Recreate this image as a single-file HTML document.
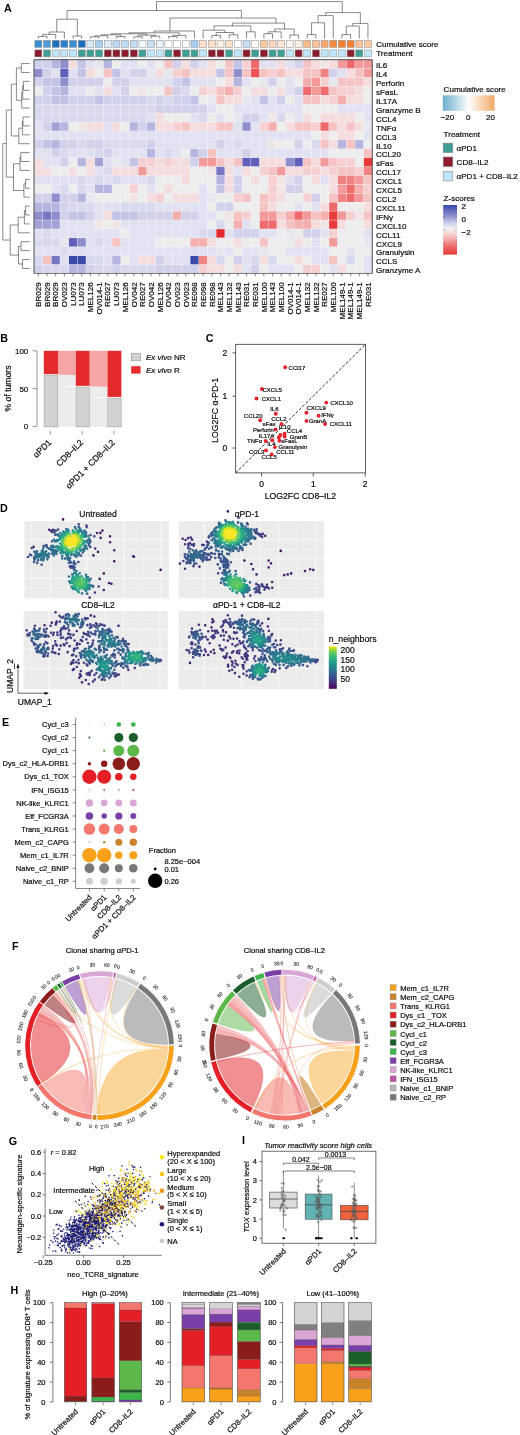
<!DOCTYPE html>
<html><head><meta charset="utf-8"><title>Figure</title>
<style>
html,body{margin:0;padding:0;background:#fff}
svg{display:block}
text{font-family:"Liberation Sans",sans-serif;fill:#0c0c0c;stroke:#0c0c0c;stroke-width:0.2px}
.pl{font-size:10.75px;font-weight:bold;fill:#000;stroke:none}
.t77{font-size:8.05px}
.t6{font-size:6px}
.t75{font-size:7.5px}
.t8{font-size:8px}
.t85{font-size:8.5px}
.t87{font-size:8.7px}
.t46{font-size:5px;fill:#222;stroke:#222;stroke-width:0.1px}
.t65{font-size:7px}
</style></head><body>
<svg width="520" height="1435" viewBox="0 0 520 1435">
<defs>
<linearGradient id="gcum" x1="0" x2="1" y1="0" y2="0"><stop offset="0" stop-color="#6db0cb"/><stop offset="0.25" stop-color="#b3d6e4"/><stop offset="0.5" stop-color="#ffffff"/><stop offset="0.75" stop-color="#f8d3b0"/><stop offset="1" stop-color="#f0a868"/></linearGradient>
<linearGradient id="gz" x1="0" x2="0" y1="0" y2="1"><stop offset="0" stop-color="#3848a8"/><stop offset="0.2" stop-color="#8888cc"/><stop offset="0.38" stop-color="#d4d4ec"/><stop offset="0.48" stop-color="#f2f0f2"/><stop offset="0.62" stop-color="#f6c8c8"/><stop offset="0.82" stop-color="#ef7070"/><stop offset="1" stop-color="#e83a3a"/></linearGradient>
<linearGradient id="gvir" x1="0" x2="0" y1="1" y2="0"><stop offset="0.0" stop-color="#440154"/><stop offset="0.125" stop-color="#482878"/><stop offset="0.25" stop-color="#3e4a89"/><stop offset="0.375" stop-color="#31688e"/><stop offset="0.5" stop-color="#26828e"/><stop offset="0.625" stop-color="#1f9e89"/><stop offset="0.75" stop-color="#35b779"/><stop offset="0.875" stop-color="#6ece58"/><stop offset="0.94" stop-color="#b5de2b"/><stop offset="1.0" stop-color="#fde725"/></linearGradient>
</defs>
<rect width="520" height="1435" fill="#fff"/>
<text x="3.9" y="12.3" class="pl">A</text>
<rect x="34" y="59.7" width="338.29" height="213.79" fill="#f4f4fb"/>
<rect x="34.23" y="59.93" width="8.22" height="8.46" fill="#d1d1eb"/>
<rect x="42.9" y="59.93" width="8.22" height="8.46" fill="#d1d1eb"/>
<rect x="51.57" y="59.93" width="8.22" height="8.46" fill="#b5b5df"/>
<rect x="60.25" y="59.93" width="8.22" height="8.46" fill="#8e8ecd"/>
<rect x="68.92" y="59.93" width="8.22" height="8.46" fill="#f5dddd"/>
<rect x="77.59" y="59.93" width="8.22" height="8.46" fill="#c3c3e5"/>
<rect x="86.27" y="59.93" width="8.22" height="8.46" fill="#e1e1f1"/>
<rect x="94.94" y="59.93" width="8.22" height="8.46" fill="#e7e7ef"/>
<rect x="103.62" y="59.93" width="8.22" height="8.46" fill="#b5b5df"/>
<rect x="112.29" y="59.93" width="8.22" height="8.46" fill="#ededed"/>
<rect x="120.96" y="59.93" width="8.22" height="8.46" fill="#e1e1f1"/>
<rect x="129.64" y="59.93" width="8.22" height="8.46" fill="#e1e1f1"/>
<rect x="138.31" y="59.93" width="8.22" height="8.46" fill="#ededed"/>
<rect x="146.99" y="59.93" width="8.22" height="8.46" fill="#e1e1f1"/>
<rect x="155.66" y="59.93" width="8.22" height="8.46" fill="#ededed"/>
<rect x="164.33" y="59.93" width="8.22" height="8.46" fill="#f6c3c3"/>
<rect x="173.01" y="59.93" width="8.22" height="8.46" fill="#d1d1eb"/>
<rect x="181.68" y="59.93" width="8.22" height="8.46" fill="#f5dddd"/>
<rect x="190.36" y="59.93" width="8.22" height="8.46" fill="#d1d1eb"/>
<rect x="199.03" y="59.93" width="8.22" height="8.46" fill="#e1e1f1"/>
<rect x="207.7" y="59.93" width="8.22" height="8.46" fill="#f5dddd"/>
<rect x="216.38" y="59.93" width="8.22" height="8.46" fill="#ededed"/>
<rect x="225.05" y="59.93" width="8.22" height="8.46" fill="#f6c3c3"/>
<rect x="233.73" y="59.93" width="8.22" height="8.46" fill="#c3c3e5"/>
<rect x="242.4" y="59.93" width="8.22" height="8.46" fill="#f6d0d0"/>
<rect x="251.07" y="59.93" width="8.22" height="8.46" fill="#ef6b6b"/>
<rect x="259.75" y="59.93" width="8.22" height="8.46" fill="#e1e1f1"/>
<rect x="268.42" y="59.93" width="8.22" height="8.46" fill="#e1e1f1"/>
<rect x="277.1" y="59.93" width="8.22" height="8.46" fill="#f5dddd"/>
<rect x="285.77" y="59.93" width="8.22" height="8.46" fill="#e1e1f1"/>
<rect x="294.44" y="59.93" width="8.22" height="8.46" fill="#d1d1eb"/>
<rect x="303.12" y="59.93" width="8.22" height="8.46" fill="#f6c3c3"/>
<rect x="311.79" y="59.93" width="8.22" height="8.46" fill="#f5dddd"/>
<rect x="320.47" y="59.93" width="8.22" height="8.46" fill="#f1e5e5"/>
<rect x="329.14" y="59.93" width="8.22" height="8.46" fill="#f5dddd"/>
<rect x="337.81" y="59.93" width="8.22" height="8.46" fill="#f39999"/>
<rect x="346.49" y="59.93" width="8.22" height="8.46" fill="#ef6b6b"/>
<rect x="355.16" y="59.93" width="8.22" height="8.46" fill="#f39999"/>
<rect x="363.84" y="59.93" width="8.22" height="8.46" fill="#f39999"/>
<rect x="34.23" y="68.83" width="8.22" height="8.46" fill="#8e8ecd"/>
<rect x="42.9" y="68.83" width="8.22" height="8.46" fill="#d1d1eb"/>
<rect x="51.57" y="68.83" width="8.22" height="8.46" fill="#e1e1f1"/>
<rect x="60.25" y="68.83" width="8.22" height="8.46" fill="#6060ba"/>
<rect x="68.92" y="68.83" width="8.22" height="8.46" fill="#e1e1f1"/>
<rect x="77.59" y="68.83" width="8.22" height="8.46" fill="#c3c3e5"/>
<rect x="86.27" y="68.83" width="8.22" height="8.46" fill="#f5dddd"/>
<rect x="94.94" y="68.83" width="8.22" height="8.46" fill="#ededed"/>
<rect x="103.62" y="68.83" width="8.22" height="8.46" fill="#f6c3c3"/>
<rect x="112.29" y="68.83" width="8.22" height="8.46" fill="#c3c3e5"/>
<rect x="120.96" y="68.83" width="8.22" height="8.46" fill="#e1e1f1"/>
<rect x="129.64" y="68.83" width="8.22" height="8.46" fill="#d1d1eb"/>
<rect x="138.31" y="68.83" width="8.22" height="8.46" fill="#d1d1eb"/>
<rect x="146.99" y="68.83" width="8.22" height="8.46" fill="#e7e7ef"/>
<rect x="155.66" y="68.83" width="8.22" height="8.46" fill="#f5dddd"/>
<rect x="164.33" y="68.83" width="8.22" height="8.46" fill="#e7e7ef"/>
<rect x="173.01" y="68.83" width="8.22" height="8.46" fill="#f6d0d0"/>
<rect x="181.68" y="68.83" width="8.22" height="8.46" fill="#f6c3c3"/>
<rect x="190.36" y="68.83" width="8.22" height="8.46" fill="#f5dddd"/>
<rect x="199.03" y="68.83" width="8.22" height="8.46" fill="#f5dddd"/>
<rect x="207.7" y="68.83" width="8.22" height="8.46" fill="#f5dddd"/>
<rect x="216.38" y="68.83" width="8.22" height="8.46" fill="#c3c3e5"/>
<rect x="225.05" y="68.83" width="8.22" height="8.46" fill="#f6c3c3"/>
<rect x="233.73" y="68.83" width="8.22" height="8.46" fill="#8e8ecd"/>
<rect x="242.4" y="68.83" width="8.22" height="8.46" fill="#f6c3c3"/>
<rect x="251.07" y="68.83" width="8.22" height="8.46" fill="#ec5252"/>
<rect x="259.75" y="68.83" width="8.22" height="8.46" fill="#f6c3c3"/>
<rect x="268.42" y="68.83" width="8.22" height="8.46" fill="#f6d0d0"/>
<rect x="277.1" y="68.83" width="8.22" height="8.46" fill="#f6c3c3"/>
<rect x="285.77" y="68.83" width="8.22" height="8.46" fill="#f5dddd"/>
<rect x="294.44" y="68.83" width="8.22" height="8.46" fill="#f5dddd"/>
<rect x="303.12" y="68.83" width="8.22" height="8.46" fill="#f6c3c3"/>
<rect x="311.79" y="68.83" width="8.22" height="8.46" fill="#f6c3c3"/>
<rect x="320.47" y="68.83" width="8.22" height="8.46" fill="#f18282"/>
<rect x="329.14" y="68.83" width="8.22" height="8.46" fill="#d1d1eb"/>
<rect x="337.81" y="68.83" width="8.22" height="8.46" fill="#e1e1f1"/>
<rect x="346.49" y="68.83" width="8.22" height="8.46" fill="#f5dddd"/>
<rect x="355.16" y="68.83" width="8.22" height="8.46" fill="#f6c3c3"/>
<rect x="363.84" y="68.83" width="8.22" height="8.46" fill="#f39999"/>
<rect x="34.23" y="77.74" width="8.22" height="8.46" fill="#d1d1eb"/>
<rect x="42.9" y="77.74" width="8.22" height="8.46" fill="#c3c3e5"/>
<rect x="51.57" y="77.74" width="8.22" height="8.46" fill="#c3c3e5"/>
<rect x="60.25" y="77.74" width="8.22" height="8.46" fill="#8e8ecd"/>
<rect x="68.92" y="77.74" width="8.22" height="8.46" fill="#d1d1eb"/>
<rect x="77.59" y="77.74" width="8.22" height="8.46" fill="#d1d1eb"/>
<rect x="86.27" y="77.74" width="8.22" height="8.46" fill="#d1d1eb"/>
<rect x="94.94" y="77.74" width="8.22" height="8.46" fill="#d1d1eb"/>
<rect x="103.62" y="77.74" width="8.22" height="8.46" fill="#ededed"/>
<rect x="112.29" y="77.74" width="8.22" height="8.46" fill="#d1d1eb"/>
<rect x="120.96" y="77.74" width="8.22" height="8.46" fill="#d1d1eb"/>
<rect x="129.64" y="77.74" width="8.22" height="8.46" fill="#e1e1f1"/>
<rect x="138.31" y="77.74" width="8.22" height="8.46" fill="#e1e1f1"/>
<rect x="146.99" y="77.74" width="8.22" height="8.46" fill="#e1e1f1"/>
<rect x="155.66" y="77.74" width="8.22" height="8.46" fill="#e1e1f1"/>
<rect x="164.33" y="77.74" width="8.22" height="8.46" fill="#e1e1f1"/>
<rect x="173.01" y="77.74" width="8.22" height="8.46" fill="#d1d1eb"/>
<rect x="181.68" y="77.74" width="8.22" height="8.46" fill="#c3c3e5"/>
<rect x="190.36" y="77.74" width="8.22" height="8.46" fill="#e1e1f1"/>
<rect x="199.03" y="77.74" width="8.22" height="8.46" fill="#e1e1f1"/>
<rect x="207.7" y="77.74" width="8.22" height="8.46" fill="#e1e1f1"/>
<rect x="216.38" y="77.74" width="8.22" height="8.46" fill="#ededed"/>
<rect x="225.05" y="77.74" width="8.22" height="8.46" fill="#f5dddd"/>
<rect x="233.73" y="77.74" width="8.22" height="8.46" fill="#b5b5df"/>
<rect x="242.4" y="77.74" width="8.22" height="8.46" fill="#e1e1f1"/>
<rect x="251.07" y="77.74" width="8.22" height="8.46" fill="#ededed"/>
<rect x="259.75" y="77.74" width="8.22" height="8.46" fill="#e7e7ef"/>
<rect x="268.42" y="77.74" width="8.22" height="8.46" fill="#d1d1eb"/>
<rect x="277.1" y="77.74" width="8.22" height="8.46" fill="#ededed"/>
<rect x="285.77" y="77.74" width="8.22" height="8.46" fill="#e1e1f1"/>
<rect x="294.44" y="77.74" width="8.22" height="8.46" fill="#ededed"/>
<rect x="303.12" y="77.74" width="8.22" height="8.46" fill="#f4aeae"/>
<rect x="311.79" y="77.74" width="8.22" height="8.46" fill="#f39999"/>
<rect x="320.47" y="77.74" width="8.22" height="8.46" fill="#f6d0d0"/>
<rect x="329.14" y="77.74" width="8.22" height="8.46" fill="#e7e7ef"/>
<rect x="337.81" y="77.74" width="8.22" height="8.46" fill="#f6c3c3"/>
<rect x="346.49" y="77.74" width="8.22" height="8.46" fill="#f6c3c3"/>
<rect x="355.16" y="77.74" width="8.22" height="8.46" fill="#f6c3c3"/>
<rect x="363.84" y="77.74" width="8.22" height="8.46" fill="#f5dddd"/>
<rect x="34.23" y="86.65" width="8.22" height="8.46" fill="#ededed"/>
<rect x="42.9" y="86.65" width="8.22" height="8.46" fill="#d1d1eb"/>
<rect x="51.57" y="86.65" width="8.22" height="8.46" fill="#c3c3e5"/>
<rect x="60.25" y="86.65" width="8.22" height="8.46" fill="#b5b5df"/>
<rect x="68.92" y="86.65" width="8.22" height="8.46" fill="#e1e1f1"/>
<rect x="77.59" y="86.65" width="8.22" height="8.46" fill="#e1e1f1"/>
<rect x="86.27" y="86.65" width="8.22" height="8.46" fill="#ededed"/>
<rect x="94.94" y="86.65" width="8.22" height="8.46" fill="#e1e1f1"/>
<rect x="103.62" y="86.65" width="8.22" height="8.46" fill="#f5dddd"/>
<rect x="112.29" y="86.65" width="8.22" height="8.46" fill="#e1e1f1"/>
<rect x="120.96" y="86.65" width="8.22" height="8.46" fill="#d1d1eb"/>
<rect x="129.64" y="86.65" width="8.22" height="8.46" fill="#ededed"/>
<rect x="138.31" y="86.65" width="8.22" height="8.46" fill="#f1e5e5"/>
<rect x="146.99" y="86.65" width="8.22" height="8.46" fill="#ededed"/>
<rect x="155.66" y="86.65" width="8.22" height="8.46" fill="#ededed"/>
<rect x="164.33" y="86.65" width="8.22" height="8.46" fill="#f6c3c3"/>
<rect x="173.01" y="86.65" width="8.22" height="8.46" fill="#d1d1eb"/>
<rect x="181.68" y="86.65" width="8.22" height="8.46" fill="#d9d9ee"/>
<rect x="190.36" y="86.65" width="8.22" height="8.46" fill="#ededed"/>
<rect x="199.03" y="86.65" width="8.22" height="8.46" fill="#f6d0d0"/>
<rect x="207.7" y="86.65" width="8.22" height="8.46" fill="#f5dddd"/>
<rect x="216.38" y="86.65" width="8.22" height="8.46" fill="#f6c3c3"/>
<rect x="225.05" y="86.65" width="8.22" height="8.46" fill="#f4aeae"/>
<rect x="233.73" y="86.65" width="8.22" height="8.46" fill="#f6d0d0"/>
<rect x="242.4" y="86.65" width="8.22" height="8.46" fill="#ededed"/>
<rect x="251.07" y="86.65" width="8.22" height="8.46" fill="#f5dddd"/>
<rect x="259.75" y="86.65" width="8.22" height="8.46" fill="#f5dddd"/>
<rect x="268.42" y="86.65" width="8.22" height="8.46" fill="#ededed"/>
<rect x="277.1" y="86.65" width="8.22" height="8.46" fill="#f5dddd"/>
<rect x="285.77" y="86.65" width="8.22" height="8.46" fill="#e1e1f1"/>
<rect x="294.44" y="86.65" width="8.22" height="8.46" fill="#d1d1eb"/>
<rect x="303.12" y="86.65" width="8.22" height="8.46" fill="#ef6b6b"/>
<rect x="311.79" y="86.65" width="8.22" height="8.46" fill="#f39999"/>
<rect x="320.47" y="86.65" width="8.22" height="8.46" fill="#ef6b6b"/>
<rect x="329.14" y="86.65" width="8.22" height="8.46" fill="#f6c3c3"/>
<rect x="337.81" y="86.65" width="8.22" height="8.46" fill="#f6d0d0"/>
<rect x="346.49" y="86.65" width="8.22" height="8.46" fill="#f6d0d0"/>
<rect x="355.16" y="86.65" width="8.22" height="8.46" fill="#f5dddd"/>
<rect x="363.84" y="86.65" width="8.22" height="8.46" fill="#ededed"/>
<rect x="34.23" y="95.56" width="8.22" height="8.46" fill="#d1d1eb"/>
<rect x="42.9" y="95.56" width="8.22" height="8.46" fill="#d1d1eb"/>
<rect x="51.57" y="95.56" width="8.22" height="8.46" fill="#c3c3e5"/>
<rect x="60.25" y="95.56" width="8.22" height="8.46" fill="#c3c3e5"/>
<rect x="68.92" y="95.56" width="8.22" height="8.46" fill="#d1d1eb"/>
<rect x="77.59" y="95.56" width="8.22" height="8.46" fill="#d1d1eb"/>
<rect x="86.27" y="95.56" width="8.22" height="8.46" fill="#d1d1eb"/>
<rect x="94.94" y="95.56" width="8.22" height="8.46" fill="#c3c3e5"/>
<rect x="103.62" y="95.56" width="8.22" height="8.46" fill="#d1d1eb"/>
<rect x="112.29" y="95.56" width="8.22" height="8.46" fill="#d1d1eb"/>
<rect x="120.96" y="95.56" width="8.22" height="8.46" fill="#d1d1eb"/>
<rect x="129.64" y="95.56" width="8.22" height="8.46" fill="#d1d1eb"/>
<rect x="138.31" y="95.56" width="8.22" height="8.46" fill="#d1d1eb"/>
<rect x="146.99" y="95.56" width="8.22" height="8.46" fill="#d9d9ee"/>
<rect x="155.66" y="95.56" width="8.22" height="8.46" fill="#d1d1eb"/>
<rect x="164.33" y="95.56" width="8.22" height="8.46" fill="#d9d9ee"/>
<rect x="173.01" y="95.56" width="8.22" height="8.46" fill="#d1d1eb"/>
<rect x="181.68" y="95.56" width="8.22" height="8.46" fill="#d1d1eb"/>
<rect x="190.36" y="95.56" width="8.22" height="8.46" fill="#c3c3e5"/>
<rect x="199.03" y="95.56" width="8.22" height="8.46" fill="#ededed"/>
<rect x="207.7" y="95.56" width="8.22" height="8.46" fill="#e7e7ef"/>
<rect x="216.38" y="95.56" width="8.22" height="8.46" fill="#f6c3c3"/>
<rect x="225.05" y="95.56" width="8.22" height="8.46" fill="#f5dddd"/>
<rect x="233.73" y="95.56" width="8.22" height="8.46" fill="#f5dddd"/>
<rect x="242.4" y="95.56" width="8.22" height="8.46" fill="#e7e7ef"/>
<rect x="251.07" y="95.56" width="8.22" height="8.46" fill="#e1e1f1"/>
<rect x="259.75" y="95.56" width="8.22" height="8.46" fill="#c3c3e5"/>
<rect x="268.42" y="95.56" width="8.22" height="8.46" fill="#e1e1f1"/>
<rect x="277.1" y="95.56" width="8.22" height="8.46" fill="#d1d1eb"/>
<rect x="285.77" y="95.56" width="8.22" height="8.46" fill="#ededed"/>
<rect x="294.44" y="95.56" width="8.22" height="8.46" fill="#e1e1f1"/>
<rect x="303.12" y="95.56" width="8.22" height="8.46" fill="#f6c3c3"/>
<rect x="311.79" y="95.56" width="8.22" height="8.46" fill="#f6c3c3"/>
<rect x="320.47" y="95.56" width="8.22" height="8.46" fill="#f5dddd"/>
<rect x="329.14" y="95.56" width="8.22" height="8.46" fill="#f6d0d0"/>
<rect x="337.81" y="95.56" width="8.22" height="8.46" fill="#f4aeae"/>
<rect x="346.49" y="95.56" width="8.22" height="8.46" fill="#f5dddd"/>
<rect x="355.16" y="95.56" width="8.22" height="8.46" fill="#f5dddd"/>
<rect x="363.84" y="95.56" width="8.22" height="8.46" fill="#ededed"/>
<rect x="34.23" y="104.47" width="8.22" height="8.46" fill="#d9d9ee"/>
<rect x="42.9" y="104.47" width="8.22" height="8.46" fill="#d9d9ee"/>
<rect x="51.57" y="104.47" width="8.22" height="8.46" fill="#d9d9ee"/>
<rect x="60.25" y="104.47" width="8.22" height="8.46" fill="#d9d9ee"/>
<rect x="68.92" y="104.47" width="8.22" height="8.46" fill="#d9d9ee"/>
<rect x="77.59" y="104.47" width="8.22" height="8.46" fill="#d9d9ee"/>
<rect x="86.27" y="104.47" width="8.22" height="8.46" fill="#d9d9ee"/>
<rect x="94.94" y="104.47" width="8.22" height="8.46" fill="#d9d9ee"/>
<rect x="103.62" y="104.47" width="8.22" height="8.46" fill="#d9d9ee"/>
<rect x="112.29" y="104.47" width="8.22" height="8.46" fill="#d9d9ee"/>
<rect x="120.96" y="104.47" width="8.22" height="8.46" fill="#d9d9ee"/>
<rect x="129.64" y="104.47" width="8.22" height="8.46" fill="#d9d9ee"/>
<rect x="138.31" y="104.47" width="8.22" height="8.46" fill="#d9d9ee"/>
<rect x="146.99" y="104.47" width="8.22" height="8.46" fill="#d9d9ee"/>
<rect x="155.66" y="104.47" width="8.22" height="8.46" fill="#d1d1eb"/>
<rect x="164.33" y="104.47" width="8.22" height="8.46" fill="#d1d1eb"/>
<rect x="173.01" y="104.47" width="8.22" height="8.46" fill="#d1d1eb"/>
<rect x="181.68" y="104.47" width="8.22" height="8.46" fill="#d1d1eb"/>
<rect x="190.36" y="104.47" width="8.22" height="8.46" fill="#d1d1eb"/>
<rect x="199.03" y="104.47" width="8.22" height="8.46" fill="#d1d1eb"/>
<rect x="207.7" y="104.47" width="8.22" height="8.46" fill="#e1e1f1"/>
<rect x="216.38" y="104.47" width="8.22" height="8.46" fill="#ededed"/>
<rect x="225.05" y="104.47" width="8.22" height="8.46" fill="#ededed"/>
<rect x="233.73" y="104.47" width="8.22" height="8.46" fill="#e1e1f1"/>
<rect x="242.4" y="104.47" width="8.22" height="8.46" fill="#e1e1f1"/>
<rect x="251.07" y="104.47" width="8.22" height="8.46" fill="#e1e1f1"/>
<rect x="259.75" y="104.47" width="8.22" height="8.46" fill="#e1e1f1"/>
<rect x="268.42" y="104.47" width="8.22" height="8.46" fill="#e1e1f1"/>
<rect x="277.1" y="104.47" width="8.22" height="8.46" fill="#e1e1f1"/>
<rect x="285.77" y="104.47" width="8.22" height="8.46" fill="#e1e1f1"/>
<rect x="294.44" y="104.47" width="8.22" height="8.46" fill="#e1e1f1"/>
<rect x="303.12" y="104.47" width="8.22" height="8.46" fill="#ededed"/>
<rect x="311.79" y="104.47" width="8.22" height="8.46" fill="#ededed"/>
<rect x="320.47" y="104.47" width="8.22" height="8.46" fill="#ededed"/>
<rect x="329.14" y="104.47" width="8.22" height="8.46" fill="#ededed"/>
<rect x="337.81" y="104.47" width="8.22" height="8.46" fill="#e1e1f1"/>
<rect x="346.49" y="104.47" width="8.22" height="8.46" fill="#e1e1f1"/>
<rect x="355.16" y="104.47" width="8.22" height="8.46" fill="#e1e1f1"/>
<rect x="363.84" y="104.47" width="8.22" height="8.46" fill="#e1e1f1"/>
<rect x="34.23" y="113.37" width="8.22" height="8.46" fill="#d9d9ee"/>
<rect x="42.9" y="113.37" width="8.22" height="8.46" fill="#d9d9ee"/>
<rect x="51.57" y="113.37" width="8.22" height="8.46" fill="#d9d9ee"/>
<rect x="60.25" y="113.37" width="8.22" height="8.46" fill="#d9d9ee"/>
<rect x="68.92" y="113.37" width="8.22" height="8.46" fill="#d9d9ee"/>
<rect x="77.59" y="113.37" width="8.22" height="8.46" fill="#d9d9ee"/>
<rect x="86.27" y="113.37" width="8.22" height="8.46" fill="#d9d9ee"/>
<rect x="94.94" y="113.37" width="8.22" height="8.46" fill="#d9d9ee"/>
<rect x="103.62" y="113.37" width="8.22" height="8.46" fill="#d9d9ee"/>
<rect x="112.29" y="113.37" width="8.22" height="8.46" fill="#d9d9ee"/>
<rect x="120.96" y="113.37" width="8.22" height="8.46" fill="#d9d9ee"/>
<rect x="129.64" y="113.37" width="8.22" height="8.46" fill="#d9d9ee"/>
<rect x="138.31" y="113.37" width="8.22" height="8.46" fill="#d9d9ee"/>
<rect x="146.99" y="113.37" width="8.22" height="8.46" fill="#e1e1f1"/>
<rect x="155.66" y="113.37" width="8.22" height="8.46" fill="#f5dddd"/>
<rect x="164.33" y="113.37" width="8.22" height="8.46" fill="#ededed"/>
<rect x="173.01" y="113.37" width="8.22" height="8.46" fill="#ededed"/>
<rect x="181.68" y="113.37" width="8.22" height="8.46" fill="#ededed"/>
<rect x="190.36" y="113.37" width="8.22" height="8.46" fill="#e1e1f1"/>
<rect x="199.03" y="113.37" width="8.22" height="8.46" fill="#d9d9ee"/>
<rect x="207.7" y="113.37" width="8.22" height="8.46" fill="#ededed"/>
<rect x="216.38" y="113.37" width="8.22" height="8.46" fill="#e1e1f1"/>
<rect x="225.05" y="113.37" width="8.22" height="8.46" fill="#ededed"/>
<rect x="233.73" y="113.37" width="8.22" height="8.46" fill="#e7e7ef"/>
<rect x="242.4" y="113.37" width="8.22" height="8.46" fill="#d1d1eb"/>
<rect x="251.07" y="113.37" width="8.22" height="8.46" fill="#d1d1eb"/>
<rect x="259.75" y="113.37" width="8.22" height="8.46" fill="#e1e1f1"/>
<rect x="268.42" y="113.37" width="8.22" height="8.46" fill="#f1e5e5"/>
<rect x="277.1" y="113.37" width="8.22" height="8.46" fill="#d9d9ee"/>
<rect x="285.77" y="113.37" width="8.22" height="8.46" fill="#ededed"/>
<rect x="294.44" y="113.37" width="8.22" height="8.46" fill="#e1e1f1"/>
<rect x="303.12" y="113.37" width="8.22" height="8.46" fill="#f5dddd"/>
<rect x="311.79" y="113.37" width="8.22" height="8.46" fill="#ededed"/>
<rect x="320.47" y="113.37" width="8.22" height="8.46" fill="#f5dddd"/>
<rect x="329.14" y="113.37" width="8.22" height="8.46" fill="#f5dddd"/>
<rect x="337.81" y="113.37" width="8.22" height="8.46" fill="#f5dddd"/>
<rect x="346.49" y="113.37" width="8.22" height="8.46" fill="#f5dddd"/>
<rect x="355.16" y="113.37" width="8.22" height="8.46" fill="#ededed"/>
<rect x="363.84" y="113.37" width="8.22" height="8.46" fill="#e1e1f1"/>
<rect x="34.23" y="122.28" width="8.22" height="8.46" fill="#e1e1f1"/>
<rect x="42.9" y="122.28" width="8.22" height="8.46" fill="#d1d1eb"/>
<rect x="51.57" y="122.28" width="8.22" height="8.46" fill="#a2a2d6"/>
<rect x="60.25" y="122.28" width="8.22" height="8.46" fill="#b5b5df"/>
<rect x="68.92" y="122.28" width="8.22" height="8.46" fill="#ededed"/>
<rect x="77.59" y="122.28" width="8.22" height="8.46" fill="#f1e5e5"/>
<rect x="86.27" y="122.28" width="8.22" height="8.46" fill="#f5dddd"/>
<rect x="94.94" y="122.28" width="8.22" height="8.46" fill="#f5dddd"/>
<rect x="103.62" y="122.28" width="8.22" height="8.46" fill="#e1e1f1"/>
<rect x="112.29" y="122.28" width="8.22" height="8.46" fill="#f5dddd"/>
<rect x="120.96" y="122.28" width="8.22" height="8.46" fill="#ededed"/>
<rect x="129.64" y="122.28" width="8.22" height="8.46" fill="#b5b5df"/>
<rect x="138.31" y="122.28" width="8.22" height="8.46" fill="#d1d1eb"/>
<rect x="146.99" y="122.28" width="8.22" height="8.46" fill="#b5b5df"/>
<rect x="155.66" y="122.28" width="8.22" height="8.46" fill="#f5dddd"/>
<rect x="164.33" y="122.28" width="8.22" height="8.46" fill="#f5dddd"/>
<rect x="173.01" y="122.28" width="8.22" height="8.46" fill="#f6d0d0"/>
<rect x="181.68" y="122.28" width="8.22" height="8.46" fill="#f6c3c3"/>
<rect x="190.36" y="122.28" width="8.22" height="8.46" fill="#f5dddd"/>
<rect x="199.03" y="122.28" width="8.22" height="8.46" fill="#f5dddd"/>
<rect x="207.7" y="122.28" width="8.22" height="8.46" fill="#f5dddd"/>
<rect x="216.38" y="122.28" width="8.22" height="8.46" fill="#f6c3c3"/>
<rect x="225.05" y="122.28" width="8.22" height="8.46" fill="#f6c3c3"/>
<rect x="233.73" y="122.28" width="8.22" height="8.46" fill="#e1e1f1"/>
<rect x="242.4" y="122.28" width="8.22" height="8.46" fill="#8e8ecd"/>
<rect x="251.07" y="122.28" width="8.22" height="8.46" fill="#e1e1f1"/>
<rect x="259.75" y="122.28" width="8.22" height="8.46" fill="#f6d0d0"/>
<rect x="268.42" y="122.28" width="8.22" height="8.46" fill="#f4aeae"/>
<rect x="277.1" y="122.28" width="8.22" height="8.46" fill="#ededed"/>
<rect x="285.77" y="122.28" width="8.22" height="8.46" fill="#f5dddd"/>
<rect x="294.44" y="122.28" width="8.22" height="8.46" fill="#f6c3c3"/>
<rect x="303.12" y="122.28" width="8.22" height="8.46" fill="#f6c3c3"/>
<rect x="311.79" y="122.28" width="8.22" height="8.46" fill="#f6d0d0"/>
<rect x="320.47" y="122.28" width="8.22" height="8.46" fill="#ef6b6b"/>
<rect x="329.14" y="122.28" width="8.22" height="8.46" fill="#f6c3c3"/>
<rect x="337.81" y="122.28" width="8.22" height="8.46" fill="#f5dddd"/>
<rect x="346.49" y="122.28" width="8.22" height="8.46" fill="#f6c3c3"/>
<rect x="355.16" y="122.28" width="8.22" height="8.46" fill="#f5dddd"/>
<rect x="363.84" y="122.28" width="8.22" height="8.46" fill="#e7e7ef"/>
<rect x="34.23" y="131.19" width="8.22" height="8.46" fill="#e1e1f1"/>
<rect x="42.9" y="131.19" width="8.22" height="8.46" fill="#e1e1f1"/>
<rect x="51.57" y="131.19" width="8.22" height="8.46" fill="#e1e1f1"/>
<rect x="60.25" y="131.19" width="8.22" height="8.46" fill="#e1e1f1"/>
<rect x="68.92" y="131.19" width="8.22" height="8.46" fill="#e1e1f1"/>
<rect x="77.59" y="131.19" width="8.22" height="8.46" fill="#e1e1f1"/>
<rect x="86.27" y="131.19" width="8.22" height="8.46" fill="#e1e1f1"/>
<rect x="94.94" y="131.19" width="8.22" height="8.46" fill="#e1e1f1"/>
<rect x="103.62" y="131.19" width="8.22" height="8.46" fill="#e1e1f1"/>
<rect x="112.29" y="131.19" width="8.22" height="8.46" fill="#e1e1f1"/>
<rect x="120.96" y="131.19" width="8.22" height="8.46" fill="#e1e1f1"/>
<rect x="129.64" y="131.19" width="8.22" height="8.46" fill="#e1e1f1"/>
<rect x="138.31" y="131.19" width="8.22" height="8.46" fill="#e1e1f1"/>
<rect x="146.99" y="131.19" width="8.22" height="8.46" fill="#e1e1f1"/>
<rect x="155.66" y="131.19" width="8.22" height="8.46" fill="#e1e1f1"/>
<rect x="164.33" y="131.19" width="8.22" height="8.46" fill="#e1e1f1"/>
<rect x="173.01" y="131.19" width="8.22" height="8.46" fill="#e1e1f1"/>
<rect x="181.68" y="131.19" width="8.22" height="8.46" fill="#e1e1f1"/>
<rect x="190.36" y="131.19" width="8.22" height="8.46" fill="#e1e1f1"/>
<rect x="199.03" y="131.19" width="8.22" height="8.46" fill="#e1e1f1"/>
<rect x="207.7" y="131.19" width="8.22" height="8.46" fill="#e1e1f1"/>
<rect x="216.38" y="131.19" width="8.22" height="8.46" fill="#e1e1f1"/>
<rect x="225.05" y="131.19" width="8.22" height="8.46" fill="#e1e1f1"/>
<rect x="233.73" y="131.19" width="8.22" height="8.46" fill="#e1e1f1"/>
<rect x="242.4" y="131.19" width="8.22" height="8.46" fill="#e1e1f1"/>
<rect x="251.07" y="131.19" width="8.22" height="8.46" fill="#e1e1f1"/>
<rect x="259.75" y="131.19" width="8.22" height="8.46" fill="#e1e1f1"/>
<rect x="268.42" y="131.19" width="8.22" height="8.46" fill="#e1e1f1"/>
<rect x="277.1" y="131.19" width="8.22" height="8.46" fill="#e1e1f1"/>
<rect x="285.77" y="131.19" width="8.22" height="8.46" fill="#e1e1f1"/>
<rect x="294.44" y="131.19" width="8.22" height="8.46" fill="#e1e1f1"/>
<rect x="303.12" y="131.19" width="8.22" height="8.46" fill="#e1e1f1"/>
<rect x="311.79" y="131.19" width="8.22" height="8.46" fill="#ededed"/>
<rect x="320.47" y="131.19" width="8.22" height="8.46" fill="#f5dddd"/>
<rect x="329.14" y="131.19" width="8.22" height="8.46" fill="#ededed"/>
<rect x="337.81" y="131.19" width="8.22" height="8.46" fill="#f5dddd"/>
<rect x="346.49" y="131.19" width="8.22" height="8.46" fill="#f5dddd"/>
<rect x="355.16" y="131.19" width="8.22" height="8.46" fill="#ededed"/>
<rect x="363.84" y="131.19" width="8.22" height="8.46" fill="#e1e1f1"/>
<rect x="34.23" y="140.1" width="8.22" height="8.46" fill="#d1d1eb"/>
<rect x="42.9" y="140.1" width="8.22" height="8.46" fill="#c3c3e5"/>
<rect x="51.57" y="140.1" width="8.22" height="8.46" fill="#b5b5df"/>
<rect x="60.25" y="140.1" width="8.22" height="8.46" fill="#d1d1eb"/>
<rect x="68.92" y="140.1" width="8.22" height="8.46" fill="#d1d1eb"/>
<rect x="77.59" y="140.1" width="8.22" height="8.46" fill="#d9d9ee"/>
<rect x="86.27" y="140.1" width="8.22" height="8.46" fill="#d1d1eb"/>
<rect x="94.94" y="140.1" width="8.22" height="8.46" fill="#d1d1eb"/>
<rect x="103.62" y="140.1" width="8.22" height="8.46" fill="#d9d9ee"/>
<rect x="112.29" y="140.1" width="8.22" height="8.46" fill="#d9d9ee"/>
<rect x="120.96" y="140.1" width="8.22" height="8.46" fill="#d9d9ee"/>
<rect x="129.64" y="140.1" width="8.22" height="8.46" fill="#d9d9ee"/>
<rect x="138.31" y="140.1" width="8.22" height="8.46" fill="#d9d9ee"/>
<rect x="146.99" y="140.1" width="8.22" height="8.46" fill="#d1d1eb"/>
<rect x="155.66" y="140.1" width="8.22" height="8.46" fill="#e1e1f1"/>
<rect x="164.33" y="140.1" width="8.22" height="8.46" fill="#e1e1f1"/>
<rect x="173.01" y="140.1" width="8.22" height="8.46" fill="#e1e1f1"/>
<rect x="181.68" y="140.1" width="8.22" height="8.46" fill="#e1e1f1"/>
<rect x="190.36" y="140.1" width="8.22" height="8.46" fill="#e1e1f1"/>
<rect x="199.03" y="140.1" width="8.22" height="8.46" fill="#e1e1f1"/>
<rect x="207.7" y="140.1" width="8.22" height="8.46" fill="#e1e1f1"/>
<rect x="216.38" y="140.1" width="8.22" height="8.46" fill="#d1d1eb"/>
<rect x="225.05" y="140.1" width="8.22" height="8.46" fill="#e1e1f1"/>
<rect x="233.73" y="140.1" width="8.22" height="8.46" fill="#d9d9ee"/>
<rect x="242.4" y="140.1" width="8.22" height="8.46" fill="#e1e1f1"/>
<rect x="251.07" y="140.1" width="8.22" height="8.46" fill="#e1e1f1"/>
<rect x="259.75" y="140.1" width="8.22" height="8.46" fill="#e1e1f1"/>
<rect x="268.42" y="140.1" width="8.22" height="8.46" fill="#f1e5e5"/>
<rect x="277.1" y="140.1" width="8.22" height="8.46" fill="#ededed"/>
<rect x="285.77" y="140.1" width="8.22" height="8.46" fill="#ededed"/>
<rect x="294.44" y="140.1" width="8.22" height="8.46" fill="#d1d1eb"/>
<rect x="303.12" y="140.1" width="8.22" height="8.46" fill="#ededed"/>
<rect x="311.79" y="140.1" width="8.22" height="8.46" fill="#d9d9ee"/>
<rect x="320.47" y="140.1" width="8.22" height="8.46" fill="#f6c3c3"/>
<rect x="329.14" y="140.1" width="8.22" height="8.46" fill="#f5dddd"/>
<rect x="337.81" y="140.1" width="8.22" height="8.46" fill="#b5b5df"/>
<rect x="346.49" y="140.1" width="8.22" height="8.46" fill="#f6c3c3"/>
<rect x="355.16" y="140.1" width="8.22" height="8.46" fill="#b5b5df"/>
<rect x="363.84" y="140.1" width="8.22" height="8.46" fill="#ededed"/>
<rect x="34.23" y="149" width="8.22" height="8.46" fill="#e1e1f1"/>
<rect x="42.9" y="149" width="8.22" height="8.46" fill="#e1e1f1"/>
<rect x="51.57" y="149" width="8.22" height="8.46" fill="#d1d1eb"/>
<rect x="60.25" y="149" width="8.22" height="8.46" fill="#d9d9ee"/>
<rect x="68.92" y="149" width="8.22" height="8.46" fill="#e1e1f1"/>
<rect x="77.59" y="149" width="8.22" height="8.46" fill="#e1e1f1"/>
<rect x="86.27" y="149" width="8.22" height="8.46" fill="#e1e1f1"/>
<rect x="94.94" y="149" width="8.22" height="8.46" fill="#d9d9ee"/>
<rect x="103.62" y="149" width="8.22" height="8.46" fill="#d1d1eb"/>
<rect x="112.29" y="149" width="8.22" height="8.46" fill="#e1e1f1"/>
<rect x="120.96" y="149" width="8.22" height="8.46" fill="#e1e1f1"/>
<rect x="129.64" y="149" width="8.22" height="8.46" fill="#e1e1f1"/>
<rect x="138.31" y="149" width="8.22" height="8.46" fill="#e1e1f1"/>
<rect x="146.99" y="149" width="8.22" height="8.46" fill="#b5b5df"/>
<rect x="155.66" y="149" width="8.22" height="8.46" fill="#e1e1f1"/>
<rect x="164.33" y="149" width="8.22" height="8.46" fill="#d9d9ee"/>
<rect x="173.01" y="149" width="8.22" height="8.46" fill="#e1e1f1"/>
<rect x="181.68" y="149" width="8.22" height="8.46" fill="#ededed"/>
<rect x="190.36" y="149" width="8.22" height="8.46" fill="#b5b5df"/>
<rect x="199.03" y="149" width="8.22" height="8.46" fill="#d1d1eb"/>
<rect x="207.7" y="149" width="8.22" height="8.46" fill="#f6c3c3"/>
<rect x="216.38" y="149" width="8.22" height="8.46" fill="#e1e1f1"/>
<rect x="225.05" y="149" width="8.22" height="8.46" fill="#e1e1f1"/>
<rect x="233.73" y="149" width="8.22" height="8.46" fill="#e1e1f1"/>
<rect x="242.4" y="149" width="8.22" height="8.46" fill="#d1d1eb"/>
<rect x="251.07" y="149" width="8.22" height="8.46" fill="#e1e1f1"/>
<rect x="259.75" y="149" width="8.22" height="8.46" fill="#e1e1f1"/>
<rect x="268.42" y="149" width="8.22" height="8.46" fill="#e1e1f1"/>
<rect x="277.1" y="149" width="8.22" height="8.46" fill="#e1e1f1"/>
<rect x="285.77" y="149" width="8.22" height="8.46" fill="#e1e1f1"/>
<rect x="294.44" y="149" width="8.22" height="8.46" fill="#e1e1f1"/>
<rect x="303.12" y="149" width="8.22" height="8.46" fill="#e1e1f1"/>
<rect x="311.79" y="149" width="8.22" height="8.46" fill="#e1e1f1"/>
<rect x="320.47" y="149" width="8.22" height="8.46" fill="#e1e1f1"/>
<rect x="329.14" y="149" width="8.22" height="8.46" fill="#ededed"/>
<rect x="337.81" y="149" width="8.22" height="8.46" fill="#ededed"/>
<rect x="346.49" y="149" width="8.22" height="8.46" fill="#ededed"/>
<rect x="355.16" y="149" width="8.22" height="8.46" fill="#ededed"/>
<rect x="363.84" y="149" width="8.22" height="8.46" fill="#f6c3c3"/>
<rect x="34.23" y="157.91" width="8.22" height="8.46" fill="#f5dddd"/>
<rect x="42.9" y="157.91" width="8.22" height="8.46" fill="#e1e1f1"/>
<rect x="51.57" y="157.91" width="8.22" height="8.46" fill="#e1e1f1"/>
<rect x="60.25" y="157.91" width="8.22" height="8.46" fill="#d1d1eb"/>
<rect x="68.92" y="157.91" width="8.22" height="8.46" fill="#ededed"/>
<rect x="77.59" y="157.91" width="8.22" height="8.46" fill="#b5b5df"/>
<rect x="86.27" y="157.91" width="8.22" height="8.46" fill="#f5dddd"/>
<rect x="94.94" y="157.91" width="8.22" height="8.46" fill="#a2a2d6"/>
<rect x="103.62" y="157.91" width="8.22" height="8.46" fill="#e1e1f1"/>
<rect x="112.29" y="157.91" width="8.22" height="8.46" fill="#e7e7ef"/>
<rect x="120.96" y="157.91" width="8.22" height="8.46" fill="#e1e1f1"/>
<rect x="129.64" y="157.91" width="8.22" height="8.46" fill="#c3c3e5"/>
<rect x="138.31" y="157.91" width="8.22" height="8.46" fill="#f6d0d0"/>
<rect x="146.99" y="157.91" width="8.22" height="8.46" fill="#f6d0d0"/>
<rect x="155.66" y="157.91" width="8.22" height="8.46" fill="#f5dddd"/>
<rect x="164.33" y="157.91" width="8.22" height="8.46" fill="#f6d0d0"/>
<rect x="173.01" y="157.91" width="8.22" height="8.46" fill="#f5dddd"/>
<rect x="181.68" y="157.91" width="8.22" height="8.46" fill="#f5dddd"/>
<rect x="190.36" y="157.91" width="8.22" height="8.46" fill="#d1d1eb"/>
<rect x="199.03" y="157.91" width="8.22" height="8.46" fill="#f39999"/>
<rect x="207.7" y="157.91" width="8.22" height="8.46" fill="#f39999"/>
<rect x="216.38" y="157.91" width="8.22" height="8.46" fill="#f6c3c3"/>
<rect x="225.05" y="157.91" width="8.22" height="8.46" fill="#f5dddd"/>
<rect x="233.73" y="157.91" width="8.22" height="8.46" fill="#f6c3c3"/>
<rect x="242.4" y="157.91" width="8.22" height="8.46" fill="#6060ba"/>
<rect x="251.07" y="157.91" width="8.22" height="8.46" fill="#6060ba"/>
<rect x="259.75" y="157.91" width="8.22" height="8.46" fill="#f5dddd"/>
<rect x="268.42" y="157.91" width="8.22" height="8.46" fill="#f5dddd"/>
<rect x="277.1" y="157.91" width="8.22" height="8.46" fill="#f5dddd"/>
<rect x="285.77" y="157.91" width="8.22" height="8.46" fill="#8e8ecd"/>
<rect x="294.44" y="157.91" width="8.22" height="8.46" fill="#6060ba"/>
<rect x="303.12" y="157.91" width="8.22" height="8.46" fill="#f6c3c3"/>
<rect x="311.79" y="157.91" width="8.22" height="8.46" fill="#f5dddd"/>
<rect x="320.47" y="157.91" width="8.22" height="8.46" fill="#f39999"/>
<rect x="329.14" y="157.91" width="8.22" height="8.46" fill="#f6c3c3"/>
<rect x="337.81" y="157.91" width="8.22" height="8.46" fill="#f6d0d0"/>
<rect x="346.49" y="157.91" width="8.22" height="8.46" fill="#f6d0d0"/>
<rect x="355.16" y="157.91" width="8.22" height="8.46" fill="#ededed"/>
<rect x="363.84" y="157.91" width="8.22" height="8.46" fill="#e93a3a"/>
<rect x="34.23" y="166.82" width="8.22" height="8.46" fill="#f5dddd"/>
<rect x="42.9" y="166.82" width="8.22" height="8.46" fill="#f5dddd"/>
<rect x="51.57" y="166.82" width="8.22" height="8.46" fill="#ededed"/>
<rect x="60.25" y="166.82" width="8.22" height="8.46" fill="#ededed"/>
<rect x="68.92" y="166.82" width="8.22" height="8.46" fill="#f5dddd"/>
<rect x="77.59" y="166.82" width="8.22" height="8.46" fill="#ededed"/>
<rect x="86.27" y="166.82" width="8.22" height="8.46" fill="#f5dddd"/>
<rect x="94.94" y="166.82" width="8.22" height="8.46" fill="#e1e1f1"/>
<rect x="103.62" y="166.82" width="8.22" height="8.46" fill="#d9d9ee"/>
<rect x="112.29" y="166.82" width="8.22" height="8.46" fill="#f5dddd"/>
<rect x="120.96" y="166.82" width="8.22" height="8.46" fill="#f5dddd"/>
<rect x="129.64" y="166.82" width="8.22" height="8.46" fill="#f5dddd"/>
<rect x="138.31" y="166.82" width="8.22" height="8.46" fill="#f39999"/>
<rect x="146.99" y="166.82" width="8.22" height="8.46" fill="#f5dddd"/>
<rect x="155.66" y="166.82" width="8.22" height="8.46" fill="#f5dddd"/>
<rect x="164.33" y="166.82" width="8.22" height="8.46" fill="#f5dddd"/>
<rect x="173.01" y="166.82" width="8.22" height="8.46" fill="#f5dddd"/>
<rect x="181.68" y="166.82" width="8.22" height="8.46" fill="#f5dddd"/>
<rect x="190.36" y="166.82" width="8.22" height="8.46" fill="#ededed"/>
<rect x="199.03" y="166.82" width="8.22" height="8.46" fill="#ededed"/>
<rect x="207.7" y="166.82" width="8.22" height="8.46" fill="#f1e5e5"/>
<rect x="216.38" y="166.82" width="8.22" height="8.46" fill="#7777c4"/>
<rect x="225.05" y="166.82" width="8.22" height="8.46" fill="#f5dddd"/>
<rect x="233.73" y="166.82" width="8.22" height="8.46" fill="#e1e1f1"/>
<rect x="242.4" y="166.82" width="8.22" height="8.46" fill="#f5dddd"/>
<rect x="251.07" y="166.82" width="8.22" height="8.46" fill="#ededed"/>
<rect x="259.75" y="166.82" width="8.22" height="8.46" fill="#f6d0d0"/>
<rect x="268.42" y="166.82" width="8.22" height="8.46" fill="#f6c3c3"/>
<rect x="277.1" y="166.82" width="8.22" height="8.46" fill="#f39999"/>
<rect x="285.77" y="166.82" width="8.22" height="8.46" fill="#f5dddd"/>
<rect x="294.44" y="166.82" width="8.22" height="8.46" fill="#f5dddd"/>
<rect x="303.12" y="166.82" width="8.22" height="8.46" fill="#f6d0d0"/>
<rect x="311.79" y="166.82" width="8.22" height="8.46" fill="#f6d0d0"/>
<rect x="320.47" y="166.82" width="8.22" height="8.46" fill="#f5dddd"/>
<rect x="329.14" y="166.82" width="8.22" height="8.46" fill="#f6d0d0"/>
<rect x="337.81" y="166.82" width="8.22" height="8.46" fill="#f6c3c3"/>
<rect x="346.49" y="166.82" width="8.22" height="8.46" fill="#f6c3c3"/>
<rect x="355.16" y="166.82" width="8.22" height="8.46" fill="#f6d0d0"/>
<rect x="363.84" y="166.82" width="8.22" height="8.46" fill="#f18282"/>
<rect x="34.23" y="175.73" width="8.22" height="8.46" fill="#e1e1f1"/>
<rect x="42.9" y="175.73" width="8.22" height="8.46" fill="#e1e1f1"/>
<rect x="51.57" y="175.73" width="8.22" height="8.46" fill="#e1e1f1"/>
<rect x="60.25" y="175.73" width="8.22" height="8.46" fill="#e1e1f1"/>
<rect x="68.92" y="175.73" width="8.22" height="8.46" fill="#e1e1f1"/>
<rect x="77.59" y="175.73" width="8.22" height="8.46" fill="#d9d9ee"/>
<rect x="86.27" y="175.73" width="8.22" height="8.46" fill="#e1e1f1"/>
<rect x="94.94" y="175.73" width="8.22" height="8.46" fill="#d9d9ee"/>
<rect x="103.62" y="175.73" width="8.22" height="8.46" fill="#e1e1f1"/>
<rect x="112.29" y="175.73" width="8.22" height="8.46" fill="#d9d9ee"/>
<rect x="120.96" y="175.73" width="8.22" height="8.46" fill="#e1e1f1"/>
<rect x="129.64" y="175.73" width="8.22" height="8.46" fill="#e1e1f1"/>
<rect x="138.31" y="175.73" width="8.22" height="8.46" fill="#e1e1f1"/>
<rect x="146.99" y="175.73" width="8.22" height="8.46" fill="#d9d9ee"/>
<rect x="155.66" y="175.73" width="8.22" height="8.46" fill="#ededed"/>
<rect x="164.33" y="175.73" width="8.22" height="8.46" fill="#ededed"/>
<rect x="173.01" y="175.73" width="8.22" height="8.46" fill="#ededed"/>
<rect x="181.68" y="175.73" width="8.22" height="8.46" fill="#f5dddd"/>
<rect x="190.36" y="175.73" width="8.22" height="8.46" fill="#ededed"/>
<rect x="199.03" y="175.73" width="8.22" height="8.46" fill="#ededed"/>
<rect x="207.7" y="175.73" width="8.22" height="8.46" fill="#ededed"/>
<rect x="216.38" y="175.73" width="8.22" height="8.46" fill="#b5b5df"/>
<rect x="225.05" y="175.73" width="8.22" height="8.46" fill="#f5dddd"/>
<rect x="233.73" y="175.73" width="8.22" height="8.46" fill="#d1d1eb"/>
<rect x="242.4" y="175.73" width="8.22" height="8.46" fill="#ededed"/>
<rect x="251.07" y="175.73" width="8.22" height="8.46" fill="#f5dddd"/>
<rect x="259.75" y="175.73" width="8.22" height="8.46" fill="#ededed"/>
<rect x="268.42" y="175.73" width="8.22" height="8.46" fill="#f6d0d0"/>
<rect x="277.1" y="175.73" width="8.22" height="8.46" fill="#f1e5e5"/>
<rect x="285.77" y="175.73" width="8.22" height="8.46" fill="#e1e1f1"/>
<rect x="294.44" y="175.73" width="8.22" height="8.46" fill="#d1d1eb"/>
<rect x="303.12" y="175.73" width="8.22" height="8.46" fill="#ededed"/>
<rect x="311.79" y="175.73" width="8.22" height="8.46" fill="#f5dddd"/>
<rect x="320.47" y="175.73" width="8.22" height="8.46" fill="#e1e1f1"/>
<rect x="329.14" y="175.73" width="8.22" height="8.46" fill="#f5dddd"/>
<rect x="337.81" y="175.73" width="8.22" height="8.46" fill="#f18282"/>
<rect x="346.49" y="175.73" width="8.22" height="8.46" fill="#f18282"/>
<rect x="355.16" y="175.73" width="8.22" height="8.46" fill="#f39999"/>
<rect x="363.84" y="175.73" width="8.22" height="8.46" fill="#f6c3c3"/>
<rect x="34.23" y="184.64" width="8.22" height="8.46" fill="#ededed"/>
<rect x="42.9" y="184.64" width="8.22" height="8.46" fill="#ededed"/>
<rect x="51.57" y="184.64" width="8.22" height="8.46" fill="#e1e1f1"/>
<rect x="60.25" y="184.64" width="8.22" height="8.46" fill="#d9d9ee"/>
<rect x="68.92" y="184.64" width="8.22" height="8.46" fill="#ededed"/>
<rect x="77.59" y="184.64" width="8.22" height="8.46" fill="#d9d9ee"/>
<rect x="86.27" y="184.64" width="8.22" height="8.46" fill="#e1e1f1"/>
<rect x="94.94" y="184.64" width="8.22" height="8.46" fill="#b5b5df"/>
<rect x="103.62" y="184.64" width="8.22" height="8.46" fill="#b5b5df"/>
<rect x="112.29" y="184.64" width="8.22" height="8.46" fill="#ededed"/>
<rect x="120.96" y="184.64" width="8.22" height="8.46" fill="#ededed"/>
<rect x="129.64" y="184.64" width="8.22" height="8.46" fill="#f6d0d0"/>
<rect x="138.31" y="184.64" width="8.22" height="8.46" fill="#ededed"/>
<rect x="146.99" y="184.64" width="8.22" height="8.46" fill="#e1e1f1"/>
<rect x="155.66" y="184.64" width="8.22" height="8.46" fill="#ededed"/>
<rect x="164.33" y="184.64" width="8.22" height="8.46" fill="#f5dddd"/>
<rect x="173.01" y="184.64" width="8.22" height="8.46" fill="#ededed"/>
<rect x="181.68" y="184.64" width="8.22" height="8.46" fill="#ededed"/>
<rect x="190.36" y="184.64" width="8.22" height="8.46" fill="#ededed"/>
<rect x="199.03" y="184.64" width="8.22" height="8.46" fill="#e1e1f1"/>
<rect x="207.7" y="184.64" width="8.22" height="8.46" fill="#ededed"/>
<rect x="216.38" y="184.64" width="8.22" height="8.46" fill="#c3c3e5"/>
<rect x="225.05" y="184.64" width="8.22" height="8.46" fill="#f5dddd"/>
<rect x="233.73" y="184.64" width="8.22" height="8.46" fill="#d1d1eb"/>
<rect x="242.4" y="184.64" width="8.22" height="8.46" fill="#ededed"/>
<rect x="251.07" y="184.64" width="8.22" height="8.46" fill="#ededed"/>
<rect x="259.75" y="184.64" width="8.22" height="8.46" fill="#ededed"/>
<rect x="268.42" y="184.64" width="8.22" height="8.46" fill="#f6d0d0"/>
<rect x="277.1" y="184.64" width="8.22" height="8.46" fill="#f1e5e5"/>
<rect x="285.77" y="184.64" width="8.22" height="8.46" fill="#d1d1eb"/>
<rect x="294.44" y="184.64" width="8.22" height="8.46" fill="#d1d1eb"/>
<rect x="303.12" y="184.64" width="8.22" height="8.46" fill="#ededed"/>
<rect x="311.79" y="184.64" width="8.22" height="8.46" fill="#ededed"/>
<rect x="320.47" y="184.64" width="8.22" height="8.46" fill="#ededed"/>
<rect x="329.14" y="184.64" width="8.22" height="8.46" fill="#f5dddd"/>
<rect x="337.81" y="184.64" width="8.22" height="8.46" fill="#f39999"/>
<rect x="346.49" y="184.64" width="8.22" height="8.46" fill="#ef6b6b"/>
<rect x="355.16" y="184.64" width="8.22" height="8.46" fill="#f4aeae"/>
<rect x="363.84" y="184.64" width="8.22" height="8.46" fill="#f6d0d0"/>
<rect x="34.23" y="193.54" width="8.22" height="8.46" fill="#d1d1eb"/>
<rect x="42.9" y="193.54" width="8.22" height="8.46" fill="#d1d1eb"/>
<rect x="51.57" y="193.54" width="8.22" height="8.46" fill="#8e8ecd"/>
<rect x="60.25" y="193.54" width="8.22" height="8.46" fill="#d1d1eb"/>
<rect x="68.92" y="193.54" width="8.22" height="8.46" fill="#d1d1eb"/>
<rect x="77.59" y="193.54" width="8.22" height="8.46" fill="#b5b5df"/>
<rect x="86.27" y="193.54" width="8.22" height="8.46" fill="#e7e7ef"/>
<rect x="94.94" y="193.54" width="8.22" height="8.46" fill="#ededed"/>
<rect x="103.62" y="193.54" width="8.22" height="8.46" fill="#ededed"/>
<rect x="112.29" y="193.54" width="8.22" height="8.46" fill="#ededed"/>
<rect x="120.96" y="193.54" width="8.22" height="8.46" fill="#ededed"/>
<rect x="129.64" y="193.54" width="8.22" height="8.46" fill="#f1e5e5"/>
<rect x="138.31" y="193.54" width="8.22" height="8.46" fill="#ededed"/>
<rect x="146.99" y="193.54" width="8.22" height="8.46" fill="#f5dddd"/>
<rect x="155.66" y="193.54" width="8.22" height="8.46" fill="#f6d0d0"/>
<rect x="164.33" y="193.54" width="8.22" height="8.46" fill="#ededed"/>
<rect x="173.01" y="193.54" width="8.22" height="8.46" fill="#f5dddd"/>
<rect x="181.68" y="193.54" width="8.22" height="8.46" fill="#f5dddd"/>
<rect x="190.36" y="193.54" width="8.22" height="8.46" fill="#f5dddd"/>
<rect x="199.03" y="193.54" width="8.22" height="8.46" fill="#e1e1f1"/>
<rect x="207.7" y="193.54" width="8.22" height="8.46" fill="#e7e7ef"/>
<rect x="216.38" y="193.54" width="8.22" height="8.46" fill="#ededed"/>
<rect x="225.05" y="193.54" width="8.22" height="8.46" fill="#ededed"/>
<rect x="233.73" y="193.54" width="8.22" height="8.46" fill="#f6d0d0"/>
<rect x="242.4" y="193.54" width="8.22" height="8.46" fill="#f6c3c3"/>
<rect x="251.07" y="193.54" width="8.22" height="8.46" fill="#ededed"/>
<rect x="259.75" y="193.54" width="8.22" height="8.46" fill="#f6c3c3"/>
<rect x="268.42" y="193.54" width="8.22" height="8.46" fill="#f6d0d0"/>
<rect x="277.1" y="193.54" width="8.22" height="8.46" fill="#f5dddd"/>
<rect x="285.77" y="193.54" width="8.22" height="8.46" fill="#ededed"/>
<rect x="294.44" y="193.54" width="8.22" height="8.46" fill="#ededed"/>
<rect x="303.12" y="193.54" width="8.22" height="8.46" fill="#f6d0d0"/>
<rect x="311.79" y="193.54" width="8.22" height="8.46" fill="#d1d1eb"/>
<rect x="320.47" y="193.54" width="8.22" height="8.46" fill="#ededed"/>
<rect x="329.14" y="193.54" width="8.22" height="8.46" fill="#f6c3c3"/>
<rect x="337.81" y="193.54" width="8.22" height="8.46" fill="#f18282"/>
<rect x="346.49" y="193.54" width="8.22" height="8.46" fill="#ef6b6b"/>
<rect x="355.16" y="193.54" width="8.22" height="8.46" fill="#f39999"/>
<rect x="363.84" y="193.54" width="8.22" height="8.46" fill="#f6c3c3"/>
<rect x="34.23" y="202.45" width="8.22" height="8.46" fill="#b5b5df"/>
<rect x="42.9" y="202.45" width="8.22" height="8.46" fill="#b5b5df"/>
<rect x="51.57" y="202.45" width="8.22" height="8.46" fill="#b5b5df"/>
<rect x="60.25" y="202.45" width="8.22" height="8.46" fill="#d1d1eb"/>
<rect x="68.92" y="202.45" width="8.22" height="8.46" fill="#d9d9ee"/>
<rect x="77.59" y="202.45" width="8.22" height="8.46" fill="#d9d9ee"/>
<rect x="86.27" y="202.45" width="8.22" height="8.46" fill="#d9d9ee"/>
<rect x="94.94" y="202.45" width="8.22" height="8.46" fill="#e1e1f1"/>
<rect x="103.62" y="202.45" width="8.22" height="8.46" fill="#e1e1f1"/>
<rect x="112.29" y="202.45" width="8.22" height="8.46" fill="#e1e1f1"/>
<rect x="120.96" y="202.45" width="8.22" height="8.46" fill="#d9d9ee"/>
<rect x="129.64" y="202.45" width="8.22" height="8.46" fill="#d9d9ee"/>
<rect x="138.31" y="202.45" width="8.22" height="8.46" fill="#d9d9ee"/>
<rect x="146.99" y="202.45" width="8.22" height="8.46" fill="#d9d9ee"/>
<rect x="155.66" y="202.45" width="8.22" height="8.46" fill="#e1e1f1"/>
<rect x="164.33" y="202.45" width="8.22" height="8.46" fill="#e1e1f1"/>
<rect x="173.01" y="202.45" width="8.22" height="8.46" fill="#e1e1f1"/>
<rect x="181.68" y="202.45" width="8.22" height="8.46" fill="#e1e1f1"/>
<rect x="190.36" y="202.45" width="8.22" height="8.46" fill="#e1e1f1"/>
<rect x="199.03" y="202.45" width="8.22" height="8.46" fill="#e1e1f1"/>
<rect x="207.7" y="202.45" width="8.22" height="8.46" fill="#ededed"/>
<rect x="216.38" y="202.45" width="8.22" height="8.46" fill="#d1d1eb"/>
<rect x="225.05" y="202.45" width="8.22" height="8.46" fill="#d1d1eb"/>
<rect x="233.73" y="202.45" width="8.22" height="8.46" fill="#ededed"/>
<rect x="242.4" y="202.45" width="8.22" height="8.46" fill="#ededed"/>
<rect x="251.07" y="202.45" width="8.22" height="8.46" fill="#ededed"/>
<rect x="259.75" y="202.45" width="8.22" height="8.46" fill="#f6c3c3"/>
<rect x="268.42" y="202.45" width="8.22" height="8.46" fill="#f5dddd"/>
<rect x="277.1" y="202.45" width="8.22" height="8.46" fill="#ededed"/>
<rect x="285.77" y="202.45" width="8.22" height="8.46" fill="#ededed"/>
<rect x="294.44" y="202.45" width="8.22" height="8.46" fill="#e1e1f1"/>
<rect x="303.12" y="202.45" width="8.22" height="8.46" fill="#ededed"/>
<rect x="311.79" y="202.45" width="8.22" height="8.46" fill="#e1e1f1"/>
<rect x="320.47" y="202.45" width="8.22" height="8.46" fill="#f5dddd"/>
<rect x="329.14" y="202.45" width="8.22" height="8.46" fill="#ef6b6b"/>
<rect x="337.81" y="202.45" width="8.22" height="8.46" fill="#ededed"/>
<rect x="346.49" y="202.45" width="8.22" height="8.46" fill="#ededed"/>
<rect x="355.16" y="202.45" width="8.22" height="8.46" fill="#ededed"/>
<rect x="363.84" y="202.45" width="8.22" height="8.46" fill="#f5dddd"/>
<rect x="34.23" y="211.36" width="8.22" height="8.46" fill="#8e8ecd"/>
<rect x="42.9" y="211.36" width="8.22" height="8.46" fill="#7777c4"/>
<rect x="51.57" y="211.36" width="8.22" height="8.46" fill="#8e8ecd"/>
<rect x="60.25" y="211.36" width="8.22" height="8.46" fill="#d1d1eb"/>
<rect x="68.92" y="211.36" width="8.22" height="8.46" fill="#c3c3e5"/>
<rect x="77.59" y="211.36" width="8.22" height="8.46" fill="#c3c3e5"/>
<rect x="86.27" y="211.36" width="8.22" height="8.46" fill="#d1d1eb"/>
<rect x="94.94" y="211.36" width="8.22" height="8.46" fill="#e1e1f1"/>
<rect x="103.62" y="211.36" width="8.22" height="8.46" fill="#f5dddd"/>
<rect x="112.29" y="211.36" width="8.22" height="8.46" fill="#c3c3e5"/>
<rect x="120.96" y="211.36" width="8.22" height="8.46" fill="#c3c3e5"/>
<rect x="129.64" y="211.36" width="8.22" height="8.46" fill="#c3c3e5"/>
<rect x="138.31" y="211.36" width="8.22" height="8.46" fill="#d1d1eb"/>
<rect x="146.99" y="211.36" width="8.22" height="8.46" fill="#d1d1eb"/>
<rect x="155.66" y="211.36" width="8.22" height="8.46" fill="#d1d1eb"/>
<rect x="164.33" y="211.36" width="8.22" height="8.46" fill="#d1d1eb"/>
<rect x="173.01" y="211.36" width="8.22" height="8.46" fill="#f4aeae"/>
<rect x="181.68" y="211.36" width="8.22" height="8.46" fill="#d1d1eb"/>
<rect x="190.36" y="211.36" width="8.22" height="8.46" fill="#d1d1eb"/>
<rect x="199.03" y="211.36" width="8.22" height="8.46" fill="#e1e1f1"/>
<rect x="207.7" y="211.36" width="8.22" height="8.46" fill="#e1e1f1"/>
<rect x="216.38" y="211.36" width="8.22" height="8.46" fill="#ededed"/>
<rect x="225.05" y="211.36" width="8.22" height="8.46" fill="#f1e5e5"/>
<rect x="233.73" y="211.36" width="8.22" height="8.46" fill="#f6c3c3"/>
<rect x="242.4" y="211.36" width="8.22" height="8.46" fill="#f6d0d0"/>
<rect x="251.07" y="211.36" width="8.22" height="8.46" fill="#ededed"/>
<rect x="259.75" y="211.36" width="8.22" height="8.46" fill="#f39999"/>
<rect x="268.42" y="211.36" width="8.22" height="8.46" fill="#f39999"/>
<rect x="277.1" y="211.36" width="8.22" height="8.46" fill="#f6d0d0"/>
<rect x="285.77" y="211.36" width="8.22" height="8.46" fill="#f4aeae"/>
<rect x="294.44" y="211.36" width="8.22" height="8.46" fill="#ef6b6b"/>
<rect x="303.12" y="211.36" width="8.22" height="8.46" fill="#f39999"/>
<rect x="311.79" y="211.36" width="8.22" height="8.46" fill="#f6c3c3"/>
<rect x="320.47" y="211.36" width="8.22" height="8.46" fill="#f4aeae"/>
<rect x="329.14" y="211.36" width="8.22" height="8.46" fill="#e93a3a"/>
<rect x="337.81" y="211.36" width="8.22" height="8.46" fill="#f39999"/>
<rect x="346.49" y="211.36" width="8.22" height="8.46" fill="#f6d0d0"/>
<rect x="355.16" y="211.36" width="8.22" height="8.46" fill="#f1e5e5"/>
<rect x="363.84" y="211.36" width="8.22" height="8.46" fill="#f6c3c3"/>
<rect x="34.23" y="220.27" width="8.22" height="8.46" fill="#a2a2d6"/>
<rect x="42.9" y="220.27" width="8.22" height="8.46" fill="#a2a2d6"/>
<rect x="51.57" y="220.27" width="8.22" height="8.46" fill="#a2a2d6"/>
<rect x="60.25" y="220.27" width="8.22" height="8.46" fill="#e1e1f1"/>
<rect x="68.92" y="220.27" width="8.22" height="8.46" fill="#e1e1f1"/>
<rect x="77.59" y="220.27" width="8.22" height="8.46" fill="#e1e1f1"/>
<rect x="86.27" y="220.27" width="8.22" height="8.46" fill="#e1e1f1"/>
<rect x="94.94" y="220.27" width="8.22" height="8.46" fill="#f1e5e5"/>
<rect x="103.62" y="220.27" width="8.22" height="8.46" fill="#ededed"/>
<rect x="112.29" y="220.27" width="8.22" height="8.46" fill="#f1e5e5"/>
<rect x="120.96" y="220.27" width="8.22" height="8.46" fill="#e1e1f1"/>
<rect x="129.64" y="220.27" width="8.22" height="8.46" fill="#e1e1f1"/>
<rect x="138.31" y="220.27" width="8.22" height="8.46" fill="#e1e1f1"/>
<rect x="146.99" y="220.27" width="8.22" height="8.46" fill="#e1e1f1"/>
<rect x="155.66" y="220.27" width="8.22" height="8.46" fill="#e1e1f1"/>
<rect x="164.33" y="220.27" width="8.22" height="8.46" fill="#e1e1f1"/>
<rect x="173.01" y="220.27" width="8.22" height="8.46" fill="#e1e1f1"/>
<rect x="181.68" y="220.27" width="8.22" height="8.46" fill="#e1e1f1"/>
<rect x="190.36" y="220.27" width="8.22" height="8.46" fill="#e1e1f1"/>
<rect x="199.03" y="220.27" width="8.22" height="8.46" fill="#e1e1f1"/>
<rect x="207.7" y="220.27" width="8.22" height="8.46" fill="#ededed"/>
<rect x="216.38" y="220.27" width="8.22" height="8.46" fill="#d9d9ee"/>
<rect x="225.05" y="220.27" width="8.22" height="8.46" fill="#ededed"/>
<rect x="233.73" y="220.27" width="8.22" height="8.46" fill="#f4aeae"/>
<rect x="242.4" y="220.27" width="8.22" height="8.46" fill="#e1e1f1"/>
<rect x="251.07" y="220.27" width="8.22" height="8.46" fill="#ededed"/>
<rect x="259.75" y="220.27" width="8.22" height="8.46" fill="#ef6b6b"/>
<rect x="268.42" y="220.27" width="8.22" height="8.46" fill="#ef6b6b"/>
<rect x="277.1" y="220.27" width="8.22" height="8.46" fill="#f5dddd"/>
<rect x="285.77" y="220.27" width="8.22" height="8.46" fill="#f6c3c3"/>
<rect x="294.44" y="220.27" width="8.22" height="8.46" fill="#f4aeae"/>
<rect x="303.12" y="220.27" width="8.22" height="8.46" fill="#f4aeae"/>
<rect x="311.79" y="220.27" width="8.22" height="8.46" fill="#f5dddd"/>
<rect x="320.47" y="220.27" width="8.22" height="8.46" fill="#f1e5e5"/>
<rect x="329.14" y="220.27" width="8.22" height="8.46" fill="#e93a3a"/>
<rect x="337.81" y="220.27" width="8.22" height="8.46" fill="#f5dddd"/>
<rect x="346.49" y="220.27" width="8.22" height="8.46" fill="#ededed"/>
<rect x="355.16" y="220.27" width="8.22" height="8.46" fill="#ededed"/>
<rect x="363.84" y="220.27" width="8.22" height="8.46" fill="#f5dddd"/>
<rect x="34.23" y="229.18" width="8.22" height="8.46" fill="#e1e1f1"/>
<rect x="42.9" y="229.18" width="8.22" height="8.46" fill="#d9d9ee"/>
<rect x="51.57" y="229.18" width="8.22" height="8.46" fill="#e1e1f1"/>
<rect x="60.25" y="229.18" width="8.22" height="8.46" fill="#e1e1f1"/>
<rect x="68.92" y="229.18" width="8.22" height="8.46" fill="#e1e1f1"/>
<rect x="77.59" y="229.18" width="8.22" height="8.46" fill="#e1e1f1"/>
<rect x="86.27" y="229.18" width="8.22" height="8.46" fill="#e1e1f1"/>
<rect x="94.94" y="229.18" width="8.22" height="8.46" fill="#e1e1f1"/>
<rect x="103.62" y="229.18" width="8.22" height="8.46" fill="#e1e1f1"/>
<rect x="112.29" y="229.18" width="8.22" height="8.46" fill="#e1e1f1"/>
<rect x="120.96" y="229.18" width="8.22" height="8.46" fill="#ededed"/>
<rect x="129.64" y="229.18" width="8.22" height="8.46" fill="#e1e1f1"/>
<rect x="138.31" y="229.18" width="8.22" height="8.46" fill="#e1e1f1"/>
<rect x="146.99" y="229.18" width="8.22" height="8.46" fill="#e1e1f1"/>
<rect x="155.66" y="229.18" width="8.22" height="8.46" fill="#e1e1f1"/>
<rect x="164.33" y="229.18" width="8.22" height="8.46" fill="#e1e1f1"/>
<rect x="173.01" y="229.18" width="8.22" height="8.46" fill="#e1e1f1"/>
<rect x="181.68" y="229.18" width="8.22" height="8.46" fill="#e1e1f1"/>
<rect x="190.36" y="229.18" width="8.22" height="8.46" fill="#e1e1f1"/>
<rect x="199.03" y="229.18" width="8.22" height="8.46" fill="#d9d9ee"/>
<rect x="207.7" y="229.18" width="8.22" height="8.46" fill="#d9d9ee"/>
<rect x="216.38" y="229.18" width="8.22" height="8.46" fill="#e52c2c"/>
<rect x="225.05" y="229.18" width="8.22" height="8.46" fill="#e1e1f1"/>
<rect x="233.73" y="229.18" width="8.22" height="8.46" fill="#d1d1eb"/>
<rect x="242.4" y="229.18" width="8.22" height="8.46" fill="#d1d1eb"/>
<rect x="251.07" y="229.18" width="8.22" height="8.46" fill="#d1d1eb"/>
<rect x="259.75" y="229.18" width="8.22" height="8.46" fill="#e1e1f1"/>
<rect x="268.42" y="229.18" width="8.22" height="8.46" fill="#e1e1f1"/>
<rect x="277.1" y="229.18" width="8.22" height="8.46" fill="#ededed"/>
<rect x="285.77" y="229.18" width="8.22" height="8.46" fill="#e7e7ef"/>
<rect x="294.44" y="229.18" width="8.22" height="8.46" fill="#ededed"/>
<rect x="303.12" y="229.18" width="8.22" height="8.46" fill="#d1d1eb"/>
<rect x="311.79" y="229.18" width="8.22" height="8.46" fill="#d1d1eb"/>
<rect x="320.47" y="229.18" width="8.22" height="8.46" fill="#e1e1f1"/>
<rect x="329.14" y="229.18" width="8.22" height="8.46" fill="#f6d0d0"/>
<rect x="337.81" y="229.18" width="8.22" height="8.46" fill="#ededed"/>
<rect x="346.49" y="229.18" width="8.22" height="8.46" fill="#ededed"/>
<rect x="355.16" y="229.18" width="8.22" height="8.46" fill="#ededed"/>
<rect x="363.84" y="229.18" width="8.22" height="8.46" fill="#e1e1f1"/>
<rect x="34.23" y="238.09" width="8.22" height="8.46" fill="#d9d9ee"/>
<rect x="42.9" y="238.09" width="8.22" height="8.46" fill="#d9d9ee"/>
<rect x="51.57" y="238.09" width="8.22" height="8.46" fill="#d9d9ee"/>
<rect x="60.25" y="238.09" width="8.22" height="8.46" fill="#e7e7ef"/>
<rect x="68.92" y="238.09" width="8.22" height="8.46" fill="#6060ba"/>
<rect x="77.59" y="238.09" width="8.22" height="8.46" fill="#8e8ecd"/>
<rect x="86.27" y="238.09" width="8.22" height="8.46" fill="#e1e1f1"/>
<rect x="94.94" y="238.09" width="8.22" height="8.46" fill="#d9d9ee"/>
<rect x="103.62" y="238.09" width="8.22" height="8.46" fill="#e1e1f1"/>
<rect x="112.29" y="238.09" width="8.22" height="8.46" fill="#f6c3c3"/>
<rect x="120.96" y="238.09" width="8.22" height="8.46" fill="#e1e1f1"/>
<rect x="129.64" y="238.09" width="8.22" height="8.46" fill="#e1e1f1"/>
<rect x="138.31" y="238.09" width="8.22" height="8.46" fill="#e1e1f1"/>
<rect x="146.99" y="238.09" width="8.22" height="8.46" fill="#e1e1f1"/>
<rect x="155.66" y="238.09" width="8.22" height="8.46" fill="#ededed"/>
<rect x="164.33" y="238.09" width="8.22" height="8.46" fill="#ededed"/>
<rect x="173.01" y="238.09" width="8.22" height="8.46" fill="#ededed"/>
<rect x="181.68" y="238.09" width="8.22" height="8.46" fill="#ededed"/>
<rect x="190.36" y="238.09" width="8.22" height="8.46" fill="#f4aeae"/>
<rect x="199.03" y="238.09" width="8.22" height="8.46" fill="#f4aeae"/>
<rect x="207.7" y="238.09" width="8.22" height="8.46" fill="#f5dddd"/>
<rect x="216.38" y="238.09" width="8.22" height="8.46" fill="#ededed"/>
<rect x="225.05" y="238.09" width="8.22" height="8.46" fill="#ededed"/>
<rect x="233.73" y="238.09" width="8.22" height="8.46" fill="#f5dddd"/>
<rect x="242.4" y="238.09" width="8.22" height="8.46" fill="#ededed"/>
<rect x="251.07" y="238.09" width="8.22" height="8.46" fill="#ededed"/>
<rect x="259.75" y="238.09" width="8.22" height="8.46" fill="#f6c3c3"/>
<rect x="268.42" y="238.09" width="8.22" height="8.46" fill="#ededed"/>
<rect x="277.1" y="238.09" width="8.22" height="8.46" fill="#ededed"/>
<rect x="285.77" y="238.09" width="8.22" height="8.46" fill="#ededed"/>
<rect x="294.44" y="238.09" width="8.22" height="8.46" fill="#f5dddd"/>
<rect x="303.12" y="238.09" width="8.22" height="8.46" fill="#ededed"/>
<rect x="311.79" y="238.09" width="8.22" height="8.46" fill="#e1e1f1"/>
<rect x="320.47" y="238.09" width="8.22" height="8.46" fill="#ededed"/>
<rect x="329.14" y="238.09" width="8.22" height="8.46" fill="#f39999"/>
<rect x="337.81" y="238.09" width="8.22" height="8.46" fill="#ededed"/>
<rect x="346.49" y="238.09" width="8.22" height="8.46" fill="#ededed"/>
<rect x="355.16" y="238.09" width="8.22" height="8.46" fill="#ededed"/>
<rect x="363.84" y="238.09" width="8.22" height="8.46" fill="#e7e7ef"/>
<rect x="34.23" y="246.99" width="8.22" height="8.46" fill="#e1e1f1"/>
<rect x="42.9" y="246.99" width="8.22" height="8.46" fill="#e1e1f1"/>
<rect x="51.57" y="246.99" width="8.22" height="8.46" fill="#e1e1f1"/>
<rect x="60.25" y="246.99" width="8.22" height="8.46" fill="#d9d9ee"/>
<rect x="68.92" y="246.99" width="8.22" height="8.46" fill="#e1e1f1"/>
<rect x="77.59" y="246.99" width="8.22" height="8.46" fill="#e1e1f1"/>
<rect x="86.27" y="246.99" width="8.22" height="8.46" fill="#e1e1f1"/>
<rect x="94.94" y="246.99" width="8.22" height="8.46" fill="#e1e1f1"/>
<rect x="103.62" y="246.99" width="8.22" height="8.46" fill="#e1e1f1"/>
<rect x="112.29" y="246.99" width="8.22" height="8.46" fill="#e1e1f1"/>
<rect x="120.96" y="246.99" width="8.22" height="8.46" fill="#e1e1f1"/>
<rect x="129.64" y="246.99" width="8.22" height="8.46" fill="#e1e1f1"/>
<rect x="138.31" y="246.99" width="8.22" height="8.46" fill="#e1e1f1"/>
<rect x="146.99" y="246.99" width="8.22" height="8.46" fill="#e1e1f1"/>
<rect x="155.66" y="246.99" width="8.22" height="8.46" fill="#e1e1f1"/>
<rect x="164.33" y="246.99" width="8.22" height="8.46" fill="#e1e1f1"/>
<rect x="173.01" y="246.99" width="8.22" height="8.46" fill="#e1e1f1"/>
<rect x="181.68" y="246.99" width="8.22" height="8.46" fill="#e1e1f1"/>
<rect x="190.36" y="246.99" width="8.22" height="8.46" fill="#e1e1f1"/>
<rect x="199.03" y="246.99" width="8.22" height="8.46" fill="#e1e1f1"/>
<rect x="207.7" y="246.99" width="8.22" height="8.46" fill="#e1e1f1"/>
<rect x="216.38" y="246.99" width="8.22" height="8.46" fill="#e7e7ef"/>
<rect x="225.05" y="246.99" width="8.22" height="8.46" fill="#e1e1f1"/>
<rect x="233.73" y="246.99" width="8.22" height="8.46" fill="#ededed"/>
<rect x="242.4" y="246.99" width="8.22" height="8.46" fill="#e1e1f1"/>
<rect x="251.07" y="246.99" width="8.22" height="8.46" fill="#e1e1f1"/>
<rect x="259.75" y="246.99" width="8.22" height="8.46" fill="#e7e7ef"/>
<rect x="268.42" y="246.99" width="8.22" height="8.46" fill="#ededed"/>
<rect x="277.1" y="246.99" width="8.22" height="8.46" fill="#ededed"/>
<rect x="285.77" y="246.99" width="8.22" height="8.46" fill="#e1e1f1"/>
<rect x="294.44" y="246.99" width="8.22" height="8.46" fill="#e1e1f1"/>
<rect x="303.12" y="246.99" width="8.22" height="8.46" fill="#e1e1f1"/>
<rect x="311.79" y="246.99" width="8.22" height="8.46" fill="#e1e1f1"/>
<rect x="320.47" y="246.99" width="8.22" height="8.46" fill="#e1e1f1"/>
<rect x="329.14" y="246.99" width="8.22" height="8.46" fill="#ededed"/>
<rect x="337.81" y="246.99" width="8.22" height="8.46" fill="#ededed"/>
<rect x="346.49" y="246.99" width="8.22" height="8.46" fill="#e1e1f1"/>
<rect x="355.16" y="246.99" width="8.22" height="8.46" fill="#ededed"/>
<rect x="363.84" y="246.99" width="8.22" height="8.46" fill="#ededed"/>
<rect x="34.23" y="255.9" width="8.22" height="8.46" fill="#d9d9ee"/>
<rect x="42.9" y="255.9" width="8.22" height="8.46" fill="#f6c3c3"/>
<rect x="51.57" y="255.9" width="8.22" height="8.46" fill="#7777c4"/>
<rect x="60.25" y="255.9" width="8.22" height="8.46" fill="#e1e1f1"/>
<rect x="68.92" y="255.9" width="8.22" height="8.46" fill="#3c4aa8"/>
<rect x="77.59" y="255.9" width="8.22" height="8.46" fill="#3c4aa8"/>
<rect x="86.27" y="255.9" width="8.22" height="8.46" fill="#d9d9ee"/>
<rect x="94.94" y="255.9" width="8.22" height="8.46" fill="#d9d9ee"/>
<rect x="103.62" y="255.9" width="8.22" height="8.46" fill="#e1e1f1"/>
<rect x="112.29" y="255.9" width="8.22" height="8.46" fill="#b5b5df"/>
<rect x="120.96" y="255.9" width="8.22" height="8.46" fill="#ededed"/>
<rect x="129.64" y="255.9" width="8.22" height="8.46" fill="#e1e1f1"/>
<rect x="138.31" y="255.9" width="8.22" height="8.46" fill="#f5dddd"/>
<rect x="146.99" y="255.9" width="8.22" height="8.46" fill="#f5dddd"/>
<rect x="155.66" y="255.9" width="8.22" height="8.46" fill="#d1d1eb"/>
<rect x="164.33" y="255.9" width="8.22" height="8.46" fill="#e1e1f1"/>
<rect x="173.01" y="255.9" width="8.22" height="8.46" fill="#e1e1f1"/>
<rect x="181.68" y="255.9" width="8.22" height="8.46" fill="#e1e1f1"/>
<rect x="190.36" y="255.9" width="8.22" height="8.46" fill="#3c4aa8"/>
<rect x="199.03" y="255.9" width="8.22" height="8.46" fill="#f18282"/>
<rect x="207.7" y="255.9" width="8.22" height="8.46" fill="#f5dddd"/>
<rect x="216.38" y="255.9" width="8.22" height="8.46" fill="#d9d9ee"/>
<rect x="225.05" y="255.9" width="8.22" height="8.46" fill="#ededed"/>
<rect x="233.73" y="255.9" width="8.22" height="8.46" fill="#d1d1eb"/>
<rect x="242.4" y="255.9" width="8.22" height="8.46" fill="#e1e1f1"/>
<rect x="251.07" y="255.9" width="8.22" height="8.46" fill="#d9d9ee"/>
<rect x="259.75" y="255.9" width="8.22" height="8.46" fill="#f5dddd"/>
<rect x="268.42" y="255.9" width="8.22" height="8.46" fill="#d9d9ee"/>
<rect x="277.1" y="255.9" width="8.22" height="8.46" fill="#ededed"/>
<rect x="285.77" y="255.9" width="8.22" height="8.46" fill="#ededed"/>
<rect x="294.44" y="255.9" width="8.22" height="8.46" fill="#f5dddd"/>
<rect x="303.12" y="255.9" width="8.22" height="8.46" fill="#ededed"/>
<rect x="311.79" y="255.9" width="8.22" height="8.46" fill="#e1e1f1"/>
<rect x="320.47" y="255.9" width="8.22" height="8.46" fill="#e1e1f1"/>
<rect x="329.14" y="255.9" width="8.22" height="8.46" fill="#f6c3c3"/>
<rect x="337.81" y="255.9" width="8.22" height="8.46" fill="#ededed"/>
<rect x="346.49" y="255.9" width="8.22" height="8.46" fill="#d9d9ee"/>
<rect x="355.16" y="255.9" width="8.22" height="8.46" fill="#ededed"/>
<rect x="363.84" y="255.9" width="8.22" height="8.46" fill="#e1e1f1"/>
<rect x="34.23" y="264.81" width="8.22" height="8.46" fill="#d1d1eb"/>
<rect x="42.9" y="264.81" width="8.22" height="8.46" fill="#d9d9ee"/>
<rect x="51.57" y="264.81" width="8.22" height="8.46" fill="#d9d9ee"/>
<rect x="60.25" y="264.81" width="8.22" height="8.46" fill="#d9d9ee"/>
<rect x="68.92" y="264.81" width="8.22" height="8.46" fill="#b5b5df"/>
<rect x="77.59" y="264.81" width="8.22" height="8.46" fill="#b5b5df"/>
<rect x="86.27" y="264.81" width="8.22" height="8.46" fill="#d1d1eb"/>
<rect x="94.94" y="264.81" width="8.22" height="8.46" fill="#d9d9ee"/>
<rect x="103.62" y="264.81" width="8.22" height="8.46" fill="#d9d9ee"/>
<rect x="112.29" y="264.81" width="8.22" height="8.46" fill="#d1d1eb"/>
<rect x="120.96" y="264.81" width="8.22" height="8.46" fill="#d9d9ee"/>
<rect x="129.64" y="264.81" width="8.22" height="8.46" fill="#d9d9ee"/>
<rect x="138.31" y="264.81" width="8.22" height="8.46" fill="#d9d9ee"/>
<rect x="146.99" y="264.81" width="8.22" height="8.46" fill="#d9d9ee"/>
<rect x="155.66" y="264.81" width="8.22" height="8.46" fill="#d1d1eb"/>
<rect x="164.33" y="264.81" width="8.22" height="8.46" fill="#d1d1eb"/>
<rect x="173.01" y="264.81" width="8.22" height="8.46" fill="#d1d1eb"/>
<rect x="181.68" y="264.81" width="8.22" height="8.46" fill="#d1d1eb"/>
<rect x="190.36" y="264.81" width="8.22" height="8.46" fill="#d1d1eb"/>
<rect x="199.03" y="264.81" width="8.22" height="8.46" fill="#f6d0d0"/>
<rect x="207.7" y="264.81" width="8.22" height="8.46" fill="#f5dddd"/>
<rect x="216.38" y="264.81" width="8.22" height="8.46" fill="#f5dddd"/>
<rect x="225.05" y="264.81" width="8.22" height="8.46" fill="#ededed"/>
<rect x="233.73" y="264.81" width="8.22" height="8.46" fill="#f5dddd"/>
<rect x="242.4" y="264.81" width="8.22" height="8.46" fill="#e1e1f1"/>
<rect x="251.07" y="264.81" width="8.22" height="8.46" fill="#d1d1eb"/>
<rect x="259.75" y="264.81" width="8.22" height="8.46" fill="#ededed"/>
<rect x="268.42" y="264.81" width="8.22" height="8.46" fill="#e1e1f1"/>
<rect x="277.1" y="264.81" width="8.22" height="8.46" fill="#e1e1f1"/>
<rect x="285.77" y="264.81" width="8.22" height="8.46" fill="#e1e1f1"/>
<rect x="294.44" y="264.81" width="8.22" height="8.46" fill="#ededed"/>
<rect x="303.12" y="264.81" width="8.22" height="8.46" fill="#f6d0d0"/>
<rect x="311.79" y="264.81" width="8.22" height="8.46" fill="#f6d0d0"/>
<rect x="320.47" y="264.81" width="8.22" height="8.46" fill="#ededed"/>
<rect x="329.14" y="264.81" width="8.22" height="8.46" fill="#e1e1f1"/>
<rect x="337.81" y="264.81" width="8.22" height="8.46" fill="#f5dddd"/>
<rect x="346.49" y="264.81" width="8.22" height="8.46" fill="#ededed"/>
<rect x="355.16" y="264.81" width="8.22" height="8.46" fill="#ededed"/>
<rect x="363.84" y="264.81" width="8.22" height="8.46" fill="#e1e1f1"/>
<path d="M34 273.49V59.7H372.29V273.49" fill="none" stroke="#222" stroke-width="0.8"/>
<path d="M34 273.49H372.29" fill="none" stroke="#444" stroke-width="0.7"/>
<rect x="34.85" y="40.4" width="7" height="7" fill="#3b8ed0" stroke="#8a8a8a" stroke-width="0.5"/>
<rect x="34.85" y="49.9" width="7" height="7" fill="#8c1d2f" stroke="#8a8a8a" stroke-width="0.5"/>
<rect x="43.52" y="40.4" width="7" height="7" fill="#4f9ad6" stroke="#8a8a8a" stroke-width="0.5"/>
<rect x="43.52" y="49.9" width="7" height="7" fill="#3f9e96" stroke="#8a8a8a" stroke-width="0.5"/>
<rect x="52.2" y="40.4" width="7" height="7" fill="#1a6fc0" stroke="#8a8a8a" stroke-width="0.5"/>
<rect x="52.2" y="49.9" width="7" height="7" fill="#bfe6fa" stroke="#8a8a8a" stroke-width="0.5"/>
<rect x="60.87" y="40.4" width="7" height="7" fill="#2a80cc" stroke="#8a8a8a" stroke-width="0.5"/>
<rect x="60.87" y="49.9" width="7" height="7" fill="#bfe6fa" stroke="#8a8a8a" stroke-width="0.5"/>
<rect x="69.55" y="40.4" width="7" height="7" fill="#3b8ed0" stroke="#8a8a8a" stroke-width="0.5"/>
<rect x="69.55" y="49.9" width="7" height="7" fill="#bfe6fa" stroke="#8a8a8a" stroke-width="0.5"/>
<rect x="78.22" y="40.4" width="7" height="7" fill="#1a6fc0" stroke="#8a8a8a" stroke-width="0.5"/>
<rect x="78.22" y="49.9" width="7" height="7" fill="#3f9e96" stroke="#8a8a8a" stroke-width="0.5"/>
<rect x="86.89" y="40.4" width="7" height="7" fill="#d5eaf8" stroke="#8a8a8a" stroke-width="0.5"/>
<rect x="86.89" y="49.9" width="7" height="7" fill="#3f9e96" stroke="#8a8a8a" stroke-width="0.5"/>
<rect x="95.57" y="40.4" width="7" height="7" fill="#a8cef0" stroke="#8a8a8a" stroke-width="0.5"/>
<rect x="95.57" y="49.9" width="7" height="7" fill="#3f9e96" stroke="#8a8a8a" stroke-width="0.5"/>
<rect x="104.24" y="40.4" width="7" height="7" fill="#dcedf9" stroke="#8a8a8a" stroke-width="0.5"/>
<rect x="104.24" y="49.9" width="7" height="7" fill="#8c1d2f" stroke="#8a8a8a" stroke-width="0.5"/>
<rect x="112.92" y="40.4" width="7" height="7" fill="#b8d8f2" stroke="#8a8a8a" stroke-width="0.5"/>
<rect x="112.92" y="49.9" width="7" height="7" fill="#8c1d2f" stroke="#8a8a8a" stroke-width="0.5"/>
<rect x="121.59" y="40.4" width="7" height="7" fill="#c0dcf4" stroke="#8a8a8a" stroke-width="0.5"/>
<rect x="121.59" y="49.9" width="7" height="7" fill="#8c1d2f" stroke="#8a8a8a" stroke-width="0.5"/>
<rect x="130.26" y="40.4" width="7" height="7" fill="#c0dcf4" stroke="#8a8a8a" stroke-width="0.5"/>
<rect x="130.26" y="49.9" width="7" height="7" fill="#8c1d2f" stroke="#8a8a8a" stroke-width="0.5"/>
<rect x="138.94" y="40.4" width="7" height="7" fill="#f4f9fd" stroke="#8a8a8a" stroke-width="0.5"/>
<rect x="138.94" y="49.9" width="7" height="7" fill="#3f9e96" stroke="#8a8a8a" stroke-width="0.5"/>
<rect x="147.61" y="40.4" width="7" height="7" fill="#c8e0f5" stroke="#8a8a8a" stroke-width="0.5"/>
<rect x="147.61" y="49.9" width="7" height="7" fill="#bfe6fa" stroke="#8a8a8a" stroke-width="0.5"/>
<rect x="156.29" y="40.4" width="7" height="7" fill="#e8f3fb" stroke="#8a8a8a" stroke-width="0.5"/>
<rect x="156.29" y="49.9" width="7" height="7" fill="#bfe6fa" stroke="#8a8a8a" stroke-width="0.5"/>
<rect x="164.96" y="40.4" width="7" height="7" fill="#ffffff" stroke="#8a8a8a" stroke-width="0.5"/>
<rect x="164.96" y="49.9" width="7" height="7" fill="#3f9e96" stroke="#8a8a8a" stroke-width="0.5"/>
<rect x="173.63" y="40.4" width="7" height="7" fill="#ffffff" stroke="#8a8a8a" stroke-width="0.5"/>
<rect x="173.63" y="49.9" width="7" height="7" fill="#8c1d2f" stroke="#8a8a8a" stroke-width="0.5"/>
<rect x="182.31" y="40.4" width="7" height="7" fill="#ffffff" stroke="#8a8a8a" stroke-width="0.5"/>
<rect x="182.31" y="49.9" width="7" height="7" fill="#3f9e96" stroke="#8a8a8a" stroke-width="0.5"/>
<rect x="190.98" y="40.4" width="7" height="7" fill="#a8cef0" stroke="#8a8a8a" stroke-width="0.5"/>
<rect x="190.98" y="49.9" width="7" height="7" fill="#3f9e96" stroke="#8a8a8a" stroke-width="0.5"/>
<rect x="199.66" y="40.4" width="7" height="7" fill="#fde0cc" stroke="#8a8a8a" stroke-width="0.5"/>
<rect x="199.66" y="49.9" width="7" height="7" fill="#bfe6fa" stroke="#8a8a8a" stroke-width="0.5"/>
<rect x="208.33" y="40.4" width="7" height="7" fill="#fde0cc" stroke="#8a8a8a" stroke-width="0.5"/>
<rect x="208.33" y="49.9" width="7" height="7" fill="#8c1d2f" stroke="#8a8a8a" stroke-width="0.5"/>
<rect x="217" y="40.4" width="7" height="7" fill="#fdeee2" stroke="#8a8a8a" stroke-width="0.5"/>
<rect x="217" y="49.9" width="7" height="7" fill="#8c1d2f" stroke="#8a8a8a" stroke-width="0.5"/>
<rect x="225.68" y="40.4" width="7" height="7" fill="#fde0cc" stroke="#8a8a8a" stroke-width="0.5"/>
<rect x="225.68" y="49.9" width="7" height="7" fill="#3f9e96" stroke="#8a8a8a" stroke-width="0.5"/>
<rect x="234.35" y="40.4" width="7" height="7" fill="#ffffff" stroke="#8a8a8a" stroke-width="0.5"/>
<rect x="234.35" y="49.9" width="7" height="7" fill="#bfe6fa" stroke="#8a8a8a" stroke-width="0.5"/>
<rect x="243.03" y="40.4" width="7" height="7" fill="#c8e0f5" stroke="#8a8a8a" stroke-width="0.5"/>
<rect x="243.03" y="49.9" width="7" height="7" fill="#8c1d2f" stroke="#8a8a8a" stroke-width="0.5"/>
<rect x="251.7" y="40.4" width="7" height="7" fill="#ffffff" stroke="#8a8a8a" stroke-width="0.5"/>
<rect x="251.7" y="49.9" width="7" height="7" fill="#3f9e96" stroke="#8a8a8a" stroke-width="0.5"/>
<rect x="260.37" y="40.4" width="7" height="7" fill="#fbc89e" stroke="#8a8a8a" stroke-width="0.5"/>
<rect x="260.37" y="49.9" width="7" height="7" fill="#8c1d2f" stroke="#8a8a8a" stroke-width="0.5"/>
<rect x="269.05" y="40.4" width="7" height="7" fill="#fdd8bc" stroke="#8a8a8a" stroke-width="0.5"/>
<rect x="269.05" y="49.9" width="7" height="7" fill="#3f9e96" stroke="#8a8a8a" stroke-width="0.5"/>
<rect x="277.72" y="40.4" width="7" height="7" fill="#fde8d8" stroke="#8a8a8a" stroke-width="0.5"/>
<rect x="277.72" y="49.9" width="7" height="7" fill="#3f9e96" stroke="#8a8a8a" stroke-width="0.5"/>
<rect x="286.4" y="40.4" width="7" height="7" fill="#fdf6f0" stroke="#8a8a8a" stroke-width="0.5"/>
<rect x="286.4" y="49.9" width="7" height="7" fill="#bfe6fa" stroke="#8a8a8a" stroke-width="0.5"/>
<rect x="295.07" y="40.4" width="7" height="7" fill="#fdeee2" stroke="#8a8a8a" stroke-width="0.5"/>
<rect x="295.07" y="49.9" width="7" height="7" fill="#8c1d2f" stroke="#8a8a8a" stroke-width="0.5"/>
<rect x="303.74" y="40.4" width="7" height="7" fill="#fbb88a" stroke="#8a8a8a" stroke-width="0.5"/>
<rect x="303.74" y="49.9" width="7" height="7" fill="#bfe6fa" stroke="#8a8a8a" stroke-width="0.5"/>
<rect x="312.42" y="40.4" width="7" height="7" fill="#fbc09a" stroke="#8a8a8a" stroke-width="0.5"/>
<rect x="312.42" y="49.9" width="7" height="7" fill="#8c1d2f" stroke="#8a8a8a" stroke-width="0.5"/>
<rect x="321.09" y="40.4" width="7" height="7" fill="#f9a870" stroke="#8a8a8a" stroke-width="0.5"/>
<rect x="321.09" y="49.9" width="7" height="7" fill="#bfe6fa" stroke="#8a8a8a" stroke-width="0.5"/>
<rect x="329.77" y="40.4" width="7" height="7" fill="#f58a3c" stroke="#8a8a8a" stroke-width="0.5"/>
<rect x="329.77" y="49.9" width="7" height="7" fill="#bfe6fa" stroke="#8a8a8a" stroke-width="0.5"/>
<rect x="338.44" y="40.4" width="7" height="7" fill="#f58030" stroke="#8a8a8a" stroke-width="0.5"/>
<rect x="338.44" y="49.9" width="7" height="7" fill="#bfe6fa" stroke="#8a8a8a" stroke-width="0.5"/>
<rect x="347.11" y="40.4" width="7" height="7" fill="#f58030" stroke="#8a8a8a" stroke-width="0.5"/>
<rect x="347.11" y="49.9" width="7" height="7" fill="#8c1d2f" stroke="#8a8a8a" stroke-width="0.5"/>
<rect x="355.79" y="40.4" width="7" height="7" fill="#fbc09a" stroke="#8a8a8a" stroke-width="0.5"/>
<rect x="355.79" y="49.9" width="7" height="7" fill="#3f9e96" stroke="#8a8a8a" stroke-width="0.5"/>
<rect x="364.46" y="40.4" width="7" height="7" fill="#fbc8a0" stroke="#8a8a8a" stroke-width="0.5"/>
<rect x="364.46" y="49.9" width="7" height="7" fill="#bfe6fa" stroke="#8a8a8a" stroke-width="0.5"/>
<text x="376.2" y="46.6" class="t77">Cumulative score</text>
<text x="376.2" y="56.1" class="t77">Treatment</text>
<text x="376" y="68.4" class="t77">IL6</text>
<text x="376" y="77.31" class="t77">IL4</text>
<text x="376" y="86.22" class="t77">Perforin</text>
<text x="376" y="95.13" class="t77">sFasL</text>
<text x="376" y="104.04" class="t77">IL17A</text>
<text x="376" y="112.94" class="t77">Granzyme B</text>
<text x="376" y="121.85" class="t77">CCL4</text>
<text x="376" y="130.76" class="t77">TNFα</text>
<text x="376" y="139.67" class="t77">CCL3</text>
<text x="376" y="148.58" class="t77">IL10</text>
<text x="376" y="157.48" class="t77">CCL20</text>
<text x="376" y="166.39" class="t77">sFas</text>
<text x="376" y="175.3" class="t77">CCL17</text>
<text x="376" y="184.21" class="t77">CXCL1</text>
<text x="376" y="193.12" class="t77">CXCL5</text>
<text x="376" y="202.02" class="t77">CCL2</text>
<text x="376" y="210.93" class="t77">CXCL11</text>
<text x="376" y="219.84" class="t77">IFNγ</text>
<text x="376" y="228.75" class="t77">CXCL10</text>
<text x="376" y="237.66" class="t77">CCL11</text>
<text x="376" y="246.56" class="t77">CXCL9</text>
<text x="376" y="255.47" class="t77">Granulysin</text>
<text x="376" y="264.38" class="t77">CCLS</text>
<text x="376" y="273.29" class="t77">Granzyme A</text>
<path d="M38.34 273.6v2.6" stroke="#333" stroke-width="0.6"/>
<text transform="translate(41.09 282.3) rotate(-90)" text-anchor="end" class="t77">BR029</text>
<path d="M47.01 273.6v2.6" stroke="#333" stroke-width="0.6"/>
<text transform="translate(49.76 282.3) rotate(-90)" text-anchor="end" class="t77">BR029</text>
<path d="M55.69 273.6v2.6" stroke="#333" stroke-width="0.6"/>
<text transform="translate(58.44 282.3) rotate(-90)" text-anchor="end" class="t77">BR029</text>
<path d="M64.36 273.6v2.6" stroke="#333" stroke-width="0.6"/>
<text transform="translate(67.11 282.3) rotate(-90)" text-anchor="end" class="t77">OV023</text>
<path d="M73.03 273.6v2.6" stroke="#333" stroke-width="0.6"/>
<text transform="translate(75.78 282.3) rotate(-90)" text-anchor="end" class="t77">LU073</text>
<path d="M81.71 273.6v2.6" stroke="#333" stroke-width="0.6"/>
<text transform="translate(84.46 282.3) rotate(-90)" text-anchor="end" class="t77">LU073</text>
<path d="M90.38 273.6v2.6" stroke="#333" stroke-width="0.6"/>
<text transform="translate(93.13 282.3) rotate(-90)" text-anchor="end" class="t77">MEL126</text>
<path d="M99.05 273.6v2.6" stroke="#333" stroke-width="0.6"/>
<text transform="translate(101.8 282.3) rotate(-90)" text-anchor="end" class="t77">OV014-1</text>
<path d="M107.73 273.6v2.6" stroke="#333" stroke-width="0.6"/>
<text transform="translate(110.48 282.3) rotate(-90)" text-anchor="end" class="t77">RE027</text>
<path d="M116.4 273.6v2.6" stroke="#333" stroke-width="0.6"/>
<text transform="translate(119.15 282.3) rotate(-90)" text-anchor="end" class="t77">LU073</text>
<path d="M125.08 273.6v2.6" stroke="#333" stroke-width="0.6"/>
<text transform="translate(127.83 282.3) rotate(-90)" text-anchor="end" class="t77">MEL126</text>
<path d="M133.75 273.6v2.6" stroke="#333" stroke-width="0.6"/>
<text transform="translate(136.5 282.3) rotate(-90)" text-anchor="end" class="t77">OV042</text>
<path d="M142.43 273.6v2.6" stroke="#333" stroke-width="0.6"/>
<text transform="translate(145.18 282.3) rotate(-90)" text-anchor="end" class="t77">RE027</text>
<path d="M151.1 273.6v2.6" stroke="#333" stroke-width="0.6"/>
<text transform="translate(153.85 282.3) rotate(-90)" text-anchor="end" class="t77">OV042</text>
<path d="M159.77 273.6v2.6" stroke="#333" stroke-width="0.6"/>
<text transform="translate(162.52 282.3) rotate(-90)" text-anchor="end" class="t77">MEL126</text>
<path d="M168.45 273.6v2.6" stroke="#333" stroke-width="0.6"/>
<text transform="translate(171.2 282.3) rotate(-90)" text-anchor="end" class="t77">OV042</text>
<path d="M177.12 273.6v2.6" stroke="#333" stroke-width="0.6"/>
<text transform="translate(179.87 282.3) rotate(-90)" text-anchor="end" class="t77">OV023</text>
<path d="M185.79 273.6v2.6" stroke="#333" stroke-width="0.6"/>
<text transform="translate(188.54 282.3) rotate(-90)" text-anchor="end" class="t77">OV023</text>
<path d="M194.47 273.6v2.6" stroke="#333" stroke-width="0.6"/>
<text transform="translate(197.22 282.3) rotate(-90)" text-anchor="end" class="t77">RE098</text>
<path d="M203.14 273.6v2.6" stroke="#333" stroke-width="0.6"/>
<text transform="translate(205.89 282.3) rotate(-90)" text-anchor="end" class="t77">RE098</text>
<path d="M211.82 273.6v2.6" stroke="#333" stroke-width="0.6"/>
<text transform="translate(214.57 282.3) rotate(-90)" text-anchor="end" class="t77">RE098</text>
<path d="M220.49 273.6v2.6" stroke="#333" stroke-width="0.6"/>
<text transform="translate(223.24 282.3) rotate(-90)" text-anchor="end" class="t77">MEL143</text>
<path d="M229.16 273.6v2.6" stroke="#333" stroke-width="0.6"/>
<text transform="translate(231.91 282.3) rotate(-90)" text-anchor="end" class="t77">MEL132</text>
<path d="M237.84 273.6v2.6" stroke="#333" stroke-width="0.6"/>
<text transform="translate(240.59 282.3) rotate(-90)" text-anchor="end" class="t77">MEL143</text>
<path d="M246.51 273.6v2.6" stroke="#333" stroke-width="0.6"/>
<text transform="translate(249.26 282.3) rotate(-90)" text-anchor="end" class="t77">RE031</text>
<path d="M255.19 273.6v2.6" stroke="#333" stroke-width="0.6"/>
<text transform="translate(257.94 282.3) rotate(-90)" text-anchor="end" class="t77">RE031</text>
<path d="M263.86 273.6v2.6" stroke="#333" stroke-width="0.6"/>
<text transform="translate(266.61 282.3) rotate(-90)" text-anchor="end" class="t77">MEL100</text>
<path d="M272.53 273.6v2.6" stroke="#333" stroke-width="0.6"/>
<text transform="translate(275.28 282.3) rotate(-90)" text-anchor="end" class="t77">MEL143</text>
<path d="M281.21 273.6v2.6" stroke="#333" stroke-width="0.6"/>
<text transform="translate(283.96 282.3) rotate(-90)" text-anchor="end" class="t77">MEL100</text>
<path d="M289.88 273.6v2.6" stroke="#333" stroke-width="0.6"/>
<text transform="translate(292.63 282.3) rotate(-90)" text-anchor="end" class="t77">OV014-1</text>
<path d="M298.56 273.6v2.6" stroke="#333" stroke-width="0.6"/>
<text transform="translate(301.31 282.3) rotate(-90)" text-anchor="end" class="t77">OV014-1</text>
<path d="M307.23 273.6v2.6" stroke="#333" stroke-width="0.6"/>
<text transform="translate(309.98 282.3) rotate(-90)" text-anchor="end" class="t77">MEL132</text>
<path d="M315.9 273.6v2.6" stroke="#333" stroke-width="0.6"/>
<text transform="translate(318.65 282.3) rotate(-90)" text-anchor="end" class="t77">MEL132</text>
<path d="M324.58 273.6v2.6" stroke="#333" stroke-width="0.6"/>
<text transform="translate(327.33 282.3) rotate(-90)" text-anchor="end" class="t77">RE027</text>
<path d="M333.25 273.6v2.6" stroke="#333" stroke-width="0.6"/>
<text transform="translate(336 282.3) rotate(-90)" text-anchor="end" class="t77">MEL100</text>
<path d="M341.93 273.6v2.6" stroke="#333" stroke-width="0.6"/>
<text transform="translate(344.68 282.3) rotate(-90)" text-anchor="end" class="t77">MEL149-1</text>
<path d="M350.6 273.6v2.6" stroke="#333" stroke-width="0.6"/>
<text transform="translate(353.35 282.3) rotate(-90)" text-anchor="end" class="t77">MEL149-1</text>
<path d="M359.27 273.6v2.6" stroke="#333" stroke-width="0.6"/>
<text transform="translate(362.02 282.3) rotate(-90)" text-anchor="end" class="t77">MEL149-1</text>
<path d="M367.95 273.6v2.6" stroke="#333" stroke-width="0.6"/>
<text transform="translate(370.7 282.3) rotate(-90)" text-anchor="end" class="t77">RE031</text>
<path d="M38.34 38.6V36.4H47.01V38.6M42.67 36.4V34.4H55.69V38.6M49.18 34.4V32H64.36V38.6M73.03 38.6V36H81.71V38.6M56.77 32V19.2H77.37V36M90.38 38.6V36.8H99.05V38.6M94.72 36.8V35.8H107.73V38.6M116.4 38.6V36.5H125.08V38.6M101.22 35.8V34.8H120.74V36.5M133.75 38.6V36.9H142.43V38.6M151.1 38.6V36.2H159.77V38.6M138.09 36.9V35.2H155.44V36.2M110.98 34.8V33.8H146.76V35.2M168.45 38.6V36.6H177.12V38.6M172.78 36.6V35.4H185.79V38.6M128.87 33.8V32.8H179.29V35.4M154.08 32.8V31H194.47V38.6M211.82 38.6V35.5H220.49V38.6M229.16 38.6V34.8H237.84V38.6M216.15 35.5V32.5H233.5V34.8M203.14 38.6V30.2H224.83V32.5M246.51 38.6V31.8H255.19V38.6M213.99 30.2V25.9H250.85V31.8M263.86 38.6V33.7H272.53V38.6M268.2 33.7V31.8H281.21V38.6M289.88 38.6V35H298.56V38.6M274.7 31.8V29H294.22V35M232.42 25.9V23.1H284.46V29M170 31V18H276V23.1M67.07 19.2V10.5H241.4V18M307.23 38.6V34.6H315.9V38.6M311.57 34.6V22.8H324.58V38.6M318.07 22.8V15.6H333.25V38.6M341.93 38.6V34.6H350.6V38.6M346.26 34.6V26H359.27V38.6M352.77 26V23.4H367.95V38.6M325.66 15.6V12.6H360.36V23.4M156.5 10.5V1.6H342.3V12.6M29.8 63.55H21.3V72.46H29.8M29.8 81.37H23.4V90.28H29.8M23.4 85.82H22.7V99.19H29.8M22.7 92.51H21.7V108.09H29.8M21.3 68.01H16.4V100.3H21.7M29.8 117H23V125.91H29.8M23 121.46H22.4V134.82H29.8M22.4 128.14H18.8V143.73H29.8M16.4 84.15H11.3V135.93H18.8M29.8 152.63H20.8V161.54H29.8M20.8 157.09H20V170.45H29.8M29.8 179.36H25.6V188.27H29.8M25.6 183.81H23.9V197.17H29.8M20 163.77H13.5V190.49H23.9M11.3 110.04H6.3V177.13H13.5M29.8 206.08H25.6V214.99H29.8M25.6 210.54H24.4V223.9H29.8M24.4 217.22H18.2V232.81H29.8M29.8 241.71H21V250.62H29.8M29.8 259.53H22.6V268.44H29.8M21 246.17H18.5V263.98H22.6M18.2 225.01H10.2V255.08H18.5M6.3 143.59H2.8V240.04H10.2" fill="none" stroke="#3a3a3a" stroke-width="0.6"/>
<text x="443.6" y="92.4" class="t77">Cumulative score</text>
<rect x="442.8" y="95.3" width="51.8" height="15.5" fill="url(#gcum)"/>
<text x="447.5" y="120.2" class="t77" text-anchor="middle">−20</text><text x="468.2" y="120.2" class="t77" text-anchor="middle">0</text><text x="490.5" y="120.2" class="t77" text-anchor="middle">20</text>
<text x="443.6" y="137.3" class="t77">Treatment</text>
<rect x="443.2" y="143.1" width="9.6" height="9.6" fill="#3f9e96" stroke="#8a8a8a" stroke-width="0.6"/>
<text x="456.6" y="150.7" class="t77">αPD1</text>
<rect x="443.2" y="157" width="9.6" height="9.6" fill="#8c1d2f" stroke="#8a8a8a" stroke-width="0.6"/>
<text x="456.6" y="164.6" class="t77">CD8–IL2</text>
<rect x="443.2" y="171.3" width="9.6" height="9.6" fill="#bfe6fa" stroke="#8a8a8a" stroke-width="0.6"/>
<text x="456.6" y="178.9" class="t77">αPD1 + CD8–IL2</text>
<text x="443.6" y="200.6" class="t77">Z-scores</text>
<rect x="443.2" y="205" width="13.8" height="49.6" fill="url(#gz)"/>
<text x="461.6" y="209.4" class="t77">2</text>
<text x="461.6" y="222.3" class="t77">0</text>
<text x="461.6" y="235.2" class="t77">−2</text>
<path d="M443.2 216.9h2.2M454.8 216.9h2.2M443.2 230h2.2M454.8 230h2.2M443.2 243.2h2.2M454.8 243.2h2.2" stroke="#555" stroke-width="0.5"/>
<text x="0.2" y="341.5" class="pl">B</text>
<path d="M58 350.8H75.8V375.27C66.9 375.27 66.9 374.77 58 374.77Z" fill="#f5a5a5"/>
<path d="M58 375.07H75.8V426.8H58Z" fill="#ececec"/>
<path d="M62 386.68L75.8 385.58V387.58Z" fill="#fff"/>
<path d="M89.6 350.8H107.5V386.98C98.55 386.98 98.55 386.48 89.6 386.48Z" fill="#f5a5a5"/>
<path d="M89.6 386.78H107.5V426.8H89.6Z" fill="#ececec"/>
<path d="M93.6 397.72L107.5 396.62V398.62Z" fill="#fff"/>
<rect x="43.8" y="350.8" width="14.2" height="23.37" fill="#e32b2e"/>
<rect x="44.05" y="375.37" width="13.7" height="51.53" fill="#d2d2d2" stroke="#999" stroke-width="0.5"/>
<rect x="75.8" y="350.8" width="13.8" height="35.08" fill="#e32b2e"/>
<rect x="76.05" y="387.08" width="13.3" height="39.82" fill="#d2d2d2" stroke="#999" stroke-width="0.5"/>
<rect x="107.5" y="350.8" width="13.9" height="46.12" fill="#e32b2e"/>
<rect x="107.75" y="398.12" width="13.4" height="28.78" fill="#d2d2d2" stroke="#999" stroke-width="0.5"/>
<path d="M37 350.8V426.4M32.6 350.8H37M32.6 388.6H37M32.6 426.4H37" fill="none" stroke="#7a7a7a" stroke-width="0.8"/>
<text x="28.3" y="353.7" class="t8" text-anchor="end">100</text>
<text x="28.3" y="391.5" class="t8" text-anchor="end">50</text>
<text x="28.3" y="429.3" class="t8" text-anchor="end">0</text>
<text transform="translate(11.2 388.5) rotate(-90)" text-anchor="middle" style="font-size:8.6px">% of tumors</text>
<path d="M50.3 430.8v3.8" stroke="#7a7a7a" stroke-width="0.8"/>
<text transform="translate(51.9 443) rotate(-45)" text-anchor="end" style="font-size:8.6px">αPD1</text>
<path d="M82.1 430.8v3.8" stroke="#7a7a7a" stroke-width="0.8"/>
<text transform="translate(83.7 443) rotate(-45)" text-anchor="end" style="font-size:8.6px">CD8–IL2</text>
<path d="M113.85 430.8v3.8" stroke="#7a7a7a" stroke-width="0.8"/>
<text transform="translate(115.45 443) rotate(-45)" text-anchor="end" style="font-size:8.6px">αPD1 + CD8–IL2</text>
<rect x="131.2" y="353.4" width="9.4" height="7.4" fill="#d2d2d2" stroke="#888" stroke-width="0.5"/>
<text x="146" y="360" class="t8"><tspan font-style="italic">Ex vivo</tspan> NR</text>
<rect x="131.2" y="366.2" width="9.4" height="7.4" fill="#e32b2e"/>
<text x="146" y="372.8" class="t8"><tspan font-style="italic">Ex vivo</tspan> R</text>
<text x="205.8" y="341.8" class="pl">C</text>
<rect x="235.7" y="344.3" width="129.8" height="128.6" fill="none" stroke="#333" stroke-width="0.8"/>
<path d="M235.7 472.9L365.5 344.3" stroke="#2a2020" stroke-width="0.95" stroke-dasharray="3 1.7"/>
<text x="227.2" y="355.9" class="t85" text-anchor="end">2</text>
<text x="227.2" y="399.3" class="t85" text-anchor="end">1</text>
<text x="227.2" y="451.1" class="t85" text-anchor="end">0</text>
<text x="261.6" y="487" class="t85" text-anchor="middle">0</text>
<text x="313.3" y="487" class="t85" text-anchor="middle">1</text>
<text x="365.2" y="487" class="t85" text-anchor="middle">2</text>
<path d="M235.7 352.8h-3.2M235.7 396.2h-3.2M235.7 448h-3.2M261.6 472.9v3.8M313.3 472.9v3.8M365.2 472.9v3.8" stroke="#333" stroke-width="0.8"/>
<text transform="translate(217.6 410.3) rotate(-90)" text-anchor="middle" class="t87">LOG2FC α-PD-1</text>
<text x="300.4" y="498.7" text-anchor="middle" class="t87">LOG2FC CD8–IL2</text>
<g fill="#e8212b"><circle cx="285.2" cy="367.3" r="1.95"/><circle cx="261.9" cy="389" r="1.95"/><circle cx="256.5" cy="398.5" r="1.95"/><circle cx="275.8" cy="413.7" r="1.95"/><circle cx="260.2" cy="420.2" r="1.95"/><circle cx="281.5" cy="424" r="1.95"/><circle cx="275.6" cy="429.4" r="1.95"/><circle cx="280.4" cy="435" r="1.95"/><circle cx="278.8" cy="437.5" r="1.95"/><circle cx="284.6" cy="433.7" r="1.95"/><circle cx="284.6" cy="436.5" r="1.95"/><circle cx="279.4" cy="440.8" r="1.95"/><circle cx="265.6" cy="441" r="1.95"/><circle cx="272.3" cy="440.2" r="1.95"/><circle cx="274.8" cy="447.1" r="1.95"/><circle cx="266" cy="450.4" r="1.95"/><circle cx="271.7" cy="454.4" r="1.95"/><circle cx="326.3" cy="402.6" r="1.95"/><circle cx="306.4" cy="412.7" r="1.95"/><circle cx="318.6" cy="415.7" r="1.95"/><circle cx="306.5" cy="420.9" r="1.95"/><circle cx="325.1" cy="424" r="1.95"/></g>
<text x="288.6" y="369.65" class="t6">CCl17</text>
<text x="262.5" y="391.55" class="t6">CXCL5</text>
<text x="261.7" y="400.75" class="t6">CXCL1</text>
<text x="270.2" y="411.15" class="t6">IL6</text>
<text x="243.8" y="417.55" class="t6">CCL20</text>
<text x="271.2" y="421.15" class="t6">CCL2</text>
<text x="262.5" y="425.95" class="t6">sFas</text>
<text x="278.8" y="429.15" class="t6">IL10</text>
<text x="252.9" y="431.75" class="t6">Perforin</text>
<text x="286.8" y="433.35" class="t6">CCL4</text>
<text x="258.7" y="437.55" class="t6">IL17A</text>
<text x="289.8" y="438.55" class="t6">GranB</text>
<text x="247" y="442.95" class="t6">TNFα</text>
<text x="267.2" y="445.55" class="t6">IL4</text>
<text x="281.3" y="443.25" class="t6">sFasL</text>
<text x="278.6" y="448.65" class="t6">Granulysin</text>
<text x="249" y="453.85" class="t6">CCL3</text>
<text x="276.2" y="454.45" class="t6">CCL11</text>
<text x="261.4" y="459.45" class="t6">CCL5</text>
<text x="330.2" y="404.85" class="t6">CXCL10</text>
<text x="306.5" y="410.35" class="t6">CXCL9</text>
<text x="321.2" y="416.75" class="t6">IFNγ</text>
<text x="308.9" y="422.55" class="t6">GranA</text>
<text x="329.7" y="426.45" class="t6">CXCL11</text>
<text x="0.1" y="511.7" class="pl">D</text>
<rect x="24.5" y="521.2" width="144.5" height="77.3" fill="#ebebeb"/>
<path d="M31.7 521.2v77.3M68.6 521.2v77.3M105.5 521.2v77.3M142.4 521.2v77.3M24.5 530.1h144.5M24.5 549.3h144.5M24.5 568.5h144.5M24.5 587.8h144.5M24.5 597.4h144.5" stroke="#fff" stroke-width="0.35" fill="none"/>
<path d="M50.2 521.2v77.3M87.1 521.2v77.3M124 521.2v77.3M160.9 521.2v77.3M24.5 539.7h144.5M24.5 558.9h144.5M24.5 578.2h144.5" stroke="#fff" stroke-width="0.7" fill="none"/>
<rect x="178.8" y="521.2" width="145.2" height="77.3" fill="#ebebeb"/>
<path d="M186 521.2v77.3M222.9 521.2v77.3M259.8 521.2v77.3M296.7 521.2v77.3M178.8 530.1h145.2M178.8 549.3h145.2M178.8 568.5h145.2M178.8 587.8h145.2M178.8 597.4h145.2" stroke="#fff" stroke-width="0.35" fill="none"/>
<path d="M204.5 521.2v77.3M241.4 521.2v77.3M278.3 521.2v77.3M315.2 521.2v77.3M178.8 539.7h145.2M178.8 558.9h145.2M178.8 578.2h145.2" stroke="#fff" stroke-width="0.7" fill="none"/>
<rect x="23.5" y="611.2" width="144.4" height="77.8" fill="#ebebeb"/>
<path d="M30.7 611.2v77.8M67.6 611.2v77.8M104.5 611.2v77.8M141.4 611.2v77.8M23.5 620.1h144.4M23.5 639.3h144.4M23.5 658.5h144.4M23.5 677.8h144.4M23.5 687.4h144.4" stroke="#fff" stroke-width="0.35" fill="none"/>
<path d="M49.2 611.2v77.8M86.1 611.2v77.8M123 611.2v77.8M159.9 611.2v77.8M23.5 629.7h144.4M23.5 648.9h144.4M23.5 668.2h144.4" stroke="#fff" stroke-width="0.7" fill="none"/>
<rect x="178.8" y="611.2" width="145.2" height="77.8" fill="#ebebeb"/>
<path d="M186 611.2v77.8M222.9 611.2v77.8M259.8 611.2v77.8M296.7 611.2v77.8M178.8 620.1h145.2M178.8 639.3h145.2M178.8 658.5h145.2M178.8 677.8h145.2M178.8 687.4h145.2" stroke="#fff" stroke-width="0.35" fill="none"/>
<path d="M204.5 611.2v77.8M241.4 611.2v77.8M278.3 611.2v77.8M315.2 611.2v77.8M178.8 629.7h145.2M178.8 648.9h145.2M178.8 668.2h145.2" stroke="#fff" stroke-width="0.7" fill="none"/>
<text x="98" y="516.9" text-anchor="middle" class="t85">Untreated</text>
<text x="246.8" y="516.9" text-anchor="middle" class="t85">αPD-1</text>
<text x="98" y="608.1" text-anchor="middle" class="t85">CD8–IL2</text>
<text x="246.8" y="608.1" text-anchor="middle" class="t85">αPD-1 + CD8–IL2</text>
<g fill="none" stroke-linecap="round" stroke-width="2.6"><path d="M63.06 519.4h0M160.61 569.92h0M114.23 561.27h0" stroke="#450e60"/><path d="M114.23 550.19h0M133.26 556.42h0M133.96 556.77h0M103.84 573.38h0M109.03 583.07h0M111.46 583.77h0M110.07 542.23h0M110.07 536.34h0M97.96 551.92h0M93.46 555.38h0M103.84 590h0M99.69 578.92h0M100.38 532.88h0M100.63 537.89h0M102.46 530.46h0" stroke="#471b6c"/><path d="M97.01 532.95h0M49.21 529.74h0" stroke="#482878"/><path d="M95.19 548.46h0M89.69 597.58h0M52.91 529.82h0M98.65 586.54h0M51.08 530.75h0M51.11 531.19h0M33.6 546.9h0" stroke="#45337e"/><path d="M31.83 548.12h0M86.55 525.5h0M94.36 536.27h0M28.02 556.93h0M52.35 531.87h0M52.09 532.04h0M94.95 592.58h0M54.39 530.32h0" stroke="#413f83"/><path d="M78.74 524.33h0M72.63 566.07h0M69.82 566.39h0M71.22 566.32h0M86.68 527.29h0M30 554.45h0M70.74 567.72h0M78.33 561.99h0M90.31 546.97h0M75.41 563.87h0M41.62 564.82h0M46.24 544.97h0M74.05 567.93h0M43.75 546h0M72.95 567.59h0M74.65 567.25h0M74.36 564.05h0" stroke="#3e4a89"/><path d="M73.35 567.28h0M55.99 530.76h0M73.74 563.03h0M54.62 532.48h0M90.61 534.97h0M31.17 555.27h0M58.13 529.61h0M46.53 545.73h0M71 562.59h0M81.05 555.58h0M68.9 562.81h0M90.51 541.13h0M34.08 561.99h0M55.25 534.68h0M37.23 563.09h0" stroke="#3a548b"/><path d="M73.94 568.75h0M34.35 551.59h0M62.14 558.54h0M52.03 541.18h0M73.95 561.48h0M34.4 559.65h0M73.91 569.56h0M82.77 552.54h0M34.07 558.14h0M87.23 593.46h0M89.26 543.67h0M43.72 547.03h0M87.03 593.69h0M89.81 542.15h0M47.38 559.37h0M89.09 543.7h0M78.74 526.9h0M74.37 569.63h0M88.99 545.25h0M47.01 547.27h0" stroke="#355e8c"/><path d="M65.01 558.61h0M34.77 558.74h0M89.3 538.74h0M75.03 527.08h0M89.73 540.58h0M57.15 534.72h0M68.1 559.78h0M88.33 535.96h0M90.68 578.78h0M69.92 560.71h0M37.95 560.53h0M51.27 546.08h0M69.74 560.14h0M53.91 539.8h0M86.03 574.73h0M85.1 531.23h0M53.91 555.43h0M93.14 586.72h0M86.96 548.67h0M35.25 552.41h0M69.01 576.59h0M78.59 555.18h0M76.39 571.02h0M78.9 553.79h0M34.77 556.87h0M34.46 556.94h0M93.1 586.12h0M35.59 557.1h0M54.15 553.2h0M84.24 550.49h0M53.08 553.31h0M52.99 545.82h0M37.13 551.35h0M48.69 548.49h0M35.56 553.8h0M66.15 529.35h0M92.38 585.94h0M48.56 556.92h0M67.22 558.18h0M51.78 553.78h0M76.34 556.79h0M85.48 532.04h0M84.24 550.42h0M51.08 549.75h0M36.13 556.01h0M52.59 551.41h0M49.41 548.85h0M56.41 553.74h0M36.03 553.61h0M36.7 557.07h0M50.41 548.22h0M36.83 557.3h0" stroke="#31688e"/><path d="M38.08 559.73h0M86.2 533.12h0M43.28 560.33h0M36.17 553.34h0M58.2 535.56h0M53.49 550.47h0M43.06 560.37h0M84.14 530.84h0M42.98 549.33h0M83.58 550.33h0M88.04 539.88h0M87.95 577.37h0M91.65 585.77h0M48.44 554.86h0M43.9 558.74h0M36.54 553.31h0M54.21 551.49h0M41.04 559.72h0M37.71 556.52h0M69.37 558.19h0M48.92 553.43h0M41.55 559.78h0M70.2 557.95h0M58.16 534.67h0M80.09 528.58h0M38.42 557.27h0M41.18 559.63h0M55.63 552.16h0M42.6 558.44h0M56.37 552.04h0M37.99 555.73h0M37.11 554.37h0M41.15 559.01h0M52.78 549.7h0M46.75 556.48h0M47 555.5h0M53.87 550.39h0M89.39 589.01h0M82.01 593.41h0M53.1 547.54h0M91.08 585.8h0M48.77 554.06h0M38.68 555.53h0M47.5 554.48h0M67.79 557.06h0M78.57 553.05h0M67.77 556.42h0M39.09 555.51h0M39.75 556.41h0M41.06 556.19h0M55.65 550.21h0M40.88 555.64h0M86.23 545.75h0M68.1 556.39h0M40.49 555.25h0M38.85 554.99h0M85.06 547.75h0M74.89 555.64h0M41.84 551.09h0M80.4 529.87h0" stroke="#2d718e"/><path d="M74.42 572.85h0M67.89 529.56h0M55.29 546.98h0M46.2 551.29h0M44.12 556.77h0M63.35 531.61h0M89.62 588.29h0M55.16 541.54h0M56.57 540.28h0M44.16 556.27h0M39.01 554.19h0M41.93 555.06h0M43.03 551.81h0M42.63 555.64h0M56.83 540.23h0M40.67 553.64h0M46.36 554.61h0M42.23 552.7h0M83.06 549.34h0M44.28 555.2h0M87.58 542.42h0M56.5 541.13h0M72.26 574.19h0M42.64 553.01h0M43.35 553.53h0M84.58 547.63h0M79.51 529.92h0M43.41 554.43h0M90.26 585.74h0M60.32 533.02h0M85.76 534.86h0M45.24 554h0M86.16 590.86h0M87.62 577.76h0M89.35 580.19h0M81.14 530.85h0M62.18 556.02h0M44.79 552.34h0M89.42 581.32h0M57.73 550.82h0M75.44 554.99h0M71.1 555.06h0M66.72 555.15h0M86.01 536.38h0M59.35 536.02h0M76.61 553.77h0M75.86 528.76h0M83.35 533.16h0" stroke="#2a798e"/><path d="M67.87 554.91h0M81.4 531.64h0M88.11 588.99h0M57.55 540.72h0M86.16 576.59h0M60.67 553.11h0M84.34 534.6h0M84.78 546.12h0M89.31 585.61h0M89.55 584.91h0M72.69 574.68h0M79.74 573.23h0M80.43 550.9h0M73.62 554.59h0M57.69 548.38h0M75.7 573.47h0M69.25 581.41h0M87.8 588.25h0M88.92 585.73h0M57.98 539.98h0M88.51 579.94h0M81.14 549.98h0M56.82 546.18h0M73.06 588.96h0M57.89 547.59h0M85.83 541.15h0M82.8 533.4h0M66.4 553.89h0M80.69 550.08h0M79.03 530.93h0M80.32 550.46h0" stroke="#26828e"/><path d="M87.61 588.01h0M71.74 553.96h0M63.5 553.15h0M88.76 585.27h0M85.11 536.71h0M61.51 535.18h0M68.49 530.76h0M63.7 533.28h0M78.67 592.13h0M88.46 585.29h0M73.36 588.61h0M61.29 551.53h0M61.57 551.54h0M78.56 530.65h0M85.36 589.95h0M60.08 536.96h0M67.81 530.97h0M71.77 587.29h0M62.19 534.87h0M67.9 531.15h0M67.42 553.62h0M84.65 536.76h0M88.29 584.54h0M57.97 546.63h0M64.79 532.85h0M83.17 534.2h0M87.03 588.04h0M71.63 586.44h0M70.2 583.08h0M70.32 582.11h0M61.71 550.74h0M85.2 541.61h0M66.61 553.21h0" stroke="#248b8c"/><path d="M58.51 547.71h0M58.67 547.93h0M59.83 548.67h0M59.8 538.52h0M60.27 549.69h0M63.72 551.94h0M78.83 531.41h0M75.51 589.29h0M66.41 532.02h0M68.81 553.31h0M74.49 588.16h0M62.03 550.56h0M60.29 538.14h0M63.7 533.98h0M76.34 574.93h0M86.89 579.08h0M76.97 590.37h0M59.7 539.81h0M87.06 579.28h0M73.07 530.55h0M76.15 552.41h0M77.85 574.89h0M63.51 551.51h0M72.86 576.85h0M62.65 550.88h0M66.73 552.63h0M72.28 578.22h0M83.46 536.12h0M59.2 547.26h0M85.52 589.13h0M60.58 537.87h0M84.21 543.61h0M73.95 587.71h0M87.1 579.6h0" stroke="#21958b"/><path d="M76.67 531.47h0M61.43 537.37h0M71.47 580.69h0M85.7 588.12h0M85.28 589.08h0M59.92 547.07h0M82.21 534.23h0M84.3 541.75h0M86.64 586.89h0M66.21 552.16h0M73.04 578.25h0M87.31 585.29h0M76.9 575.53h0M62.26 549.57h0M68.73 552.42h0M73.61 577.6h0M61.73 537.36h0M73.72 578.06h0M60.07 543.6h0M85.38 588.21h0M64.8 533.93h0M64.39 534.25h0M83.23 536.8h0M75.6 588.19h0M68.27 532.28h0M73.69 585.46h0M79.9 549.09h0M76.71 576.02h0M72.75 579.32h0M72.28 582.93h0M72.76 531.49h0M76.53 551.34h0M75.73 588.34h0" stroke="#1f9e89"/><path d="M67.83 532.55h0M75.31 551.82h0M66.93 552.02h0M82.96 536.49h0M72.92 579.62h0M82.62 536.07h0M66.45 551.56h0M81.49 576.28h0M82.23 535.8h0M83.17 543.54h0M86.61 581.79h0M74.87 578.07h0M86.43 582.91h0M75.49 578.16h0M76.52 576.71h0M86.08 579.85h0M73.36 582.27h0M76.23 532.02h0M78.66 533h0M73.51 582.4h0M62.77 548.33h0M71.05 552.37h0M76.93 577.66h0M77.1 576.52h0M76.86 577.57h0M74.88 578.7h0M79.45 589.29h0M69.32 551.94h0M78.21 576.4h0M83.69 588.85h0M61.58 546.34h0" stroke="#26a684"/><path d="M85.92 582.99h0M85.91 584.17h0M75.45 585.59h0M62.49 538.34h0M75.08 584.98h0M85.86 583.05h0M76.09 578.78h0M78.72 587.68h0M64.79 535.37h0M75.86 586.55h0M85.63 579.88h0M63.48 537.23h0M74.57 532.42h0M75.7 585.76h0M62.04 546.86h0M75.7 585.23h0M62.09 547.09h0M79.74 547.7h0M75.15 581.2h0M75.28 580.97h0M65.82 534.71h0M61.97 544.9h0M67.98 533.36h0M83.02 578.35h0M63.88 548.37h0M85.52 585.18h0M76.52 532.67h0M75.63 584.68h0M83.01 540.29h0M77.66 578.04h0M81.31 545.91h0M73.44 532.35h0M77.3 549.29h0M75.52 583.91h0M75.54 583.93h0M62.15 545.32h0M72.26 551.54h0M76.03 585.44h0M79.66 577.42h0M81.98 588.04h0M82.37 543.84h0" stroke="#2eaf7e"/><path d="M62.18 541.11h0M75.41 581.79h0M76.21 585.44h0M68.6 550.9h0M80.08 577.69h0M70.45 551.66h0M83.18 579.05h0M85.21 584.67h0M76.27 583.67h0M83.23 587.77h0M81.23 587.46h0M78.29 548.37h0M65.78 549.13h0M83.61 586.96h0M62.53 546.63h0M63.76 547.28h0M76.14 581.7h0M76.22 581.03h0M65.32 548.34h0M84.36 585.95h0M68.01 550.59h0M77.42 586.13h0M79.34 547.05h0M76.27 583.3h0M76.45 580.81h0M76.34 582.87h0M76.53 582.95h0M84.61 585.14h0M76.08 582.67h0M77.9 533.64h0M77.65 585.94h0M67.94 550.32h0M79.27 586.41h0M84.46 585.3h0M84.36 583.32h0M76.79 581.29h0M78.77 579.06h0M84.62 584.33h0M77.4 582.04h0M82.17 586.48h0M79.76 586.27h0M79.32 579.36h0M77.22 583.69h0M83.85 580.26h0M77.34 583.67h0M79.33 579.3h0" stroke="#35b779"/><path d="M81.32 536.94h0M77.5 584.92h0M80.34 535.78h0M79.05 546.82h0M77.71 583.62h0M78.27 579.43h0M80.08 579.62h0M78.66 586.02h0M83.73 585.11h0M81.15 545.07h0M80.17 586.44h0M79.17 546.28h0M78.02 584.16h0M77.52 584.65h0M77.5 581.49h0M83.74 583.84h0M83.11 581.14h0M63.05 542.84h0M77.94 581.83h0M77.78 582.56h0M78.62 546.64h0M64.41 546.95h0M77.92 582.64h0M78.18 582.66h0M69.4 533.73h0M78.1 580.57h0M78.44 583.17h0M74.33 533.26h0M78.16 582.08h0M78.46 582.31h0M83.34 583.64h0M79.2 580.37h0M69.36 533.9h0M79.28 585.48h0M80.67 585.32h0M82.21 580.86h0M65.31 547.71h0M80.49 536.88h0M78.72 581.91h0M75.57 533.33h0M79.1 583.71h0M73.46 533.39h0M81.21 585.29h0M79.02 545.71h0M78.68 582.59h0M81.33 585.27h0M79.09 580.84h0" stroke="#48bf6e"/><path d="M81.91 540.07h0M81.65 580.87h0M80.58 581h0M68.12 549.57h0M79.88 584.96h0M63.58 540.44h0M81.77 583.86h0M79.05 582.24h0M69.36 550.19h0M63.41 543.25h0M79.2 582.77h0M79.17 545.47h0M79.3 583.74h0M79.74 584.63h0M80.89 581.22h0M65.63 547.46h0M81.28 538.86h0M79.58 581.38h0M80.79 584.55h0M80.43 584.24h0M69.58 534.21h0M81.09 541.75h0M77.65 535.1h0M80.23 584.14h0M73.07 550.01h0M75.38 533.9h0M80.72 582.52h0M72.81 533.78h0M78.16 545.9h0M66.57 547.67h0M75.89 534.13h0M78.79 535.99h0" stroke="#5bc663"/><path d="M79.15 536.6h0M67.76 535.58h0M65.38 545.96h0M63.81 541.14h0M64.16 539.98h0M75.26 548.61h0M76.58 547.3h0M80.33 541.73h0M80.73 541.15h0" stroke="#6ece58"/><path d="M80.3 541.76h0M77.14 535.8h0M67.01 537.05h0M75.53 535.14h0M72.5 548.2h0M77.14 545.03h0M72.93 548.16h0M64.9 544.1h0M79.38 542.85h0M70.93 549.21h0M80.14 540.99h0M79.18 542.38h0M79.49 542.53h0M71.92 548.89h0M66.56 537.59h0M65.19 544.35h0M64.71 541.68h0M78.29 542.85h0M65.75 539.96h0M65.53 540.14h0M68.87 535.86h0M78.55 538.96h0M64.79 541.85h0M77.95 542.71h0M66.02 538.96h0M66.04 538.86h0M78.31 542.17h0" stroke="#9cd83b"/><path d="M75.52 535.65h0M64.99 541.2h0M76.63 536.19h0M78.28 538.19h0M78.39 538.82h0M67.73 545.58h0M66.89 545.13h0M74.42 535.24h0M75.68 545.15h0M77.56 537.87h0M77.47 541.91h0M77.8 541.43h0M75.58 544.24h0M75.47 543.56h0M76.77 542.91h0M69.17 536.13h0M69.84 535.99h0M77.12 540.52h0M72.73 535.5h0M67.87 545.09h0M66.95 539.35h0M67.01 540.62h0M66.94 538.37h0M65.74 543.54h0M71.81 536.31h0M73.86 535.66h0M73.51 535.54h0M75.4 542.72h0M76.71 537.54h0M76.23 542.7h0M70.75 536.37h0M70.4 536.69h0M70.19 537.48h0M67.62 544.7h0M67.66 542.11h0" stroke="#cbe129"/><path d="M76.28 541.03h0M73.58 536.15h0M68.47 538.92h0M74.76 543.9h0M67.69 542.52h0M67.55 543.73h0M67.89 539.13h0M68.1 542.35h0M75.26 542.44h0M74.9 541.35h0M76.31 540.85h0M66.35 543.13h0M74.84 542.76h0M68.95 542.34h0M69.34 542.83h0M75.16 542.51h0M69.22 538.58h0M73.03 536.66h0M72.13 538.08h0M68.69 542.25h0M68.26 540.75h0M72.96 537.28h0M67.43 543.41h0M74.56 538.27h0M73.22 539.66h0M69.6 543.25h0M73.26 537.51h0M70.27 545.94h0M70.39 545.28h0M71.35 544.71h0M71.78 545.33h0M69.18 541.79h0M74.57 543.24h0M70.88 545.1h0M73.17 542.64h0M73.28 542.38h0M73.64 544.8h0M75.78 539.5h0M74.69 540.58h0M71.21 539.29h0M73.43 539.16h0M73.08 542.01h0M70.28 540.02h0M71.98 540.85h0M73.47 539.11h0M74.66 540.22h0M72.31 540.54h0M72.99 538.31h0M72.71 541.98h0M74.28 543.71h0M73.53 541.06h0M72.48 545.18h0M73.17 543.43h0M71.93 543.23h0M72.1 540.6h0M72.03 543.26h0M69.55 544.65h0M71.23 539.84h0M72.51 542.22h0M72.54 544.67h0M75.69 539.67h0M73.97 539.26h0M73.88 542.58h0M73.63 544.67h0M70.92 542.99h0M71.47 544.78h0M73.65 537.34h0M73.28 541.89h0M73.6 541.67h0M74 538.42h0M73.3 543.16h0M75.75 540.82h0M71.04 543.23h0M70.36 541.23h0M70.34 540.52h0M73.26 540.99h0M68.97 540.6h0M71.07 540.24h0M70.59 541.85h0M72.3 540.7h0M66.92 543.4h0M72.64 543.6h0M73.61 542.52h0M71.02 543.45h0M71.7 543.74h0M74.15 539.27h0M71.28 542.47h0M73.11 544.98h0M69.75 541.34h0M74.33 542.25h0M71.51 542.79h0M71.3 539.46h0M74.14 539.46h0M71.41 544.64h0M72.63 544.16h0M74.31 542.91h0M73.54 538.62h0M73.23 541.05h0M71.92 540.31h0" stroke="#fde725"/></g>
<g fill="none" stroke-linecap="round" stroke-width="2.6"><path d="M280.76 550.88h0M244.42 560.57h0M227.87 511.42h0" stroke="#450e60"/><path d="M251.34 564.04h0M256.54 574.42h0M310.19 569.23h0M284.23 575.11h0M287.69 574.42h0M271.07 563.34h0M304.99 570.96h0M253.07 569.23h0M291.15 573.38h0M268.65 560.57h0M268.65 567.5h0M313.3 569.92h0" stroke="#471b6c"/><path d="M272.11 582.04h0M182.7 538.83h0M265.18 535.85h0M272.25 587.75h0M179.89 563.58h0M185.59 540.02h0M188.03 538.16h0M190.7 537.45h0M185.09 568.8h0M192.09 539.66h0" stroke="#482878"/><path d="M185.11 544.23h0M268.95 588.46h0M199.42 566.65h0M262.13 536.96h0M262.77 533.92h0M238.52 517.78h0M266.92 584.8h0M188.35 544.06h0M189.79 543.13h0M268.12 587.78h0M266.65 587.12h0M260.69 534.61h0M266.23 587.2h0M191.7 544.56h0M191.96 544.69h0" stroke="#45337e"/><path d="M260.04 592.72h0M260.21 535.7h0M261.96 584.27h0M264.45 589.79h0M261.54 585.49h0M262.32 585.79h0M202.17 544.96h0M259.33 587.04h0M265.11 587.63h0M259.31 589.04h0M258.53 585.14h0M262.52 585.5h0M263.22 586.61h0M203.81 544.97h0M257.62 591.88h0M258.43 591.39h0M194.09 543.97h0M259.46 534.44h0M258.71 590.47h0M258.48 586.59h0M188.5 545.94h0M202.83 544.93h0M193.58 565.99h0M193.47 566.24h0M257.01 590.39h0M183.37 561h0M207.5 559.93h0M209.8 559.54h0M256.32 583.9h0M206.79 541.57h0M258.95 534.45h0M218.17 573.31h0M188.12 548.17h0M258.26 533.63h0" stroke="#413f83"/><path d="M193.74 545.86h0M247.02 523.22h0M242.4 550.07h0M256.34 589.45h0M255.49 592.23h0M214.72 553.91h0M256.54 529.42h0M186.65 563.27h0M250.74 543.81h0M207.94 542.48h0M215.32 558.05h0M230.87 562.18h0M184.83 554.33h0M211.26 557.09h0M256.15 587.7h0M250.27 595.58h0M206.9 557.66h0M217.79 564.41h0M205.53 548.21h0M184.93 556.72h0M208.85 536.29h0M211.19 553.13h0M218.89 557.62h0M186.05 558.5h0M186.8 562.35h0M205.55 559.49h0M206.94 547.03h0M211.99 553.44h0M257.05 533.05h0M247.81 524.45h0M219.89 568.33h0M208.89 555.08h0M256.51 530.7h0M227.61 560.85h0M207.48 544.78h0M208.84 537.5h0" stroke="#3e4a89"/><path d="M227.19 562.06h0M208.68 542.88h0M235.57 571.08h0M219.08 555.52h0M202.85 561.24h0M188.53 562.78h0M254.34 589h0M207.99 544.97h0M238.58 551h0M226.62 559.9h0M220.96 582.77h0M208.13 554.16h0M226.51 561.17h0M209.24 554.85h0M226.81 559.69h0M190.27 548.98h0M220.82 558.63h0M208.41 554.44h0M190.42 563.27h0M221.49 562.1h0M206.98 554.55h0M256.16 533.48h0M228.03 563.64h0M221.04 582.81h0M255.17 538.82h0M186.64 558.05h0M223.41 561.67h0M223.82 559.09h0M228.67 565.18h0M223.99 561.91h0M204.51 557.27h0M224.51 560.41h0M209.22 548.7h0M225.03 558.98h0M210.85 534.07h0M226.68 564.58h0M220.7 561.08h0M223.19 560.99h0M203.22 559.65h0M212.11 532.44h0M225.48 562.54h0M224.34 557.48h0M254.76 531.78h0M224.82 558.89h0M224.6 558.95h0M196.26 563.55h0M223.77 562.32h0M243.93 596.46h0M225.99 564.73h0M254.14 529.86h0M194.08 563.7h0M218.75 553.96h0M204.16 556.13h0M223.34 564.83h0M255.16 537.73h0M202.42 559.29h0M204.6 549.7h0M225.65 564.88h0M220.38 554.3h0M190.33 561.53h0M187.85 559.71h0M240 548.72h0M190.3 561.45h0M225 558.29h0M190.39 560.21h0M223.62 566.91h0M225.52 566.13h0M187.53 554.55h0M190.13 560.48h0M223.98 565.68h0M227.06 565.92h0M189.26 560.76h0M226.49 567.28h0M188.14 557.03h0M190.11 560.38h0" stroke="#3a548b"/><path d="M203.92 554.83h0M223.3 556.23h0M242.36 548.09h0M228.06 567.59h0M216.18 550.45h0M188.01 558.4h0M253.9 538.34h0M192.74 550.24h0M222.4 573.01h0M188.03 555.88h0M223.87 570.13h0M227.67 567.68h0M225.52 567.21h0M210.87 547.12h0M218.96 522.89h0M211.82 547.6h0M221.42 579.21h0M249.99 582.4h0M221.93 554.07h0M205.55 553.36h0M202.06 550.99h0M189.22 551.77h0M202.49 555.05h0M202.77 556.72h0M216.01 549.55h0M233.19 550.96h0M201.36 559.14h0M223.96 572.29h0M218.55 551.31h0M251.39 529.21h0M228.96 554.19h0M211.33 535.89h0M225.11 569.84h0M246.1 544.77h0M240.84 547.53h0M222.11 551.59h0M203.37 552.57h0M190.26 555.51h0M240.65 547.45h0M200.44 551.19h0M200.8 555.37h0M201.38 558.24h0M201.73 555.06h0M251.36 529.54h0M212.16 534.57h0M225.28 572.11h0M253.37 536.76h0M230.25 551.51h0M191.36 558.78h0M229.7 570.69h0M196.12 550.29h0M190.85 553.96h0M195.21 551.3h0M190.59 557.46h0M227.11 553.86h0M199.75 552.1h0M236.44 549.11h0M200.14 557.63h0M199.76 555.09h0M197.68 552.55h0M241.23 523.62h0M193.99 560.96h0M191.99 559.99h0" stroke="#355e8c"/><path d="M196.08 551.23h0M213.36 532.16h0M214.3 529.47h0M191.23 554.84h0M198.73 554.31h0M194.34 552.24h0M192.28 556.05h0M192.14 554.78h0M215.65 546.33h0M252.72 537.05h0M192.21 557.85h0M231.02 549.78h0M199.46 553.35h0M192.68 555.04h0M198.54 556.02h0M193.06 558.86h0M240.6 546.65h0M238.01 522.37h0M193 558.72h0M237.16 548.49h0M214.08 530.57h0M193.97 553.62h0M215.55 528.13h0M229.67 548.92h0M222.35 578.34h0M230.03 549.65h0M249.48 590.07h0M195.91 555.98h0M219.5 523.83h0M193.84 559.54h0M245.51 526.81h0M238.04 522.64h0M196.45 554.82h0M248.65 540.94h0M211.59 540.19h0M242.24 524.75h0M195.94 556.07h0M247.56 591.83h0M196.58 555.47h0M246.74 592.04h0M250.44 530.05h0M197.14 555.1h0M225.41 520.27h0M227.8 549.87h0M248.04 541.47h0M236.59 548.1h0M244.92 544.7h0M197.53 557.75h0M195.71 553.7h0M194.72 556.05h0M193.85 557.18h0M213.27 535.26h0M226.71 572.32h0M218.07 546.48h0M226.26 548.83h0M248.67 590.25h0M195.49 557.28h0M219.02 524.64h0M233.73 548.79h0M228.3 549.68h0M196.26 557.03h0M216.79 545.84h0M224.23 574.54h0M251.29 537.98h0M233.13 548.69h0M225.55 573.45h0" stroke="#31688e"/><path d="M216.86 527.34h0M232.48 548.78h0M215.38 543.35h0M250.69 538.71h0M212.24 539.82h0M217.01 544.97h0M214.48 543.1h0M243.55 544.8h0M220.94 547.66h0M248.4 589.55h0M248.97 588.51h0M239.83 546.34h0M251.45 535.03h0M251.23 532.3h0M241.47 525.16h0M248.22 528.81h0M249.26 587.49h0M235.93 547.94h0M228.73 548.15h0M251.17 533.92h0M247.92 540.44h0M223.31 579.49h0M246.9 590.73h0M249.92 531.03h0M220.56 523.95h0M221.28 547.7h0M229.02 572h0M242.9 594.1h0M216.72 543.53h0M246.42 590.92h0M245.95 591.48h0M225.61 548.42h0M214.9 542.08h0M213.48 538.57h0M218.13 544.82h0M246.4 528.63h0M226.51 573.3h0M249.18 538.75h0M243.25 526.48h0M247.87 588.93h0M222.26 547.39h0M244.56 592.55h0M219.8 524.98h0M250.41 536.35h0M247.77 538.74h0" stroke="#2d718e"/><path d="M214.33 538.52h0M249.8 537.66h0M223.54 581.39h0M232.34 547.31h0M214.84 540.38h0M235.07 546.83h0M225.7 574.97h0M215.66 530.66h0M232.75 521.72h0M215.2 531.52h0M215.08 540.58h0M249.64 534.01h0M246.88 540.16h0M224.18 584.05h0M249.41 537.37h0M219.74 545.35h0M229.13 546.83h0M245.07 542.41h0M215.9 541.8h0M247.78 530.38h0M246.46 589.94h0M215.01 534.62h0M226.02 521.57h0M246.2 540.84h0M224.29 578.81h0M233.94 546.84h0M220.21 545.04h0M248.59 536.26h0M249.14 533.05h0M226.95 574.31h0M246.72 538.64h0M216.5 542.17h0M246.37 589.71h0M245.85 590.34h0M218.34 543.53h0M247.06 588.23h0M217.59 543.07h0M243.98 591.95h0M248.53 532.36h0M245.15 529.49h0" stroke="#2a798e"/><path d="M226.73 574.68h0M247.44 530.43h0M215.49 536.53h0M215.63 535.72h0M246.64 530.38h0M226.35 575.53h0M231.59 546.19h0M232.45 546.17h0M245.82 540.21h0M224.2 546.79h0M242.3 527.11h0M225.43 585.11h0M223.19 545.96h0M245.39 590.45h0M223.86 546.49h0M247.58 531.32h0M247.94 534.23h0M243.65 528.96h0M247.09 587.4h0M244.9 530.18h0M247.26 585.65h0M224.62 580.85h0M241.62 542.62h0M227.86 546.47h0M247.09 531.91h0M225.37 578.69h0M246.95 531.38h0M216.15 540.57h0M247.82 533.45h0M216.13 532.72h0M238.97 544.41h0M247.01 585.36h0M219.76 543.3h0M230.76 546.15h0M219.86 525.96h0M246.34 588.49h0M242.15 592.82h0M219.1 526.91h0M247.05 534.2h0M218.25 542.4h0M216.29 536.91h0M221.13 525.18h0M241.65 527.64h0M236.01 574.18h0M216.37 533.38h0M217.18 540.52h0M216.4 535.52h0M237.18 544.64h0M225.83 584.26h0" stroke="#26828e"/><path d="M225.51 580.09h0M225.91 579h0M228.38 522.16h0M245.73 537.99h0M226.94 545.92h0M237.41 544.29h0M232.59 522.94h0M245.77 588.56h0M246.31 586.95h0M246.99 535.09h0M216.31 533.92h0M219.3 541.84h0M242.51 528.85h0M244.37 531.47h0M220.75 543.47h0M226.98 576.54h0M230.6 522.67h0M242 541.35h0M236.96 592.92h0M238.18 543.66h0M231.63 523.09h0M226.7 577.53h0M245.31 580.9h0M221.35 525.55h0M245.42 537h0M226.18 579.59h0M230.72 545.1h0M243.98 531.81h0M226.71 545.22h0M238.64 543.05h0M243.51 539.58h0M243.52 579h0M234.37 544.49h0M230.52 574.61h0M243.87 539h0" stroke="#248b8c"/><path d="M244.23 532.93h0M228.83 522.64h0M244.82 535.65h0M230.18 544.96h0M240.47 541.58h0M225.5 544.56h0M218.07 531.7h0M245.45 587.47h0M221.51 542.8h0M243.65 590.14h0M217.46 535.83h0M227.92 578.07h0M236.33 591.94h0M229.04 576.53h0M241.44 528.87h0M243.82 536.27h0M225.84 524.04h0M232.5 591.06h0M223.31 525.28h0M219.56 540.04h0M243.47 537.68h0M219.87 528.11h0M245.71 585h0" stroke="#21958b"/><path d="M242.85 590.05h0M241.75 591.25h0M243.21 538.44h0M243.63 535.8h0M244.97 586.56h0M222.39 526.05h0M243.71 589.1h0M240.9 591.48h0M234.37 543.7h0M233.78 523.95h0M235.24 543.66h0M232.2 523.93h0M218.04 532.61h0M243.22 536.32h0M220.58 540.52h0M243.22 535.76h0M240.86 529.13h0M220.73 540.41h0M242.2 538.6h0M230.14 588.8h0M241.67 529.88h0M222.09 526.67h0M243.62 581h0M235.56 543.17h0M227.57 580.59h0M242.97 588.73h0M235.55 543.17h0M240.26 540.28h0M240.51 540.08h0M229.23 544.32h0" stroke="#1f9e89"/><path d="M240.64 590.77h0M238.73 541.78h0M228 585.61h0M243.18 587.67h0M223.97 542.79h0M240.02 577.93h0M221.93 541.58h0M230.36 576.74h0M227.91 581.04h0M219.22 537.85h0M220.6 539.73h0M243.59 586.96h0M241.51 538.41h0M242.12 531.97h0M244.11 583.79h0M242.06 536.57h0M235.31 525.52h0M221.07 539.62h0M228.78 524.26h0M242.22 534.15h0M230.6 577.02h0M218.94 535.01h0M241.68 589.07h0M243.66 585.04h0M219.11 536.74h0M224.62 525.47h0M234.46 576.01h0" stroke="#26a684"/><path d="M228.25 581.62h0M242.01 535.44h0M230.78 577.45h0M238.98 590.75h0M230.23 578.03h0M233.19 589.87h0M231.1 524.69h0M219.19 532.45h0M219.07 533.99h0M238.5 527.66h0M231.29 577.34h0M230.52 543.39h0M241.59 536.34h0M243.1 584.32h0M241.29 536.62h0M233.64 525.03h0M235.66 542.55h0M228.79 583.81h0M243.16 584.66h0M233.65 525.1h0M239.56 538.76h0M241.31 534.52h0M237.37 540.82h0M228.68 581.37h0M228.54 581.46h0M229.02 580.67h0M219.99 530.82h0M241.39 533.35h0M240.99 536.04h0M241.28 533.39h0M237 526.87h0M228.74 582.52h0M220.24 537.99h0M233.44 542.88h0M220.3 537.84h0M230.34 578.73h0M228.83 582.51h0M240.2 589.25h0" stroke="#2eaf7e"/><path d="M229 583.21h0M241.04 580.84h0M225.16 525.8h0M229.44 580.1h0M228.82 582.68h0M237.77 540.36h0M242.67 584.65h0M221.28 528.79h0M238.76 589.7h0M240 579.28h0M226.28 525.46h0M236.64 577.46h0M240.79 534.28h0M239.73 530.5h0M241.49 587.73h0M230.36 579.22h0M236.69 577.61h0M240.47 536.38h0M240.53 536.22h0M220.83 538h0M229.98 584.63h0M220.92 538.21h0M233.45 542.53h0M241.58 586.66h0M239.8 588.95h0M226.96 525.61h0M240.18 588.29h0M220.05 534.8h0M225.79 541.74h0M232.61 587.83h0M221.67 528.65h0M229.87 581.45h0M229.86 582.31h0M220.79 530.22h0M238.95 579.55h0M239.86 531.95h0M235.38 588.89h0M241.23 586.86h0M239.57 531.16h0M239.81 532.05h0M232.92 587.48h0M230.31 582.83h0M241.86 585.74h0" stroke="#35b779"/><path d="M236.04 578.19h0M239.56 588.26h0M221.73 528.96h0M230.43 580.85h0M241.93 584.63h0M233.55 578.95h0M230.52 584.39h0M224.7 526.63h0M238.05 588.95h0M224.7 526.58h0M230.89 584.9h0M240.25 587.18h0M230.49 581.79h0M241.61 583.98h0M240.69 582.07h0M230.82 584.03h0M237.9 538.88h0M237.8 579.16h0M233.02 586.86h0M241.21 585.82h0M239.72 535.5h0M231.13 583.02h0M239.76 587.67h0M230.93 580.76h0M231.03 582.69h0M230.8 582.97h0M231.81 579.76h0M235.82 588.51h0M231.79 542.17h0M226.29 526.29h0M231.84 525.63h0M233.14 526.2h0M222.81 539.31h0M240.86 586.07h0M236.11 578.96h0M228.34 525.66h0M239.95 582.09h0M221.61 537.63h0M236.9 528.3h0M234.16 579.06h0M237.36 579.26h0M232.02 581.08h0M231.63 580.57h0M234 579.2h0M241.13 583.41h0M226.13 541.44h0M231.84 585.88h0M232.15 580.64h0M240.04 582.33h0M234.26 579.23h0M220.25 533.79h0M231.55 581.22h0M231.82 580.11h0M239.48 535.46h0M231.85 581.73h0M236.88 588.52h0M232.38 586.47h0M237.41 529.03h0M239.2 531.2h0M232.7 580.22h0M232.03 580.25h0M227.17 541.71h0M220.91 535.7h0M234.97 587.56h0M240.55 583.09h0M239.3 581.56h0M232.18 581.8h0M238.49 580.78h0M232.95 586.1h0M236.23 587.84h0M235.82 587.33h0M232.06 541.84h0M236.43 580.87h0M238.97 587.38h0M229.15 525.84h0M236.78 580.62h0M233.71 580.11h0M233.19 581.12h0M235.39 580.28h0M239.32 587.57h0M239.37 582.66h0" stroke="#48bf6e"/><path d="M232.51 585.08h0M240.09 583.27h0M233.07 581.2h0M227.81 526.16h0M235.84 586.84h0M235.74 580.89h0M236.46 540.05h0M229.7 542.35h0M238.48 530.8h0M227.88 541.72h0M232.75 584.42h0M232.14 584.46h0M238.26 530.54h0M236.51 581.09h0M237.69 581.37h0M232.09 584.19h0M237.33 581.5h0M232.54 584.26h0M236.18 587.09h0M240.25 585.61h0M233.1 582.46h0M233.34 581.43h0M240.4 584.56h0M233.25 581.87h0M226.75 526.56h0M232.39 583.45h0M233.57 582.14h0M222.61 529.42h0M233.61 582.89h0M236.68 587.05h0M234.22 581.15h0M235.02 581.74h0M234.67 584.13h0M233.07 582.68h0M239.43 584.66h0M220.69 533.65h0M234.25 582.1h0M233.71 585.36h0M233.84 584.04h0M234.75 581.71h0M238.72 582.05h0M235.7 582.23h0M223.06 528.89h0M238.94 583.46h0M239.04 584.5h0M239.28 585.37h0M239.93 584.6h0M233.06 526.82h0M232.56 526.76h0M238.73 584.44h0M233.86 581.37h0M234.84 584.69h0M234.98 585.4h0M237.18 582.08h0M238.69 586.77h0M233.98 582.56h0M236.17 585.62h0M236.21 585.54h0M236.45 585.83h0M238.78 585.97h0M233.96 584.38h0M236.84 586.52h0M234.69 582.1h0M235.62 584.63h0M235.19 583.4h0M222.4 530.16h0M236.51 582.35h0M235.8 585.2h0M236.89 585.64h0M234.41 583.14h0M236.21 585.72h0M238.48 582.41h0M234.18 583.79h0M236.41 583.82h0M236.87 583h0M236.24 583.67h0M235.87 583.33h0M236.98 583.09h0M236.93 584.46h0M236.01 583.59h0M236.85 583.03h0M235.85 583.98h0M236.86 583.32h0M236.45 583.67h0M236.63 583.99h0M237.87 586.11h0M237.06 583.28h0M237.46 582.96h0M237.53 584.25h0M238.09 583.59h0M237.69 587.08h0M237.55 530.52h0M238.49 584.14h0M226.08 540.83h0M237.59 583.78h0M237.67 583.9h0M237.45 585.47h0M238.15 583.71h0M235.89 539.84h0" stroke="#5bc663"/><path d="M238.26 535.3h0M237.72 536.02h0M227.25 540.87h0M237.51 585.39h0M237.41 585.71h0M236.11 539.42h0M223.13 537.95h0M237.52 585.69h0M231.13 527.04h0M222.66 530.31h0M237.05 537.06h0M225.31 527.76h0M237.48 536.42h0M222.06 535.49h0M236.67 538.23h0M237.97 532.37h0M237.96 531.98h0M237.69 535.42h0M238.07 533.26h0M231.35 527.37h0M237.32 536.25h0M222.58 535.96h0M221.65 534.33h0M233.42 527.91h0M233.78 528.16h0M233.51 528.01h0M223.72 529.57h0M224.67 528.59h0M236.26 538.06h0M222.14 532.85h0M231.37 540.19h0M227.41 527.38h0M223.51 529.96h0M223.02 535.47h0M237.24 532.92h0" stroke="#6ece58"/><path d="M230.44 527.6h0M227.88 540.21h0M223.67 530.24h0M225.52 538.82h0M228.37 527.73h0M229.48 540.29h0M222.48 534.8h0M235.28 538.01h0M235.55 529.89h0M228.61 527.89h0M230.94 539.93h0M226.51 538.9h0M231.31 539.37h0M235.01 538.09h0M229.27 528.3h0M224.11 537.06h0M227.66 528.01h0M226.78 538.83h0M234.37 538.81h0M236.43 532.61h0M233.77 539.33h0M223.62 531.58h0M224.71 529.1h0" stroke="#9cd83b"/><path d="M230.7 528.86h0M233.07 529.47h0M224.53 537.16h0M224.71 529.52h0M227.91 528.44h0M223.6 535.12h0M231.4 528.96h0M223.64 534.56h0M228.66 528.35h0M234.69 537.91h0M225.41 537.84h0M223.99 534.98h0M234.19 529.37h0M223.76 534.56h0M232.66 529.43h0M228.17 528.54h0M225.13 537.46h0M226.02 529.25h0M225.7 537.69h0M229.65 528.95h0M229.6 528.94h0M236.18 532.9h0M228.33 538.65h0M235.01 530.47h0M227.64 528.77h0M229.32 528.89h0M229.54 538.45h0M233.3 529.91h0M224.63 536.14h0M224.98 537h0M234 530.47h0M233.9 531.32h0M228.83 528.68h0M232.03 529.82h0M229.98 529.52h0M231.48 529.54h0M230.09 538.28h0M234.12 530.87h0M226.16 536.78h0M224.49 534.71h0" stroke="#cbe129"/><path d="M230.67 537.67h0M235.29 532.7h0M234.38 531.53h0M227.88 530.06h0M226.52 537.29h0M233.27 537.57h0M227.64 529.81h0M233.42 531.09h0M227.09 536.4h0M227.58 529.64h0M224.65 531.88h0M227.17 537.52h0M227.07 530.56h0M225.18 530.95h0M234.98 533.22h0M226.42 535.4h0M227.4 530.73h0M234.03 533.17h0M227.71 536.39h0M229.83 537.46h0M230.22 529.79h0M231.52 530.81h0M227.25 531.55h0M227.08 530.71h0M234.74 533.48h0M228.71 530.52h0M234.04 533.42h0M234.2 533.33h0M229.45 530.32h0M226.74 530.88h0M226.84 531.03h0M230.02 530.92h0M232.47 533.16h0M229.81 532.37h0M227.46 531.78h0M229.39 530.82h0M233.96 535.15h0M229.37 532.76h0M228.83 535.18h0M225.99 533.67h0M226.76 535.31h0M227.81 535.14h0M232.96 532.91h0M234.42 536.07h0M229.1 535.03h0M231.68 537.34h0M233.16 533.32h0M228.24 532.92h0M227.87 534.83h0M225.88 534.61h0M228.25 537.34h0M228.11 536.56h0M226.47 533.88h0M230.74 533.52h0M229.54 533.64h0M230.85 532.39h0M229.27 535.09h0M231.87 530.96h0M231.55 534.84h0M226.11 533.84h0M225.58 533.37h0M233.1 536.78h0M229.81 534.53h0M233.25 533.92h0M231.87 534.11h0M234.26 536.19h0M225.8 533.58h0M231.56 533.7h0M228.88 534.45h0M232.26 531.8h0M228.45 534.01h0M228.63 531.38h0M229.77 534.61h0M233.52 534.37h0M227.08 536.03h0M234.13 535.4h0M227.57 535.28h0M230.49 530.31h0M227.01 534.75h0M228.07 536.21h0M228.8 536.93h0M231.16 532.74h0M230.42 535.86h0M232.08 535.61h0M229.87 532.92h0M231.95 533.73h0M227.75 534.63h0M228.54 534.91h0M230.05 531.13h0M232.36 535.03h0M230.25 532.76h0M231.17 535.47h0M229.47 536.89h0M234.05 535.42h0M232.97 534.41h0M230.67 532.23h0M232.12 534.99h0M228.32 533.19h0M228.41 534.6h0M226.42 533.48h0M228.79 533.12h0M228.5 533.83h0M233.14 533.91h0M229.82 533.59h0M230.79 534.27h0M230.61 534.2h0M228.28 534.74h0M226.31 532.82h0M230.23 531.64h0M228.6 536.26h0M230.23 534.77h0M228.46 530.91h0M233.09 534.41h0M231.7 532.21h0M226.28 531.65h0M231.37 535.02h0M226.4 533.23h0M231.94 533.33h0M231.7 537.09h0M230.18 533.72h0M234.2 535.17h0M232.48 531.94h0M229.61 533.62h0M233.41 533.37h0M229.67 531.55h0M232.53 531.52h0M233.18 533.99h0M233.46 534.88h0M231.35 532.93h0" stroke="#fde725"/></g>
<g fill="none" stroke-linecap="round" stroke-width="2.6"><path d="M118.52 625.73h0M55.55 612.18h0" stroke="#471b6c"/><path d="M88.72 684.03h0M94.33 616.43h0M82 682.35h0M51.84 622.63h0M58.81 654.06h0M72.94 669.89h0M79.33 677.64h0M79.98 674.17h0M64.46 645.14h0M93 681.56h0M90.87 615.4h0M55.63 644.3h0M55.8 624.38h0M44.53 625.24h0M67.62 652.17h0M56.12 623.17h0" stroke="#482878"/><path d="M56.81 645.42h0M82.23 641.11h0M94.82 679.6h0M55.21 641.29h0M50.59 625.75h0M53.09 635.05h0M128.36 669.87h0M80.88 671.05h0M55.44 653.11h0M88.59 673.17h0M80.93 675.88h0M56.71 621.65h0M118.74 674.54h0M71.05 663.9h0M71.12 663.29h0M77.22 643.27h0M74.71 640.54h0M73.98 669.07h0M60.59 645.66h0M69.56 646.15h0M79.65 644.07h0M53.81 632.81h0M117.97 674.85h0M88.03 674.47h0M73.46 634.88h0M66.72 643.02h0M80.81 639.96h0M71.05 638.01h0M78.72 663.14h0M71.92 655.21h0M85.81 680.09h0M26.66 630.36h0M86.84 673.5h0M90.09 672.62h0M134.73 668.03h0M60.94 638.01h0M76.85 645h0M54.35 652.76h0M63.7 644.26h0M76.86 667.01h0M76.72 631h0M46.65 628.87h0" stroke="#45337e"/><path d="M70.56 634.51h0M76.29 662.3h0M87.02 674.33h0M73.48 660.14h0M73.07 654.94h0M61.11 629.91h0M87.84 642.99h0M73.42 663.04h0M57.26 632.59h0M77.47 648.12h0M57.53 635.07h0M89.72 675.11h0M73.9 650.87h0M69.36 634.27h0M59.27 649.21h0M92.63 643.35h0M69.95 637.21h0M116 676.21h0M60.61 633.4h0M66.03 639.41h0M67.58 637.89h0M95.99 623.21h0M100.16 624.2h0M87.48 665.61h0M73.37 654.57h0M74.01 648.91h0M59.47 615.8h0M63.1 637.45h0M86.59 664.38h0M60.63 635.21h0M34.93 625.77h0M52.76 648.62h0M82.81 636.93h0M75.1 648.75h0M52.66 651.93h0M60.38 631.04h0M72.03 661.93h0M86.07 634.22h0M90.92 625.77h0M86.33 634.31h0M68.21 633.63h0M114.71 676.11h0M86.47 634.23h0M84.15 633.65h0M96.7 623.95h0M63.74 628.23h0M86.39 639.35h0M47.4 643.3h0M91.8 670.68h0M93.11 640.51h0M61.09 617.52h0M115.73 673.88h0M51.05 632.69h0M27.36 634.63h0M47.16 643.19h0M101.87 679.69h0M104.58 625.65h0M52.05 651.9h0M87.86 635.24h0M69.04 630.42h0M87.67 618.4h0M44.39 656.47h0M47.62 655.93h0M128.68 643.93h0M27.79 635.47h0M65.68 628.65h0M85.06 617.95h0M93.51 625.33h0M102.2 624.89h0M83.74 633.11h0M53.15 646.02h0M64.02 626.36h0" stroke="#413f83"/><path d="M104.65 680.04h0M89.76 636.37h0M89.79 663.58h0M123.36 667.77h0M83.89 662.72h0M63.13 628.5h0M94.49 674.9h0M45.71 642.06h0M61.74 628.04h0M91.41 626.96h0M113.1 654.92h0M76.16 656.26h0M82.3 625.57h0M47.61 635.57h0M113.28 653.88h0M96.67 625.34h0M125.57 641.2h0M48.56 636.49h0M85.66 618.54h0M102.32 679.03h0M89.93 627.96h0M59.88 621.63h0M90.13 624.25h0M88.5 633.75h0M114.99 654.77h0M86.02 618.77h0M88.13 631.82h0M99.13 625.97h0M63.23 616.77h0M43.98 629.59h0M110.22 630.63h0M34.21 644.64h0M115.13 673.34h0M35.61 644.22h0M110.16 630.96h0M85.56 619.42h0M28.38 634.93h0M78.43 659.87h0M160.96 660.35h0M45.48 635.74h0M122.98 638.79h0M34.15 628.67h0M33.49 642.55h0M117.57 637h0M43.33 656.29h0M126.68 643.89h0M28.79 634.82h0M31.67 640.8h0M63.09 617.61h0M92.2 645.34h0M95.42 634.75h0M80.26 627.4h0M127.35 667.3h0M44.16 644.38h0M111.62 631.7h0M45.52 636.68h0M90.92 632.43h0M65.9 614.91h0M109.21 629.17h0M95.44 626.84h0M160.28 660.89h0M160.39 660.03h0M81.76 626.46h0M159.88 660.99h0M29.2 634.83h0M109.18 677.94h0M123.45 640.65h0M123.64 641.43h0M36.68 651.6h0M62.88 617.43h0M48.11 647.73h0M92.73 634.03h0M111.65 655.28h0M159.83 660.3h0M95.01 633.66h0M35.62 648.47h0M45.68 632.14h0M87.33 625.14h0M98.96 677.32h0M43.71 655.52h0M29.6 635.33h0M114.85 657.45h0M29.72 633.04h0M48.15 653.48h0" stroke="#3e4a89"/><path d="M159.79 659.76h0M148.66 653.09h0M97.39 628.02h0M109.52 630.87h0M121.13 666.02h0M44.8 636.74h0M116.33 637.05h0M44.89 634.96h0M89.27 662.55h0M159.57 661.12h0M83.15 623.76h0M112.73 655.95h0M67.85 627.69h0M67.77 614.04h0M100.67 650.66h0M112.93 673.68h0M127.21 666.64h0M110.81 676.13h0M121.97 640.96h0M83.34 622.9h0M44.95 654.54h0M37.07 651.13h0M48.42 649.19h0M118.52 652.78h0M78.73 613.92h0M95.81 631.54h0M44.32 631.42h0M34.7 629.87h0M158.78 660.9h0M39.75 628.55h0M158.72 661.03h0M124.67 643.19h0M144.71 664.91h0M117.32 637.5h0M100.75 649.96h0M80.59 655.85h0M120.69 654.66h0M99.85 649.94h0M120.02 663.7h0M119.94 650.11h0M125.47 665.6h0M116.38 664.84h0M37.38 646.51h0M103.93 652.26h0M38.11 652.32h0M81.2 657.63h0M126.4 646.28h0M83.12 622.73h0M65.62 617.87h0M38.47 646.92h0M45.92 651.83h0M83.27 622.12h0M99.48 647.21h0M81.16 656h0M112.61 672.56h0M99.23 649.71h0M140.29 665.33h0M96.44 673.09h0M104.24 677.26h0M37.85 648.6h0M75.71 614.2h0M89.41 646.53h0M107.69 629.85h0M37.76 648.17h0M95.46 631.17h0M38.39 651.97h0M45.18 653.46h0M107.95 630.43h0M118.36 664.17h0" stroke="#3a548b"/><path d="M68.46 625.29h0M36.6 631.06h0M77.28 615.4h0M116.14 662.13h0M158 661.06h0M99.31 645.46h0M143.14 664.94h0M81.13 654.02h0M98.93 648.13h0M99.76 646.88h0M37.86 638.97h0M35.59 638.89h0M65.23 619.6h0M65.7 619h0M40.38 644.64h0M31.67 638.65h0M114.41 650.42h0M82.01 651.33h0M46.96 648.91h0M123.77 643.78h0M43.64 646.87h0M69.15 615.13h0M38.63 651.23h0M157.74 659.83h0M44.92 651.05h0M66.13 617.72h0M40.02 652.19h0M42.67 653.17h0M77.54 616.36h0M151.03 656.06h0M121.22 649.99h0M115.31 666.38h0M37.45 638.85h0M38.6 645.65h0M35.12 630.96h0M98.12 630.55h0M114.33 669.76h0M146.7 664.42h0M73.29 625.84h0M81.11 624.41h0M92.61 661.97h0M148.14 664.72h0M121.98 650.05h0M121.91 663.9h0M123.29 648.94h0M32.49 631.62h0M38.06 638.73h0M42.61 635.94h0M105.45 649.81h0M98.4 641.33h0M64.98 622.24h0M32.49 631.44h0M127.47 647.71h0M104.11 649.61h0M115.31 666.55h0M122.78 664.06h0M119.53 640.87h0M155.97 662.57h0M102.83 676.22h0M38.5 630.52h0M156.31 660.08h0M66.73 623.44h0M41.45 652.61h0M125.19 645.74h0M75.76 615.55h0M40.28 651.09h0M32.74 638.26h0M116.46 661.26h0M66.97 618.11h0M156.43 658.92h0M81.64 623.15h0M156.67 659.76h0M104.19 648.36h0M99.91 641.24h0M79.69 653.11h0M156.95 659.91h0M90.82 646.88h0M38.52 630.43h0M42.09 634.96h0M116.53 661.29h0M102.77 629.01h0M110.38 674.42h0M145.78 663.86h0M156.16 659.97h0M39.9 636.75h0M40.98 650.91h0M106.79 655.05h0M43.09 647.41h0M81.74 622.17h0M100.14 632.15h0M118.53 649.18h0M39.16 630.61h0M107.02 649.91h0M114.63 662.86h0M105.47 630.34h0M82.14 619.47h0M41.26 649.47h0M41.6 634.58h0M119.5 641.26h0M68.78 616.05h0M87.85 661.01h0M152.6 657.82h0M41.27 634.75h0M38.14 636.79h0M99.98 632.53h0M106.77 676.1h0M121.88 662.95h0M82.39 619.77h0M118.58 641h0M100.86 641.31h0" stroke="#355e8c"/><path d="M117.36 649.03h0M67.69 618.7h0M112 635.29h0M37.76 633.91h0M37.75 634.02h0M99.31 635.42h0M37.46 635.03h0M117.89 648.55h0M102.34 629.88h0M75.16 616.56h0M66.99 622.48h0M84.77 649.13h0M72.64 625.08h0M152.21 659.62h0M44.11 648.64h0M152.1 660.58h0M110.12 657.85h0M37.32 636.8h0M92.99 661.15h0M96.7 669.56h0M74.44 625.31h0M74.55 615.92h0M41.67 650.46h0M74.59 625.13h0M42.15 649.85h0M147.71 654.08h0M99.08 637.15h0M83.49 651.38h0M103.67 647.42h0M104.61 675.32h0M109.09 633.01h0M39.57 634.26h0M152.53 658.66h0M33.55 634.5h0M152.77 660.85h0M102.34 640.01h0M123.72 650.56h0M105.56 649.18h0M124.66 663.09h0M72.89 623.58h0M34.12 632.46h0M85.71 648.89h0M153.28 660.31h0M151 660.29h0M153.48 660.19h0M99.34 634.39h0M78.03 624.33h0M153.8 660.04h0M123.05 651.91h0M102.04 631.67h0M73.73 616.01h0M100.55 674.95h0M94.78 648.79h0M123.21 652.19h0M33.82 632.58h0M150.81 660.4h0M107.04 632.62h0M122.53 658.37h0M96 649.75h0M120.38 643.57h0M89.96 660.38h0M121.63 646.49h0M88.88 648.2h0M35.55 636.12h0M102.4 633.71h0M125.02 662.52h0M148.57 655.3h0M122.58 657.31h0M103.93 631.73h0M84.51 657.24h0M150.59 660.35h0M100.96 635.09h0M113.55 637.78h0M128.14 649.71h0M91.42 660.41h0M149.99 659.57h0M124.65 662.2h0M127.47 650.13h0M83.78 654.82h0M84.72 652.42h0M35.76 634.73h0M83.42 655.03h0M112.25 664h0M102.43 638.35h0M112.6 665.76h0M150.33 658.82h0M35.42 634.59h0M112.94 664.65h0M128.18 650.16h0" stroke="#31688e"/><path d="M107.59 634.02h0M103.03 637.66h0M85.07 656.22h0M148.79 659.17h0M104.31 632.98h0M123.48 658.76h0M112.12 663.63h0M86.29 659.43h0M72.33 622.86h0M101.42 643.57h0M76.02 618.84h0M119.24 644.64h0M112.09 664.47h0M99.27 652.54h0M145.58 653.63h0M69.85 622.37h0M102.07 644.26h0M75.47 621.23h0M135.51 663.95h0M97.95 668.64h0M69.11 618.72h0M116.53 644.78h0M118.08 644.46h0M73.69 618.34h0M75.63 619.02h0M148.22 655.99h0M77.97 619.73h0M75.81 620.28h0M77 619.2h0M111.05 668.16h0M105.64 656.54h0M107.77 673.43h0M103.01 636.84h0M76.24 619.42h0M70.19 621.37h0M111.57 661.15h0M117.79 642.52h0M148.48 658.2h0M109.07 672.74h0M127.7 663.53h0M109.34 659.93h0M111.55 646.61h0M111.01 661.23h0M112.32 645.26h0M115.04 639.24h0M73.12 618.24h0M107.7 646.5h0M85.42 656.59h0M76.71 619.36h0M107.45 658.89h0M124.45 658.2h0M103.37 635.91h0M113.5 645.65h0M92.89 653.17h0M97.78 657.69h0M74.95 620.29h0M76.34 619.81h0M73.26 618.86h0M101.08 656.92h0M104.36 656.36h0M103.01 640.65h0M73.32 619.07h0M112.45 643.97h0M115.22 646.61h0M103.1 674.24h0M104.41 636.18h0M92.25 652.59h0M70.21 620.68h0M141.15 651.66h0M125.46 660.95h0M114.9 645.75h0" stroke="#2d718e"/><path d="M78.83 620.27h0M110.61 643.29h0M105.53 657.81h0M106.39 673.15h0M70.56 618.71h0M128.57 651.57h0M112.93 644.58h0M109.77 636.58h0M109.36 646.36h0M142.12 651.74h0M85.57 655.44h0M96.72 655.23h0M93.56 653.44h0M110.72 663.15h0M71.05 620.27h0M91.93 651.45h0M105.79 634.46h0M94.63 656.08h0M92.85 653.08h0M109.16 671.02h0M125.12 659.79h0M114.95 644.87h0M93.03 656.77h0M110.41 643.89h0M76.97 622.23h0M110.45 662.47h0M98.97 669.43h0M98.67 669.84h0M115.15 644.3h0M114.32 640.86h0M105.24 635.93h0M86.14 651.8h0M143.76 661.5h0M98.63 659.08h0M91.44 651.93h0M105.24 635.71h0M104.61 637.42h0M95.07 656.53h0M96.12 663.07h0M92.84 654h0M105.24 637.28h0M111.1 642.88h0M98.03 660.97h0M98.94 659.61h0M142.66 662.42h0M111.71 644.5h0M110.64 642.51h0M108.44 645.77h0M110.85 642.34h0M93.38 652.8h0M90.09 650.79h0M141.89 652.33h0M142.9 652.95h0M94.3 657.99h0M108.96 635.73h0M98.51 658.26h0M93.3 652.49h0M114.63 642.8h0M88.83 650.57h0M103.96 643.43h0M104.45 673.62h0M72.35 619.89h0M102.3 673.31h0M107.99 644.96h0M110.35 668.29h0M88.75 652.17h0M108.5 644.72h0M110.27 668.04h0M141.15 662.49h0M139.43 663.66h0M104.65 644.98h0M86.25 651.99h0M99.61 669.26h0M102.41 658.91h0M86.93 651.92h0M92.74 656.25h0M110.56 641.4h0M114.3 643.01h0M102.69 658.97h0M97.09 663.91h0M108.46 644.16h0M112.68 641.55h0M92.62 655.41h0M100.56 658.96h0M100.28 670.53h0M126.22 653.2h0M111.41 639.03h0" stroke="#2a798e"/><path d="M109.97 638.63h0M100.71 658.99h0M104.49 642.88h0M90.3 657.78h0M143.4 661.27h0M105.06 673.25h0M108.31 669.89h0M109.81 640.97h0M101.75 659.87h0M145.89 660.09h0M125.84 656.04h0M144.56 660.61h0M90.28 652.12h0M105.82 640.65h0M125.34 657.21h0M99.15 668.65h0M142.96 653.35h0M88.96 655.54h0M86.34 654.36h0M92.61 655.88h0M89.35 653.31h0M89.07 655.52h0M109.37 642.87h0M86.56 653.78h0M89.47 653.08h0M125.58 654.96h0M89 657.36h0M142.15 653.4h0M86.56 655.46h0M101.53 660.02h0M109.46 643.2h0M128.47 652.34h0M104.93 641.81h0M100.07 661.02h0M105.39 638.68h0M131.49 663.01h0M99.75 668.52h0M90.6 654.11h0M86.57 654.99h0M139.2 652.26h0M106.19 639.69h0M101.1 660.85h0M142.7 653.84h0M89.74 653.46h0M99.2 668h0M108.75 643.01h0M99.46 661.89h0M130.07 662.84h0M127.1 661.46h0M100.55 669.34h0M139.42 652.85h0M102.42 671.62h0M107.24 660.82h0M107.68 661.15h0M125.76 656.73h0M140.53 652.82h0M101.87 661.19h0M104.58 672.16h0M103.28 672.35h0M106.41 670.07h0M103.48 671.31h0M88.09 655.16h0M108.4 640.37h0M99.29 666.98h0M102.61 660.53h0M101.86 670.76h0M101.79 670.98h0M108.71 663.3h0M145.84 658.15h0M133.31 662.07h0M107.97 640.35h0M144.8 658.25h0M107.99 668.29h0M104.11 670.82h0" stroke="#26828e"/><path d="M105.44 670.32h0M107.54 665.55h0M141.89 654.06h0M143.04 660.09h0M142.2 660.07h0M107.34 661.56h0M100.08 663.42h0M132.03 662.25h0M105.03 661.25h0M137.26 652.41h0M129.65 653.07h0M106.9 661.89h0M99.96 663.74h0M101.42 662.08h0M143.98 658.74h0M133.32 651.95h0M100.05 665.63h0M136.67 662.67h0M142.61 659.79h0M104.6 662.52h0M102.45 662.14h0M108.42 667.94h0" stroke="#248b8c"/><path d="M130.12 653.12h0M127.87 659.99h0M127.77 659.51h0M105.3 669h0M103.2 662.52h0M105.51 662.33h0M104.43 669.25h0M128 659.43h0M103.55 662.83h0M104.3 668.41h0M101.4 667.19h0M129.65 653.95h0M136.94 652.54h0M129.15 654.25h0M102.55 667.03h0M101.19 666.16h0M104.14 663.18h0M106.03 662.89h0M106.58 667.06h0M101.49 663.98h0M138.01 653.48h0M142.12 657.44h0M131.71 661.07h0M139.21 660.83h0M141.37 659.07h0M137.92 660.76h0M133.89 652.65h0" stroke="#21958b"/><path d="M132.9 652.98h0M141.99 657.95h0M101.62 665.63h0M141.41 655.87h0M141.4 657.65h0M102.68 666.18h0M130.54 654.37h0M128.73 657.6h0M128.2 656.27h0M105.35 667.17h0M106.5 666.61h0M105.25 666.97h0M132.65 653.06h0M129.74 655.14h0M130.27 659.81h0M103.58 667.04h0M140.47 656.04h0M101.89 664.31h0M140.36 656.63h0M103.96 665.48h0M129.39 655.96h0M141.23 658.69h0M129.95 659.43h0M129.17 657.62h0M129.17 658.13h0M131.73 654.1h0M132.23 660.03h0M105.5 665.05h0M135.91 660.56h0M133.16 660.38h0M131.65 654.31h0" stroke="#1f9e89"/><path d="M137.77 654.49h0M132.19 653.87h0M130.87 657.21h0M135.94 660.27h0M130.46 657.71h0M139.89 656.38h0M136.5 653.29h0M133.96 660.1h0M135.05 653.57h0M133.31 659.71h0M135.82 659.95h0M134.14 654.09h0M132.7 659.34h0M139.91 657.93h0M138.4 659.28h0M131.06 656.81h0M140.01 658.9h0M134.27 654.41h0M135.84 653.52h0M133.12 658.98h0" stroke="#26a684"/><path d="M139.27 656.84h0M135.91 654.02h0M134.22 659.71h0M132.41 656.96h0M132.53 658.88h0M139 656.08h0M138.29 656.31h0M133.28 658.02h0M132.43 657.08h0M132.92 658.04h0M133.96 659.27h0M135.12 659.76h0M134.53 655.74h0M133.92 657.72h0M134.9 655.35h0M135.19 659.26h0M137.05 655.98h0M135 656.42h0M138.38 656.68h0M138.36 657.72h0M136.72 658h0M134.86 656.95h0" stroke="#2eaf7e"/><path d="M136.6 658.38h0M138.32 657.42h0M136.93 657.69h0M136.28 656.13h0" stroke="#35b779"/></g>
<g fill="none" stroke-linecap="round" stroke-width="2.6"><path d="M268.38 618.9h0M189.96 662.88h0M212.49 619.37h0" stroke="#471b6c"/><path d="M239.29 676.76h0M280.89 640.27h0M212.3 622.36h0M213.49 621.38h0M214.29 653.16h0M205.21 625.36h0M198.83 624.82h0M267.89 626.55h0M234.91 673.09h0M213.64 649.7h0M208.19 654.89h0M210.89 651.86h0M209.63 643.26h0M227.85 615.26h0M225.01 657.93h0M229.28 670.71h0M186.66 650.01h0M221.6 649.36h0M220.47 648.75h0M223.75 639.74h0M232.38 644.29h0M237.38 651.06h0M225.63 647.57h0M228.04 666.59h0M227.78 640.66h0M219.58 645.45h0M236.95 652.73h0M226.04 632.33h0" stroke="#482878"/><path d="M243.02 667.21h0M223.3 649.79h0M226.19 657.14h0M235.68 663.55h0M274.69 671.96h0M211.47 627.38h0M229.28 636.4h0M223.1 631.51h0M222.41 650.57h0M223.56 656.75h0M228.1 664.9h0M268.89 630.86h0M242.49 665.01h0M226.1 655.7h0M232.05 669.81h0M230.39 638.55h0M205.79 651.62h0M243.51 673.71h0M220.85 635.63h0M223.89 635.55h0M222.86 630h0M208.26 631.32h0M235.41 660.73h0M235.45 646.12h0M272.18 634.07h0M275.47 670.38h0M204.94 649.61h0M239.24 653.36h0M207.82 639.56h0M207.45 639.47h0M231.97 652.64h0M243.43 665.36h0M204.04 654.95h0M213.38 638.15h0M233.35 651.34h0M239.52 641.16h0M212.23 630.79h0M221.15 626.77h0M233.47 638.77h0M214.82 630.92h0M214.5 636.88h0M231.82 661.35h0M232.56 662.8h0M213.14 635.39h0M211.56 636.88h0M232.16 665.23h0M234.4 666.93h0M243.67 668.55h0M237.56 664.88h0M215.48 633.29h0M255.05 656.31h0M229.71 657.08h0M216.81 630.79h0M225.63 619.96h0M227.05 653.44h0M237.65 644.48h0M223.47 621.28h0M218.02 632.81h0M246.55 656.13h0M262.15 623.18h0M235.26 633.12h0M280.39 644.61h0M191 643.61h0M242 615.64h0M234.08 632.4h0M224.11 622.5h0M230.4 657.95h0M246.96 655.17h0M246.31 659.14h0M244.77 662.25h0M240.54 643.55h0M223.7 622.79h0M237.08 638.59h0M222.99 625.35h0M242.42 642.87h0M244.92 656.28h0M246.93 657.9h0M239.59 650.53h0" stroke="#45337e"/><path d="M243.95 645.64h0M205.7 636.92h0M275.74 640.6h0M242.75 658.63h0M254.01 658.48h0M271.35 635.38h0M277.22 644.95h0M247.33 659.79h0M191.98 628.67h0M191.8 642.35h0M236.96 632.47h0M247.68 651.07h0M289.45 648.58h0M229.67 619.05h0M241.63 657.28h0M244.73 654.39h0M273.15 669.14h0M230.24 626.72h0M193.17 657.29h0M286.27 667.91h0M273.91 644.04h0M244.3 647.22h0M247.81 655.75h0M226.49 621.85h0M192.11 644.35h0M189.49 652.69h0M188.8 650.65h0M246.08 653.17h0M246.65 675.43h0M271.72 671.77h0M279.7 668.33h0M252.8 650.19h0M228.18 622.73h0M258.52 620.85h0M317.75 659.89h0M254.09 619.62h0M272.31 669.91h0M245.91 648.66h0M229.14 624.21h0M257.93 621.05h0M293.88 650.2h0M231.04 626.49h0M192.4 643.38h0" stroke="#413f83"/><path d="M246.77 671.33h0M243.45 641.51h0M283.04 648.18h0M199.68 655.69h0M198.72 643.01h0M230.46 625.66h0M200.05 630.12h0M272.32 644.7h0M199.63 646.84h0M189.01 637.26h0M249.52 677.26h0M316.81 661.6h0M316.23 660.05h0M316.7 661.11h0M203.05 636.89h0M201.83 638.54h0M230.21 624.33h0M258.34 622.91h0M200.01 647.64h0M189.54 636.62h0M252.89 678.85h0M260.27 625.65h0M200.92 650.59h0M261.25 656.85h0M193.1 652.09h0M195.81 655.06h0M194.06 654.07h0M230.42 621.9h0M201.35 650.86h0M264.35 657.59h0M315.34 662.25h0M279.85 649.22h0M198.72 654.29h0M193.1 653.78h0M198.13 646.18h0M251.7 619.5h0M202.14 637.07h0M195.47 644.46h0M191.55 648.15h0M201.59 633.85h0M192.97 652.76h0M261.15 629.08h0M243.67 636.79h0M197.65 653.87h0M194.92 653.99h0M232.73 624h0M260.19 679.32h0M262.51 653.81h0M307.39 666.18h0M281.94 649.14h0M270.11 638.61h0M314.79 660.72h0M233.99 627.86h0M315.01 661.4h0M258.68 658.78h0M314.83 660.76h0M262.09 658.95h0M233.31 622.99h0M191.41 632.05h0" stroke="#3e4a89"/><path d="M244.47 637.41h0M199.92 654.23h0M199.76 639.37h0M264.91 657.48h0M263.1 631.17h0M192.18 633.88h0M196.95 651.56h0M257.23 622.69h0M192.25 634.49h0M192.59 633.61h0M192.29 632.7h0M260.21 679.25h0M288.67 650.2h0M288.04 666.41h0M290.96 651.01h0M255.39 660.96h0M242.06 618.95h0M195.48 653.1h0M315.02 659.48h0M194.55 652.14h0M269.2 637.16h0M200.12 639.71h0M265.99 658.65h0M260.81 650.91h0M259.96 659.36h0M239.29 619.73h0M293.35 650.97h0M197.82 650.96h0M199.75 638.99h0M258.15 679.46h0M263.31 659.49h0M275.25 647.23h0M197.56 648.03h0M194.17 632.39h0M234.22 623.28h0M197.48 631.2h0M244.47 633.76h0M302.91 665.1h0M195.74 631.49h0M195.19 650.05h0M194.62 649.7h0M195.86 649.97h0M198.09 640.78h0M194.29 649.6h0M194.09 632.57h0M236.78 621.79h0M267.18 661.17h0M263.95 659.93h0M263.5 651.2h0M194.86 650.78h0M291.22 665.66h0M242.99 632.47h0M199.46 637.73h0M251.46 647.32h0M244.47 635.04h0M248.42 646.23h0M264.73 655.34h0M235.18 621.91h0M240.07 629.53h0M252.82 647.66h0M193.81 634.78h0M244.74 620.1h0M195.04 632.86h0M257.27 624.05h0M250.29 621.28h0M313.38 661.07h0M237.43 621.93h0M194.5 633.76h0M199.55 636.88h0M237.6 628.2h0M264.57 650.64h0M259.27 660.01h0M258.87 649.86h0M194.32 635.88h0M267.97 637.42h0M237.17 623.64h0M252.3 623.47h0M299.5 665.33h0M240.91 620.74h0M239.27 620.54h0" stroke="#3a548b"/><path d="M194.46 636.2h0M258.93 660.52h0M244.23 620.89h0M250.24 675.13h0M252.2 676.53h0M267.32 652.14h0M244.61 620.84h0M237.33 622.45h0M270.05 641.22h0M273.94 647.26h0M237.34 622.73h0M241.54 621.24h0M244.37 620.53h0M238.27 623.18h0M253 623.98h0M252.21 623.79h0M257.66 678.49h0M196.97 634.67h0M196.74 633.29h0M269.46 648.36h0M266.15 650.83h0M267.01 649.34h0M312.08 661.05h0M270.19 647.43h0M312.41 659.4h0M247 642.02h0M198.06 634.21h0M311.9 661.37h0M197.61 635.06h0M259.41 629.18h0M195.16 634.18h0M246.69 621.58h0M283.62 664.89h0M193.21 637.51h0M196.61 634.62h0M239.26 621.79h0M280.1 651.06h0M248.89 670.09h0M245.14 634.63h0M255.79 624.98h0M253.83 624.65h0M195.92 635.64h0M267.2 649.38h0M196.49 635.86h0M268.37 639.55h0M249.8 645.11h0M275.81 664.89h0M238.73 623.38h0M268.9 647.99h0M260.51 660.3h0M269.18 641.52h0M245.75 621.91h0M243.59 630.48h0M262.43 677.58h0M238.13 627.83h0M195.6 638.69h0M260.11 630.82h0M244.21 631.03h0M253.55 624.72h0M273.94 663.81h0M253.32 676.9h0M243.61 630.4h0M268.18 647.54h0M269.25 656.56h0M241.52 628.6h0M241.76 621.56h0M269.42 651.91h0M279.52 664.94h0M293.78 664.78h0M258.8 629.45h0M243.67 628.7h0M252.51 675.88h0M244.94 622.77h0M269.89 650.5h0M265.41 676.17h0M247.57 640.68h0M267.6 639.22h0M262.65 649.15h0M196.15 637.16h0" stroke="#355e8c"/><path d="M272.59 661.58h0M261.87 677.54h0M250.82 624.04h0M268.97 667.82h0M252.69 625.17h0M308.2 656.92h0M249.91 623.78h0M293.98 664.55h0M310.42 662.42h0M239.88 627.85h0M276.09 650.29h0M257.64 628.05h0M270.09 658.55h0M240.33 627.86h0M239.05 624.87h0M268.1 668.18h0M240.86 623.1h0M245.85 629.52h0M244.33 623h0M253.9 625.33h0M310.97 660.47h0M310.76 661.17h0M311.03 660.03h0M252.54 666.04h0M281.72 651.72h0M310.78 660.37h0M276.7 662.4h0M276.64 662.13h0M250 643.91h0M310.19 660.85h0M263.75 634.08h0M267.5 641.62h0M245.53 629.02h0M243.91 627h0M310.27 660.51h0M272.3 652.36h0M276.07 651.42h0M286.9 651.8h0M308.43 658.44h0M310.35 659.65h0M252.68 665.93h0M304.28 656.46h0M251.98 625.56h0M310.32 659.83h0M271.48 653.81h0M250.56 670.7h0M308.21 659.21h0M246.59 625.1h0M272.11 653.33h0M275.97 661.31h0M308.56 659.55h0M301.56 655.62h0M246.84 624.87h0M270.29 653.76h0M255.64 627.28h0M306.76 658.49h0M308.11 658.75h0M272.22 660.25h0M270.92 653.51h0M245.49 628.52h0M255.1 676.99h0M293.96 664.15h0M241.14 625.19h0M256.94 647.59h0M287.45 652.83h0M250.3 670.66h0M306.24 657.58h0M309.71 661.15h0M242.88 624.91h0M273.18 652.78h0M299.75 655h0M271.16 654.24h0M272.06 654.1h0M306.41 661.34h0" stroke="#31688e"/><path d="M289.27 663.61h0M253.49 646.04h0M294.38 663.88h0M259.83 632.53h0M306.61 658.88h0M267.88 670.76h0M250.95 670.06h0M251.79 668.01h0M286.45 662.99h0M271.68 659.51h0M273.8 652.57h0M262.89 662.47h0M251.49 627.31h0M305.23 657.61h0M305.43 657.87h0M288.75 653.06h0M305.49 658.67h0M306 660.1h0M263.2 634.46h0M295.72 654.78h0M245.56 627.73h0M252.62 674.18h0M261.71 646.95h0M272.66 654.51h0M252.81 666.16h0M274.33 652.67h0M251.19 627.93h0M297.86 663.21h0M304.63 659.36h0M303.34 658.44h0M278.46 662.13h0M273.65 654.91h0M279.8 652.68h0M278.86 662.24h0M263.39 676.2h0M249.02 632.55h0M291.79 663.76h0M248.84 638.99h0M265.56 639.54h0M247.87 632.86h0M296.98 662.59h0M255.24 646.64h0M249.73 627.66h0M247.55 626.25h0M246.22 626.27h0M304.01 658.87h0M256.36 630.33h0M261.46 646.69h0M304.28 661.77h0M276.3 660.49h0M247.13 633.36h0M293.31 663.45h0M283.77 653.48h0M247.25 626.14h0M286.81 653.53h0M277.97 652.85h0M264.13 636.23h0M300.26 656.17h0M302.59 660.12h0M252.29 644.79h0M274.49 655.08h0M302.37 660.04h0M249.03 636.15h0M300.02 662.46h0M249.99 631.83h0M302.37 661.35h0M252.62 645.1h0M251.54 628.43h0M301.57 660.7h0M253.71 629.02h0M272.49 659.34h0M303.73 658.68h0" stroke="#2d718e"/><path d="M265.25 645.5h0M263.01 645.54h0M259.56 646.91h0M277.15 660.61h0M300.45 658.11h0M267.2 670.83h0M288.36 653.98h0M304.14 660.1h0M304.01 659.53h0M299.15 657.53h0M300.54 660.5h0M303.96 659.84h0M276.81 660.17h0M264.42 637.72h0M250.24 640.6h0M257.69 631.66h0M282.35 653.69h0M264.38 645.7h0M300.88 658.72h0M250.54 631.56h0M266.96 672.04h0M287.12 654.03h0M300.58 662.47h0M301.86 658.65h0M250.04 631.39h0M285.46 662.07h0M249.46 639.89h0M293.13 655h0M251.53 631h0M277.89 653.3h0M296.04 662.01h0M262.32 676.17h0M250.24 631.69h0M252.21 631.21h0M274.69 659.25h0M274.75 655.57h0M289.89 662.84h0M297.96 655.99h0M290.79 655.09h0M279.07 661.53h0M249.92 633.02h0M264.96 640.07h0M292.37 655.4h0M273.35 657.05h0M256.62 631.14h0M279.31 661.55h0M266.92 670.46h0M274.42 656.14h0M252.87 668.34h0M276.08 659.68h0M275.41 659.02h0M251.26 641.29h0M259.34 633.37h0M263.17 675.41h0M265.24 664.69h0M265.25 642.1h0M284.85 661.99h0M295.32 657.29h0M298.58 658.62h0M264.94 640.88h0M253.5 666.89h0M261.1 645.59h0M253.58 632.15h0M292.09 662.25h0M276.13 654.08h0M276.43 654.04h0M296.17 661.43h0M276.82 654.33h0M278.9 661.37h0M253.88 674.24h0M294.32 658.68h0M295.75 658.09h0M282.41 654.68h0M252.79 643.14h0" stroke="#2a798e"/><path d="M297.79 657.86h0M252.73 671.51h0M282.33 661.64h0M278.07 660.36h0M293.69 660.01h0M294.48 658.57h0M294.98 658.21h0M276.17 654.59h0M292.81 659.08h0M286.55 655.53h0M251.95 634.4h0M278.92 661.27h0M262.77 644.83h0M266.66 669.54h0M254.09 632.82h0M296.42 659.86h0M264.44 641.65h0M282.9 660.24h0M287.48 656.01h0M296.32 659.68h0M251.43 640.35h0M275.55 657.19h0M254.37 632.53h0M288.57 661.52h0M294.01 656.85h0M287.04 657.55h0M283.78 660.97h0M254.51 674.49h0M285.5 656.38h0M286.9 657.42h0M296.88 659.49h0M284.54 661.07h0M285.95 660.68h0M298.07 659.93h0M292.37 656.47h0M295.87 658.81h0M250.32 639.45h0M292.8 656.89h0M265.12 665.3h0M266.29 671.9h0M286.58 660.21h0M297.86 660.03h0M263.31 674.81h0M256.55 633h0M263.51 637.55h0M295.1 660.02h0M265.11 667.5h0M250.99 635.4h0M251.76 640.52h0M253.23 668.54h0M265.16 666.83h0M293.05 657.7h0M285 657.02h0M297 661.1h0M260.24 645.42h0M289.5 655.47h0M279.47 654.29h0M259.85 663.68h0M263.74 642.02h0M263.42 643.4h0M253.23 672.39h0M261.19 675.85h0M277.7 658.89h0M263.37 643.6h0M280.69 660h0M265.94 672.14h0M265.92 669.84h0M253.58 643.26h0M263.9 638.51h0M285.05 659.96h0M282.76 655.94h0M285.27 659.89h0M288.66 660.63h0M288.28 658.16h0M283.73 655.81h0M283.3 659.43h0M290.66 656.77h0M285.01 657.38h0M264.09 640.14h0M284.09 657.7h0M276.78 657.86h0M264.87 668.01h0M259.62 634.87h0" stroke="#26828e"/><path d="M279.75 659.43h0M278.98 657.62h0M256.01 665.09h0M278.02 658.56h0M253.94 672.85h0M252.13 635.64h0M261.19 643.91h0M283.7 658.07h0M279.27 657.6h0M263.76 639.26h0M252.31 639.56h0M291.67 659.29h0M285.06 658.14h0M291.63 657.83h0M278.91 659.08h0M259.38 645.21h0M282.62 656.64h0M289.16 660.7h0M283.32 656.94h0M255.33 633.91h0M278.55 658.51h0M279.58 659.3h0M252.48 639.91h0M261.72 643.27h0M290.51 657.53h0M280.13 656.79h0M253.63 642.53h0M290.95 659.79h0M290.78 657.61h0M282.9 657.23h0M261 636.3h0M252.86 641.62h0M254.44 633.78h0M253.53 634.11h0M253.61 670.17h0M255.72 674.46h0M257.12 665.08h0M253.45 633.95h0M259.59 676.02h0M291.1 657.86h0M265.17 671.87h0M290.65 659.65h0M262.07 637.14h0M251.29 638.74h0M289.88 657.52h0M263.45 640.72h0M251.66 638.58h0M252.4 635.63h0M253.39 635.24h0M252.24 636.14h0M261.29 642.24h0M259.92 675.2h0M260.88 637.39h0M253.72 641.93h0M264.81 669.72h0" stroke="#248b8c"/><path d="M261.15 674.93h0M254.59 672.22h0M262.09 641.25h0M252.36 638.04h0M253.81 641.87h0M262.71 639.83h0M258.19 644.25h0M260.79 642.78h0M258.02 644.18h0M258.83 643.96h0M255.78 667.06h0M259.9 675.06h0M264.87 670.8h0M253.11 637.62h0M257.5 635.76h0M260.59 642.68h0M263.59 672.29h0M262.13 640.49h0M260.08 638.43h0M262.18 665.21h0M263.25 667.09h0M256.35 635.77h0M255.42 672.59h0M259.79 643.61h0M263.38 672.5h0M261.62 640.18h0M254.91 669.59h0M261.64 640.14h0M263.44 672h0M255.93 642.52h0M255.05 669.87h0M259.17 643.36h0M254.84 641.75h0M255.78 636.72h0M258.25 664.59h0M255.85 667.7h0M263.36 668.68h0M259.42 643.22h0M254.73 638.14h0M258.59 664.9h0M256.11 667.41h0M258.06 636.29h0M255.1 638.49h0M262.82 666.91h0M260.83 665.57h0" stroke="#21958b"/><path d="M255.7 671.23h0M256.13 672.84h0M257.57 667.04h0M262.88 668.23h0M258.92 665.25h0M260.82 665.89h0M262.36 667.7h0M256.15 640.93h0M256.38 637.64h0M259.51 639.59h0M262.19 666.12h0M256.62 668.37h0M263.4 669.83h0M255.61 670.41h0M256.49 637.52h0M260.25 666.98h0M256.18 640.55h0M259.43 637.62h0M257.56 641.83h0M256.13 641.72h0M259.72 674.15h0M261.66 673.49h0M255.86 670.95h0M262.18 667.84h0M255.23 639.86h0M263.12 669.79h0M256.86 641.22h0M255.92 640.96h0M257.98 642h0M256.39 669.35h0M258.2 666.92h0M259.31 638.07h0M259.93 667.34h0M260.05 667.51h0M256.72 638.21h0M259.21 638.24h0M260.91 668.11h0M263.04 669.48h0M258.69 667h0" stroke="#1f9e89"/><path d="M257.02 638.38h0M258.51 640.77h0M258.68 638.38h0M257.87 637.86h0M257.07 640.17h0M257.19 639.95h0M256.98 672.67h0M261.64 672.01h0M256.92 639.95h0M256.14 671.39h0M262.21 671.18h0M258 638.53h0M257.48 669.59h0M257.34 670.12h0M256.63 670.24h0M257.48 670.21h0M261.38 669.3h0M262.18 670.92h0M260.92 668.83h0M258.95 668.7h0M261.78 670.57h0M260.79 670.19h0M258.07 670.29h0M259.61 668.67h0" stroke="#26a684"/><path d="M258.21 672.06h0M259.23 669.68h0M260.76 672.06h0M260.22 670.22h0M260.07 669.42h0M257.49 671.52h0M259.75 669.9h0M258.73 670.56h0M260.21 669.87h0M259.69 669.73h0M260.08 670.69h0M259.98 671.75h0M260.27 670.9h0M259.97 671.29h0" stroke="#2eaf7e"/></g>
<path d="M18 664.8V693.2H47.8" fill="none" stroke="#222" stroke-width="0.7"/>
<path d="M16.5 668L18 663.6L19.5 668ZM44.6 691.7L49 693.2L44.6 694.7Z" fill="#111" stroke="none"/>
<text transform="translate(12.7 693) rotate(-90)" class="t85">UMAP_2</text>
<text x="17.8" y="704.9" class="t85">UMAP_1</text>
<text x="328.7" y="641.8" class="t87">n_neighbors</text>
<rect x="328.8" y="646.3" width="8" height="42.5" fill="url(#gvir)"/>
<text x="340.6" y="653" class="t85">200</text>
<text x="340.6" y="662.5" class="t85">150</text>
<text x="340.6" y="671.9" class="t85">100</text>
<text x="340.6" y="681.6" class="t85">50</text>
<text x="2.1" y="725.5" class="pl">E</text>
<text x="68.8" y="727.2" text-anchor="end" class="t75">Cycl_c3</text>
<circle cx="89.4" cy="724.5" r="0.5" fill="#c8ecc8"/>
<circle cx="104.2" cy="724.5" r="0.7" fill="#5cc05c"/>
<circle cx="118.8" cy="724.5" r="2.3" fill="#3cb54a"/>
<circle cx="133.3" cy="724.5" r="2.3" fill="#3cb54a"/>
<text x="68.8" y="740.27" text-anchor="end" class="t75">Cycl_c2</text>
<circle cx="89.4" cy="737.57" r="1" fill="#1b5e2b"/>
<circle cx="104.2" cy="737.57" r="0.45" fill="#b0d8b0"/>
<circle cx="118.8" cy="737.57" r="4.6" fill="#1b5e2b"/>
<circle cx="133.3" cy="737.57" r="4.6" fill="#1b5e2b"/>
<text x="68.8" y="753.34" text-anchor="end" class="t75">Cycl_c1</text>
<circle cx="104.2" cy="750.64" r="1.2" fill="#5cb848"/>
<circle cx="118.8" cy="750.64" r="5.5" fill="#5cb848"/>
<circle cx="133.3" cy="750.64" r="6" fill="#5cb848"/>
<text x="68.8" y="766.41" text-anchor="end" class="t75">Dys_c2_HLA-DRB1</text>
<circle cx="89.4" cy="763.71" r="1.7" fill="#8a1c1c"/>
<circle cx="104.2" cy="763.71" r="3.2" fill="#8a1c1c"/>
<circle cx="118.8" cy="763.71" r="6.3" fill="#8a1c1c"/>
<circle cx="133.3" cy="763.71" r="6.7" fill="#8a1c1c"/>
<text x="68.8" y="779.48" text-anchor="end" class="t75">Dys_c1_TOX</text>
<circle cx="89.4" cy="776.78" r="7.2" fill="#e41f26"/>
<circle cx="104.2" cy="776.78" r="7" fill="#e41f26"/>
<circle cx="118.8" cy="776.78" r="3.75" fill="#e41f26"/>
<circle cx="133.3" cy="776.78" r="3.2" fill="#e41f26"/>
<text x="68.8" y="792.55" text-anchor="end" class="t75">IFN_ISG15</text>
<circle cx="89.4" cy="789.85" r="0.6" fill="#c050a8"/>
<circle cx="104.2" cy="789.85" r="1" fill="#c050a8"/>
<circle cx="118.8" cy="789.85" r="0.8" fill="#c050a8"/>
<circle cx="133.3" cy="789.85" r="1.2" fill="#c050a8"/>
<text x="68.8" y="805.62" text-anchor="end" class="t75">NK-like_KLRC1</text>
<circle cx="89.4" cy="802.92" r="3.75" fill="#d9a6d6"/>
<circle cx="104.2" cy="802.92" r="3.3" fill="#d9a6d6"/>
<circle cx="118.8" cy="802.92" r="3.4" fill="#d9a6d6"/>
<circle cx="133.3" cy="802.92" r="3.5" fill="#d9a6d6"/>
<text x="68.8" y="818.69" text-anchor="end" class="t75">Eff_FCGR3A</text>
<circle cx="89.4" cy="815.99" r="3.75" fill="#7b3fa8"/>
<circle cx="104.2" cy="815.99" r="2.7" fill="#7b3fa8"/>
<circle cx="118.8" cy="815.99" r="3.6" fill="#7b3fa8"/>
<circle cx="133.3" cy="815.99" r="3" fill="#7b3fa8"/>
<text x="68.8" y="831.76" text-anchor="end" class="t75">Trans_KLRG1</text>
<circle cx="89.4" cy="829.06" r="5.8" fill="#f4776e"/>
<circle cx="104.2" cy="829.06" r="5.5" fill="#f4776e"/>
<circle cx="118.8" cy="829.06" r="5" fill="#f4776e"/>
<circle cx="133.3" cy="829.06" r="4" fill="#f4776e"/>
<text x="68.8" y="844.83" text-anchor="end" class="t75">Mem_c2_CAPG</text>
<circle cx="89.4" cy="842.13" r="0.7" fill="#c9842b"/>
<circle cx="104.2" cy="842.13" r="1.2" fill="#c9842b"/>
<circle cx="118.8" cy="842.13" r="3.5" fill="#c9842b"/>
<circle cx="133.3" cy="842.13" r="3.7" fill="#c9842b"/>
<text x="68.8" y="857.9" text-anchor="end" class="t75">Mem_c1_IL7R</text>
<circle cx="89.4" cy="855.2" r="7.2" fill="#f9a11b"/>
<circle cx="104.2" cy="855.2" r="7.2" fill="#f9a11b"/>
<circle cx="118.8" cy="855.2" r="3.75" fill="#f9a11b"/>
<circle cx="133.3" cy="855.2" r="4" fill="#f9a11b"/>
<text x="68.8" y="870.97" text-anchor="end" class="t75">Naive_c2_BNIP</text>
<circle cx="89.4" cy="868.27" r="4.9" fill="#787878"/>
<circle cx="104.2" cy="868.27" r="5" fill="#787878"/>
<circle cx="118.8" cy="868.27" r="4" fill="#787878"/>
<circle cx="133.3" cy="868.27" r="4.3" fill="#787878"/>
<text x="68.8" y="884.04" text-anchor="end" class="t75">Naive_c1_RP</text>
<circle cx="89.4" cy="881.34" r="3.5" fill="#cfcfcf"/>
<circle cx="104.2" cy="881.34" r="3.7" fill="#cfcfcf"/>
<circle cx="118.8" cy="881.34" r="3.2" fill="#cfcfcf"/>
<circle cx="133.3" cy="881.34" r="2.5" fill="#cfcfcf"/>
<path d="M75.6 717.8V888.5H140.2M75.6 724.5h-3M75.6 737.57h-3M75.6 750.64h-3M75.6 763.71h-3M75.6 776.78h-3M75.6 789.85h-3M75.6 802.92h-3M75.6 815.99h-3M75.6 829.06h-3M75.6 842.13h-3M75.6 855.2h-3M75.6 868.27h-3M75.6 881.34h-3M89.4 888.5v3M104.2 888.5v3M118.8 888.5v3M133.3 888.5v3" fill="none" stroke="#555" stroke-width="0.7"/>
<text transform="translate(92.3 898) rotate(-45)" text-anchor="end" style="font-size:7.7px">Untreated</text>
<text transform="translate(107.1 898) rotate(-45)" text-anchor="end" style="font-size:7.7px">αPD1</text>
<text transform="translate(121.7 898) rotate(-45)" text-anchor="end" style="font-size:7.7px">CD8–IL2</text>
<text transform="translate(136.2 898) rotate(-45)" text-anchor="end" style="font-size:7.7px">αPD1 + CD8–IL2</text>
<text x="148.8" y="853.4" class="t75">Fraction</text>
<circle cx="155.2" cy="861.6" r="0.4" fill="#555"/><circle cx="155.2" cy="869" r="1.4" fill="#000"/><circle cx="155.2" cy="880.8" r="7.2" fill="#000"/>
<text x="164.4" y="864.1" class="t75">8.25e−004</text>
<text x="164.4" y="872.1" class="t75">0.01</text>
<text x="164.4" y="883.9" class="t75">0.26</text>
<text x="11.9" y="950.2" class="pl">F</text>
<text x="102.2" y="953.1" text-anchor="middle" style="font-size:7.65px">Clonal sharing αPD-1</text>
<path d="M84.11 978.95A68.4 68.4 0 0 1 110.55 978.1Q99.5 1045.6 84.11 978.95Z" fill="#d9a6d6" fill-opacity="0.5" stroke="#d9a6d6" stroke-opacity="0.35" stroke-width="0.4"/>
<path d="M115.58 979.12A68.4 68.4 0 0 1 136.35 987.98Q99.5 1045.6 115.58 979.12Z" fill="#cfcfcf" fill-opacity="0.75" stroke="#cfcfcf" stroke-opacity="0.35" stroke-width="0.4"/>
<path d="M137.35 988.63A68.4 68.4 0 0 1 167.89 1044.41Q99.5 1045.6 137.35 988.63Z" fill="#787878" fill-opacity="0.5" stroke="#787878" stroke-opacity="0.35" stroke-width="0.4"/>
<path d="M167.79 1049.42A68.4 68.4 0 0 1 97.59 1113.97Q99.5 1045.6 167.79 1049.42Z" fill="#f9a11b" fill-opacity="0.45" stroke="#f9a11b" stroke-opacity="0.35" stroke-width="0.4"/>
<path d="M81.22 1111.51A68.4 68.4 0 0 1 42.73 1083.75Q99.5 1045.6 81.22 1111.51Z" fill="#f4776e" fill-opacity="0.5" stroke="#f4776e" stroke-opacity="0.35" stroke-width="0.4"/>
<path d="M42.2 1082.95A68.4 68.4 0 0 1 39.45 1012.86Q99.5 1045.6 42.2 1082.95Z" fill="#e41f26" fill-opacity="0.5" stroke="#e41f26" stroke-opacity="0.35" stroke-width="0.4"/>
<path d="M44.52 1004.91A68.4 68.4 0 0 1 53.11 995.33Q99.5 1045.6 44.52 1004.91Z" fill="#8a1c1c" fill-opacity="0.55" stroke="#8a1c1c" stroke-opacity="0.35" stroke-width="0.4"/>
<path d="M65.09 986.48A68.4 68.4 0 0 1 77.68 980.77Q99.5 1045.6 65.09 986.48Z" fill="#7b3fa8" fill-opacity="0.5" stroke="#7b3fa8" stroke-opacity="0.35" stroke-width="0.4"/>
<path d="M39.68 1012.44A68.4 68.4 0 0 1 41.62 1009.15Q99.5 1045.6 87.27 1112.9A68.4 68.4 0 0 1 84.35 1112.3Q99.5 1045.6 39.68 1012.44Z" fill="#e41f26" fill-opacity="0.3" stroke="#e41f26" stroke-opacity="0.42" stroke-width="0.3"/>
<path d="M41.81 1008.85A68.4 68.4 0 0 1 43.95 1005.69Q99.5 1045.6 84.11 1112.25A68.4 68.4 0 0 1 81.45 1111.58Q99.5 1045.6 41.81 1008.85Z" fill="#e41f26" fill-opacity="0.26" stroke="#e41f26" stroke-opacity="0.38" stroke-width="0.3"/>
<path d="M53.38 995.09A68.4 68.4 0 0 1 55.99 992.82Q99.5 1045.6 90.22 1113.37A68.4 68.4 0 0 1 87.62 1112.96Q99.5 1045.6 53.38 995.09Z" fill="#e41f26" fill-opacity="0.3" stroke="#e41f26" stroke-opacity="0.42" stroke-width="0.3"/>
<path d="M56.64 992.29A68.4 68.4 0 0 1 57.96 991.26Q99.5 1045.6 38.02 1015.62A68.4 68.4 0 0 1 38.56 1014.55Q99.5 1045.6 56.64 992.29Z" fill="#e41f26" fill-opacity="0.15" stroke="#e41f26" stroke-opacity="0.27" stroke-width="0.3"/>
<path d="M59.01 990.47A68.4 68.4 0 0 1 59.78 989.91Q99.5 1045.6 91.16 1113.49A68.4 68.4 0 0 1 90.45 1113.4Q99.5 1045.6 59.01 990.47Z" fill="#e41f26" fill-opacity="0.14" stroke="#e41f26" stroke-opacity="0.26" stroke-width="0.3"/>
<path d="M61.45 988.76A68.4 68.4 0 0 1 62.45 988.11Q99.5 1045.6 36.08 1019.98A68.4 68.4 0 0 1 36.44 1019.09Q99.5 1045.6 61.45 988.76Z" fill="#e41f26" fill-opacity="0.14" stroke="#e41f26" stroke-opacity="0.26" stroke-width="0.3"/>
<path d="M63.86 987.22A68.4 68.4 0 0 1 64.37 986.91Q99.5 1045.6 91.88 1113.57A68.4 68.4 0 0 1 91.28 1113.5Q99.5 1045.6 63.86 987.22Z" fill="#e41f26" fill-opacity="0.17" stroke="#e41f26" stroke-opacity="0.29" stroke-width="0.3"/>
<path d="M167.9 1045.84A68.4 68.4 0 0 1 167.89 1046.79Q99.5 1045.6 81.8 979.53A68.4 68.4 0 0 1 82.72 979.29Q99.5 1045.6 167.9 1045.84Z" fill="#f9a11b" fill-opacity="0.25" stroke="#f9a11b" stroke-opacity="0.37" stroke-width="0.3"/>
<path d="M167.88 1047.03A68.4 68.4 0 0 1 167.86 1047.87Q99.5 1045.6 79.39 980.22A68.4 68.4 0 0 1 80.3 979.95Q99.5 1045.6 167.88 1047.03Z" fill="#f9a11b" fill-opacity="0.25" stroke="#f9a11b" stroke-opacity="0.37" stroke-width="0.3"/>
<path d="M167.85 1048.11A68.4 68.4 0 0 1 167.82 1048.82Q99.5 1045.6 55.17 993.51A68.4 68.4 0 0 1 55.81 992.97Q99.5 1045.6 167.85 1048.11Z" fill="#f9a11b" fill-opacity="0.25" stroke="#f9a11b" stroke-opacity="0.37" stroke-width="0.3"/>
<path d="M167.82 1048.94A68.4 68.4 0 0 1 167.8 1049.3Q99.5 1045.6 42.13 1082.85A68.4 68.4 0 0 1 41.49 1081.85Q99.5 1045.6 167.82 1048.94Z" fill="#f9a11b" fill-opacity="0.3" stroke="#f9a11b" stroke-opacity="0.42" stroke-width="0.3"/>
<path d="M167.89 1046.79A68.4 68.4 0 0 1 167.88 1047.03Q99.5 1045.6 135.34 987.34A68.4 68.4 0 0 1 136.25 987.91Q99.5 1045.6 167.89 1046.79Z" fill="#f9a11b" fill-opacity="0.22" stroke="#f9a11b" stroke-opacity="0.34" stroke-width="0.3"/>
<path d="M167.86 1047.87A68.4 68.4 0 0 1 167.85 1048.11Q99.5 1045.6 110.79 978.14A68.4 68.4 0 0 1 111.85 978.32Q99.5 1045.6 167.86 1047.87Z" fill="#f9a11b" fill-opacity="0.22" stroke="#f9a11b" stroke-opacity="0.34" stroke-width="0.3"/>
<path d="M110.79 978.14A68.4 68.4 0 0 1 111.96 978.35Q99.5 1045.6 91.76 1113.56A68.4 68.4 0 0 1 90.57 1113.41Q99.5 1045.6 110.79 978.14Z" fill="#f4776e" fill-opacity="0.22" stroke="#f4776e" stroke-opacity="0.34" stroke-width="0.3"/>
<path d="M82.72 979.29A68.4 68.4 0 0 1 83.88 979.01Q99.5 1045.6 90.45 1113.4A68.4 68.4 0 0 1 89.63 1113.28Q99.5 1045.6 82.72 979.29Z" fill="#f4776e" fill-opacity="0.19" stroke="#f4776e" stroke-opacity="0.31" stroke-width="0.3"/>
<path d="M78.59 980.47A68.4 68.4 0 0 1 79.39 980.22Q99.5 1045.6 96.52 1113.93A68.4 68.4 0 0 1 95.44 1113.88Q99.5 1045.6 78.59 980.47Z" fill="#c9842b" fill-opacity="0.28" stroke="#c9842b" stroke-opacity="0.4" stroke-width="0.3"/>
<path d="M77.8 980.73A68.4 68.4 0 0 1 78.48 980.51Q99.5 1045.6 94.49 1113.82A68.4 68.4 0 0 1 93.3 1113.72Q99.5 1045.6 77.8 980.73Z" fill="#c9842b" fill-opacity="0.22" stroke="#c9842b" stroke-opacity="0.34" stroke-width="0.3"/>
<path d="M113.14 978.57A68.4 68.4 0 0 1 114.54 978.87Q99.5 1045.6 83.88 979.01A68.4 68.4 0 0 1 84.35 978.9Q99.5 1045.6 113.14 978.57Z" fill="#c050a8" fill-opacity="0.25" stroke="#c050a8" stroke-opacity="0.37" stroke-width="0.3"/>
<path d="M115.7 979.15A68.4 68.4 0 0 1 116.74 979.41Q99.5 1045.6 98.9 1114A68.4 68.4 0 0 1 97.71 1113.98Q99.5 1045.6 115.7 979.15Z" fill="#f9a11b" fill-opacity="0.19" stroke="#f9a11b" stroke-opacity="0.31" stroke-width="0.3"/>
<path d="M39.5 1012.75A68.4 68.4 0 0 1 39.62 1012.54Q99.5 1045.6 98.31 1113.99A68.4 68.4 0 0 1 97.83 1113.98Q99.5 1045.6 39.5 1012.75Z" fill="#f9a11b" fill-opacity="0.22" stroke="#f9a11b" stroke-opacity="0.34" stroke-width="0.3"/>
<path d="M58.43 990.9L72.67 1011.74" stroke="#5cb848" stroke-width="0.7" stroke-opacity="0.8" fill="none"/><path d="M72.67 1011.74L78.5 1020.93" stroke="#5cb848" stroke-width="0.6" stroke-opacity="0.35" fill="none"/>
<path d="M60.95 989.09L75.87 1012.83" stroke="#1b5e2b" stroke-width="0.7" stroke-opacity="0.8" fill="none"/><path d="M75.87 1012.83L82.09 1023.16" stroke="#1b5e2b" stroke-width="0.6" stroke-opacity="0.35" fill="none"/>
<path d="M63.46 987.47L76.55 1010.66" stroke="#3cb54a" stroke-width="0.7" stroke-opacity="0.8" fill="none"/><path d="M76.55 1010.66L81.93 1020.79" stroke="#3cb54a" stroke-width="0.6" stroke-opacity="0.35" fill="none"/>
<path d="M80.02 973.9A74.3 74.3 0 0 1 113.17 972.57L112.28 977.29A69.5 69.5 0 0 0 81.28 978.53Z" fill="#d9a6d6"/>
<path d="M114.19 972.77A74.3 74.3 0 0 1 115.96 973.15L114.9 977.83A69.5 69.5 0 0 0 113.24 977.47Z" fill="#c050a8"/>
<path d="M116.97 973.38A74.3 74.3 0 0 1 139.53 983.01L136.94 987.05A69.5 69.5 0 0 0 115.84 978.05Z" fill="#cfcfcf"/>
<path d="M140.62 983.71A74.3 74.3 0 0 1 173.79 1044.3L168.99 1044.39A69.5 69.5 0 0 0 137.96 987.71Z" fill="#787878"/>
<path d="M173.8 1045.73A74.3 74.3 0 0 1 97.43 1119.87L97.56 1115.07A69.5 69.5 0 0 0 169 1045.72Z" fill="#f9a11b"/>
<path d="M96.39 1119.83A74.3 74.3 0 0 1 92.51 1119.57L92.96 1114.79A69.5 69.5 0 0 0 96.59 1115.04Z" fill="#c9842b"/>
<path d="M91.35 1119.45A74.3 74.3 0 0 1 37.83 1087.04L41.81 1084.36A69.5 69.5 0 0 0 91.87 1114.68Z" fill="#f4776e"/>
<path d="M37.26 1086.18A74.3 74.3 0 0 1 39.16 1002.24L43.06 1005.04A69.5 69.5 0 0 0 41.28 1083.55Z" fill="#e41f26"/>
<path d="M39.77 1001.4A74.3 74.3 0 0 1 52.24 988.27L55.29 991.97A69.5 69.5 0 0 0 43.63 1004.26Z" fill="#8a1c1c"/>
<path d="M52.74 987.86A74.3 74.3 0 0 1 56.35 985.11L59.14 989.02A69.5 69.5 0 0 0 55.76 991.59Z" fill="#5cb848"/>
<path d="M57.1 984.59A74.3 74.3 0 0 1 59.25 983.15L61.85 987.18A69.5 69.5 0 0 0 59.84 988.53Z" fill="#1b5e2b"/>
<path d="M59.91 982.73A74.3 74.3 0 0 1 61.34 981.85L63.81 985.96A69.5 69.5 0 0 0 62.47 986.79Z" fill="#3cb54a"/>
<path d="M62.13 981.38A74.3 74.3 0 0 1 78.9 974.21L80.23 978.83A69.5 69.5 0 0 0 64.54 985.53Z" fill="#7b3fa8"/>
<text transform="translate(78.71 969.07) rotate(344.8)" text-anchor="middle" class="t46">0</text>
<text transform="translate(92.59 966.6) rotate(355)" text-anchor="middle" class="t46">30</text>
<text transform="translate(106.69 966.63) rotate(5.2)" text-anchor="middle" class="t46">60</text>
<text transform="translate(115.17 967.86) rotate(11.4)" text-anchor="middle" class="t46">0</text>
<text transform="translate(118.15 968.52) rotate(13.6)" text-anchor="middle" class="t46">0</text>
<text transform="translate(131.5 973.04) rotate(23.8)" text-anchor="middle" class="t46">30</text>
<text transform="translate(143.38 979.55) rotate(33.6)" text-anchor="middle" class="t46">0</text>
<text transform="translate(154.39 988.36) rotate(43.8)" text-anchor="middle" class="t46">30</text>
<text transform="translate(163.66 998.99) rotate(54)" text-anchor="middle" class="t46">60</text>
<text transform="translate(170.9 1011.09) rotate(64.2)" text-anchor="middle" class="t46">90</text>
<text transform="translate(175.88 1024.27) rotate(74.4)" text-anchor="middle" class="t46">120</text>
<text transform="translate(178.45 1038.14) rotate(84.6)" text-anchor="middle" class="t46">150</text>
<text transform="translate(182.2 1045.74) rotate(270.1)" text-anchor="middle" class="t46">0</text>
<text transform="translate(181.02 1059.53) rotate(279.7)" text-anchor="middle" class="t46">30</text>
<text transform="translate(177.55 1072.93) rotate(289.3)" text-anchor="middle" class="t46">60</text>
<text transform="translate(171.9 1085.57) rotate(298.9)" text-anchor="middle" class="t46">90</text>
<text transform="translate(164.22 1097.08) rotate(308.5)" text-anchor="middle" class="t46">120</text>
<text transform="translate(154.73 1107.15) rotate(318.1)" text-anchor="middle" class="t46">150</text>
<text transform="translate(143.69 1115.5) rotate(327.7)" text-anchor="middle" class="t46">180</text>
<text transform="translate(131.41 1121.89) rotate(337.3)" text-anchor="middle" class="t46">210</text>
<text transform="translate(118.24 1126.15) rotate(346.9)" text-anchor="middle" class="t46">240</text>
<text transform="translate(104.55 1128.15) rotate(356.5)" text-anchor="middle" class="t46">270</text>
<text transform="translate(96.04 1128.23) rotate(362.4)" text-anchor="middle" class="t46">0</text>
<text transform="translate(90.42 1127.8) rotate(366.3)" text-anchor="middle" class="t46">0</text>
<text transform="translate(77.82 1125.41) rotate(375.2)" text-anchor="middle" class="t46">30</text>
<text transform="translate(65.73 1121.09) rotate(384.1)" text-anchor="middle" class="t46">60</text>
<text transform="translate(54.46 1114.96) rotate(393)" text-anchor="middle" class="t46">90</text>
<text transform="translate(44.27 1107.15) rotate(401.9)" text-anchor="middle" class="t46">120</text>
<text transform="translate(35.41 1097.87) rotate(410.8)" text-anchor="middle" class="t46">150</text>
<text transform="translate(30.22 1090.76) rotate(416.9)" text-anchor="middle" class="t46">0</text>
<text transform="translate(23.8 1078.91) rotate(426.25)" text-anchor="middle" class="t46">30</text>
<text transform="translate(19.4 1066.17) rotate(435.6)" text-anchor="middle" class="t46">60</text>
<text transform="translate(17.12 1052.88) rotate(444.95)" text-anchor="middle" class="t46">90</text>
<text transform="translate(20.42 1039.65) rotate(274.3)" text-anchor="middle" class="t46">120</text>
<text transform="translate(22.44 1026.89) rotate(283.65)" text-anchor="middle" class="t46">150</text>
<text transform="translate(26.5 1014.62) rotate(293)" text-anchor="middle" class="t46">180</text>
<text transform="translate(32.51 1003.17) rotate(302.35)" text-anchor="middle" class="t46">210</text>
<text transform="translate(35.75 998.43) rotate(306.5)" text-anchor="middle" class="t46">0</text>
<text transform="translate(44.91 988.08) rotate(316.5)" text-anchor="middle" class="t46">30</text>
<text transform="translate(49.59 983.97) rotate(321)" text-anchor="middle" class="t46">0</text>
<text transform="translate(54.24 980.48) rotate(325.2)" text-anchor="middle" class="t46">0</text>
<text transform="translate(57.24 978.5) rotate(327.8)" text-anchor="middle" class="t46">0</text>
<text transform="translate(59.61 977.06) rotate(329.8)" text-anchor="middle" class="t46">0</text>
<text transform="translate(72.12 971.18) rotate(339.8)" text-anchor="middle" class="t46">30</text>
<path d="M79.94 973.61L79.63 972.45M84.24 972.58L84.1 971.89M88.6 971.8L88.5 971.11M93 971.28L92.89 970.09M97.42 971.03L97.4 970.33M101.84 971.04L101.87 970.34M106.26 971.31L106.37 970.11M110.66 971.84L110.76 971.15M114.25 972.47L114.48 971.3M117.04 973.09L117.32 971.93M121.31 974.26L121.52 973.59M125.5 975.68L125.75 975.02M129.6 977.34L130.09 976.25M133.6 979.25L133.92 978.63M137.47 981.39L137.83 980.79M140.78 983.46L141.45 982.46M144.4 986.02L144.82 985.46M147.85 988.79L148.3 988.26M151.13 991.76L151.96 990.89M154.24 994.91L154.75 994.44M157.15 998.25L157.69 997.8M159.85 1001.75L160.82 1001.05M162.35 1005.41L162.94 1005.03M164.62 1009.21L165.23 1008.86M166.66 1013.13L167.74 1012.61M168.47 1017.17L169.12 1016.91M170.04 1021.31L170.7 1021.08M171.35 1025.54L172.51 1025.22M172.42 1029.84L173.1 1029.69M173.22 1034.19L173.91 1034.08M173.77 1038.58L174.96 1038.47M174.05 1043L174.75 1042.97M174.1 1045.73L175.3 1045.73M173.98 1049.89L174.68 1049.93M173.62 1054.04L174.32 1054.12M173.03 1058.17L174.22 1058.37M172.22 1062.25L172.9 1062.41M171.17 1066.29L171.85 1066.48M169.91 1070.26L171.04 1070.65M168.42 1074.15L169.07 1074.42M166.72 1077.95L167.35 1078.25M164.81 1081.65L165.86 1082.23M162.7 1085.24L163.29 1085.61M160.38 1088.71L160.96 1089.11M157.88 1092.04L158.82 1092.79M155.2 1095.23L155.72 1095.69M152.34 1098.26L152.84 1098.75M149.32 1101.13L150.12 1102.02M146.14 1103.82L146.58 1104.37M142.82 1106.33L143.23 1106.9M139.36 1108.66L140 1109.67M135.78 1110.78L136.12 1111.4M132.09 1112.71L132.39 1113.34M128.29 1114.42L128.75 1115.53M124.4 1115.92L124.64 1116.58M120.44 1117.2L120.63 1117.87M116.41 1118.26L116.68 1119.43M112.33 1119.09L112.45 1119.78M108.2 1119.69L108.29 1120.39M104.05 1120.06L104.13 1121.26M99.89 1120.2L99.89 1120.9M96.38 1120.13L96.33 1121.33M91.31 1119.75L91.18 1120.94M87.49 1119.23L87.37 1119.92M83.69 1118.51L83.54 1119.19M79.94 1117.59L79.63 1118.75M76.24 1116.48L76.02 1117.15M72.6 1115.18L72.35 1115.84M69.04 1113.7L68.55 1114.79M65.55 1112.03L65.24 1112.65M62.16 1110.18L61.81 1110.79M58.87 1108.16L58.22 1109.17M55.69 1105.98L55.28 1106.54M52.62 1103.63L52.18 1104.17M49.68 1101.13L48.88 1102.02M46.87 1098.47L46.38 1098.97M44.21 1095.68L43.69 1096.15M41.69 1092.75L40.76 1093.51M39.33 1089.69L38.76 1090.11M37.01 1086.34L36 1086.99M34.88 1082.88L34.28 1083.23M32.95 1079.31L32.33 1079.63M31.22 1075.64L30.12 1076.13M29.69 1071.89L29.03 1072.13M28.36 1068.05L27.69 1068.26M27.24 1064.15L26.08 1064.45M26.34 1060.2L25.66 1060.33M25.66 1056.2L24.96 1056.3M25.19 1052.17L23.99 1052.27M24.94 1048.12L24.24 1048.14M24.92 1044.06L24.22 1044.04M25.11 1040.01L23.91 1039.92M25.52 1035.97L24.83 1035.88M26.16 1031.96L25.47 1031.83M27.01 1028L25.84 1027.71M28.07 1024.08L27.4 1023.88M29.35 1020.23L28.69 1019.99M30.83 1016.45L29.73 1015.98M32.52 1012.76L31.89 1012.45M34.4 1009.17L33.79 1008.83M36.48 1005.68L35.46 1005.04M38.74 1002.31L38.17 1001.91M39.53 1001.23L38.57 1000.51M42.21 997.81L41.68 997.37M45.09 994.56L44.58 994.09M48.15 991.49L47.32 990.62M51.38 988.59L50.93 988.06M52.55 987.62L51.8 986.69M56 984.99L55.59 984.42M56.92 984.34L56.24 983.36M59.75 982.47L59.11 981.46M61.97 981.13L61.37 980.09M65.79 979.05L65.47 978.43M69.71 977.2L69.43 976.56M73.74 975.59L73.33 974.46M77.86 974.21L77.65 973.54" stroke="#777" stroke-width="0.3" fill="none"/>
<text x="284.4" y="953.1" text-anchor="middle" style="font-size:7.65px">Clonal sharing CD8–IL2</text>
<path d="M286.42 975.72A69.4 69.4 0 0 1 309.7 980.4Q284.6 1045.1 286.42 975.72Z" fill="#d9a6d6" fill-opacity="0.5" stroke="#d9a6d6" stroke-opacity="0.35" stroke-width="0.4"/>
<path d="M316.54 983.49A69.4 69.4 0 0 1 330.95 993.44Q284.6 1045.1 316.54 983.49Z" fill="#cfcfcf" fill-opacity="0.75" stroke="#cfcfcf" stroke-opacity="0.35" stroke-width="0.4"/>
<path d="M332.02 994.43A69.4 69.4 0 0 1 353.86 1040.74Q284.6 1045.1 332.02 994.43Z" fill="#787878" fill-opacity="0.5" stroke="#787878" stroke-opacity="0.35" stroke-width="0.4"/>
<path d="M353.69 1051.63A69.4 69.4 0 0 1 321.79 1103.7Q284.6 1045.1 353.69 1051.63Z" fill="#f9a11b" fill-opacity="0.45" stroke="#f9a11b" stroke-opacity="0.35" stroke-width="0.4"/>
<path d="M320.65 1104.4A69.4 69.4 0 0 1 311.27 1109.17Q284.6 1045.1 320.65 1104.4Z" fill="#c9842b" fill-opacity="0.6" stroke="#c9842b" stroke-opacity="0.35" stroke-width="0.4"/>
<path d="M299.62 1112.85A69.4 69.4 0 0 1 254.5 1107.63Q284.6 1045.1 299.62 1112.85Z" fill="#f4776e" fill-opacity="0.5" stroke="#f4776e" stroke-opacity="0.35" stroke-width="0.4"/>
<path d="M253.2 1106.99A69.4 69.4 0 0 1 217.01 1060.83Q284.6 1045.1 253.2 1106.99Z" fill="#e41f26" fill-opacity="0.5" stroke="#e41f26" stroke-opacity="0.35" stroke-width="0.4"/>
<path d="M216.72 1059.53A69.4 69.4 0 0 1 216.09 1034Q284.6 1045.1 216.72 1059.53Z" fill="#8a1c1c" fill-opacity="0.55" stroke="#8a1c1c" stroke-opacity="0.35" stroke-width="0.4"/>
<path d="M218.52 1023.88A69.4 69.4 0 0 1 227.47 1005.69Q284.6 1045.1 218.52 1023.88Z" fill="#5cb848" fill-opacity="0.5" stroke="#5cb848" stroke-opacity="0.35" stroke-width="0.4"/>
<path d="M237 994.59A69.4 69.4 0 0 1 254.39 982.62Q284.6 1045.1 237 994.59Z" fill="#1b5e2b" fill-opacity="0.5" stroke="#1b5e2b" stroke-opacity="0.35" stroke-width="0.4"/>
<path d="M257.04 981.41A69.4 69.4 0 0 1 262.12 979.44Q284.6 1045.1 257.04 981.41Z" fill="#3cb54a" fill-opacity="0.5" stroke="#3cb54a" stroke-opacity="0.35" stroke-width="0.4"/>
<path d="M266.05 978.22A69.4 69.4 0 0 1 279.03 975.92Q284.6 1045.1 266.05 978.22Z" fill="#7b3fa8" fill-opacity="0.5" stroke="#7b3fa8" stroke-opacity="0.35" stroke-width="0.4"/>
<path d="M227.75 1005.29A69.4 69.4 0 0 1 230.29 1001.9Q284.6 1045.1 301.98 1112.29A69.4 69.4 0 0 1 299.86 1112.8Q284.6 1045.1 227.75 1005.29Z" fill="#e41f26" fill-opacity="0.42" stroke="#e41f26" stroke-opacity="0.54" stroke-width="0.3"/>
<path d="M230.51 1001.61A69.4 69.4 0 0 1 233.03 998.66Q284.6 1045.1 303.73 1111.81A69.4 69.4 0 0 1 302.09 1112.26Q284.6 1045.1 230.51 1001.61Z" fill="#e41f26" fill-opacity="0.3" stroke="#e41f26" stroke-opacity="0.42" stroke-width="0.3"/>
<path d="M233.27 998.39A69.4 69.4 0 0 1 236.13 995.43Q284.6 1045.1 305.35 1111.32A69.4 69.4 0 0 1 303.85 1111.78Q284.6 1045.1 233.27 998.39Z" fill="#e41f26" fill-opacity="0.25" stroke="#e41f26" stroke-opacity="0.37" stroke-width="0.3"/>
<path d="M216.15 1033.65A69.4 69.4 0 0 1 216.98 1029.49Q284.6 1045.1 306.85 1110.84A69.4 69.4 0 0 1 305.47 1111.29Q284.6 1045.1 216.15 1033.65Z" fill="#e41f26" fill-opacity="0.32" stroke="#e41f26" stroke-opacity="0.44" stroke-width="0.3"/>
<path d="M217.06 1029.13A69.4 69.4 0 0 1 218.09 1025.27Q284.6 1045.1 308.11 1110.4A69.4 69.4 0 0 1 306.97 1110.8Q284.6 1045.1 217.06 1029.13Z" fill="#e41f26" fill-opacity="0.25" stroke="#e41f26" stroke-opacity="0.37" stroke-width="0.3"/>
<path d="M262.35 979.36A69.4 69.4 0 0 1 264.89 978.56Q284.6 1045.1 309.24 1109.98A69.4 69.4 0 0 1 308.22 1110.36Q284.6 1045.1 262.35 979.36Z" fill="#e41f26" fill-opacity="0.35" stroke="#e41f26" stroke-opacity="0.47" stroke-width="0.3"/>
<path d="M279.28 975.9A69.4 69.4 0 0 1 280.24 975.84Q284.6 1045.1 271.95 1113.34A69.4 69.4 0 0 1 271 1113.15Q284.6 1045.1 279.28 975.9Z" fill="#e41f26" fill-opacity="0.17" stroke="#e41f26" stroke-opacity="0.29" stroke-width="0.3"/>
<path d="M280.48 975.82A69.4 69.4 0 0 1 281.57 975.77Q284.6 1045.1 311.16 1109.22A69.4 69.4 0 0 1 310.37 1109.54Q284.6 1045.1 280.48 975.82Z" fill="#c9842b" fill-opacity="0.25" stroke="#c9842b" stroke-opacity="0.37" stroke-width="0.3"/>
<path d="M284.6 975.7A69.4 69.4 0 0 1 285.69 975.71Q284.6 1045.1 274.94 1113.82A69.4 69.4 0 0 1 273.86 1113.66Q284.6 1045.1 284.6 975.7Z" fill="#e41f26" fill-opacity="0.17" stroke="#e41f26" stroke-opacity="0.29" stroke-width="0.3"/>
<path d="M309.92 980.48A69.4 69.4 0 0 1 310.82 980.84Q284.6 1045.1 277.35 1114.12A69.4 69.4 0 0 1 276.38 1114.01Q284.6 1045.1 309.92 980.48Z" fill="#e41f26" fill-opacity="0.17" stroke="#e41f26" stroke-opacity="0.29" stroke-width="0.3"/>
<path d="M311.05 980.94A69.4 69.4 0 0 1 312.05 981.36Q284.6 1045.1 279.76 1114.33A69.4 69.4 0 0 1 278.79 1114.26Q284.6 1045.1 311.05 980.94Z" fill="#f4776e" fill-opacity="0.22" stroke="#f4776e" stroke-opacity="0.34" stroke-width="0.3"/>
<path d="M282.42 975.73A69.4 69.4 0 0 1 283.51 975.71Q284.6 1045.1 282.18 1114.46A69.4 69.4 0 0 1 281.21 1114.42Q284.6 1045.1 282.42 975.73Z" fill="#f4776e" fill-opacity="0.22" stroke="#f4776e" stroke-opacity="0.34" stroke-width="0.3"/>
<path d="M354 1045.71A69.4 69.4 0 0 1 353.98 1046.92Q284.6 1045.1 254.61 982.51A69.4 69.4 0 0 1 255.71 982Q284.6 1045.1 354 1045.71Z" fill="#f9a11b" fill-opacity="0.25" stroke="#f9a11b" stroke-opacity="0.37" stroke-width="0.3"/>
<path d="M353.97 1047.16A69.4 69.4 0 0 1 353.93 1048.25Q284.6 1045.1 255.49 1108.1A69.4 69.4 0 0 1 254.61 1107.69Q284.6 1045.1 353.97 1047.16Z" fill="#f9a11b" fill-opacity="0.3" stroke="#f9a11b" stroke-opacity="0.42" stroke-width="0.3"/>
<path d="M353.92 1048.49A69.4 69.4 0 0 1 353.86 1049.58Q284.6 1045.1 283.63 975.71A69.4 69.4 0 0 1 284.6 975.7Q284.6 1045.1 353.92 1048.49Z" fill="#f9a11b" fill-opacity="0.25" stroke="#f9a11b" stroke-opacity="0.37" stroke-width="0.3"/>
<path d="M353.84 1049.82A69.4 69.4 0 0 1 353.77 1050.79Q284.6 1045.1 315.57 982.99A69.4 69.4 0 0 1 316.43 983.43Q284.6 1045.1 353.84 1049.82Z" fill="#f9a11b" fill-opacity="0.22" stroke="#f9a11b" stroke-opacity="0.34" stroke-width="0.3"/>
<path d="M353.76 1050.91A69.4 69.4 0 0 1 353.7 1051.51Q284.6 1045.1 264.31 978.73A69.4 69.4 0 0 1 264.89 978.56Q284.6 1045.1 353.76 1050.91Z" fill="#f9a11b" fill-opacity="0.22" stroke="#f9a11b" stroke-opacity="0.34" stroke-width="0.3"/>
<path d="M353.88 1040.98A69.4 69.4 0 0 1 353.94 1042.19Q284.6 1045.1 217.32 1062.12A69.4 69.4 0 0 1 217.06 1061.07Q284.6 1045.1 353.88 1040.98Z" fill="#e41f26" fill-opacity="0.22" stroke="#e41f26" stroke-opacity="0.34" stroke-width="0.3"/>
<path d="M353.95 1042.44A69.4 69.4 0 0 1 353.98 1043.65Q284.6 1045.1 300.21 1112.72A69.4 69.4 0 0 1 299.74 1112.83Q284.6 1045.1 353.95 1042.44Z" fill="#f4776e" fill-opacity="0.22" stroke="#f4776e" stroke-opacity="0.34" stroke-width="0.3"/>
<path d="M312.72 981.65A69.4 69.4 0 0 1 314.15 982.31Q284.6 1045.1 285.69 975.71A69.4 69.4 0 0 1 286.42 975.72Q284.6 1045.1 312.72 981.65Z" fill="#c050a8" fill-opacity="0.22" stroke="#c050a8" stroke-opacity="0.34" stroke-width="0.3"/>
<path d="M282.1 969.84A75.3 75.3 0 0 1 314.38 975.94L312.49 980.35A70.5 70.5 0 0 0 282.26 974.64Z" fill="#d9a6d6"/>
<path d="M314.99 976.2A75.3 75.3 0 0 1 316.9 977.08L314.84 981.41A70.5 70.5 0 0 0 313.05 980.6Z" fill="#c050a8"/>
<path d="M318.08 977.65A75.3 75.3 0 0 1 334.89 989.05L331.68 992.63A70.5 70.5 0 0 0 315.95 981.95Z" fill="#cfcfcf"/>
<path d="M336.05 990.12A75.3 75.3 0 0 1 359.88 1043.52L355.08 1043.62A70.5 70.5 0 0 0 332.77 993.62Z" fill="#787878"/>
<path d="M359.9 1045.63A75.3 75.3 0 0 1 324.95 1108.68L322.38 1104.63A70.5 70.5 0 0 0 355.1 1045.59Z" fill="#f9a11b"/>
<path d="M323.72 1109.44A75.3 75.3 0 0 1 312.56 1115.01L310.78 1110.56A70.5 70.5 0 0 0 321.23 1105.34Z" fill="#c9842b"/>
<path d="M311.59 1115.4A75.3 75.3 0 0 1 251.95 1112.95L254.03 1108.63A70.5 70.5 0 0 0 309.86 1110.92Z" fill="#f4776e"/>
<path d="M250.53 1112.25A75.3 75.3 0 0 1 211.26 1062.17L215.93 1061.08A70.5 70.5 0 0 0 252.7 1107.97Z" fill="#e41f26"/>
<path d="M210.95 1060.76A75.3 75.3 0 0 1 212.44 1023.59L217.04 1024.96A70.5 70.5 0 0 0 215.64 1059.76Z" fill="#8a1c1c"/>
<path d="M212.9 1022.08A75.3 75.3 0 0 1 232.01 991.21L235.36 994.64A70.5 70.5 0 0 0 217.47 1023.55Z" fill="#5cb848"/>
<path d="M232.96 990.3A75.3 75.3 0 0 1 253.49 976.53L255.48 980.9A70.5 70.5 0 0 0 236.25 993.79Z" fill="#1b5e2b"/>
<path d="M254.69 975.99A75.3 75.3 0 0 1 263.21 972.9L264.58 977.5A70.5 70.5 0 0 0 256.6 980.4Z" fill="#3cb54a"/>
<path d="M264.48 972.54A75.3 75.3 0 0 1 281.32 969.87L281.52 974.67A70.5 70.5 0 0 0 265.76 977.16Z" fill="#7b3fa8"/>
<text transform="translate(281.94 964.84) rotate(358.1)" text-anchor="middle" class="t46">0</text>
<text transform="translate(295.91 965.6) rotate(8.1)" text-anchor="middle" class="t46">30</text>
<text transform="translate(309.55 968.77) rotate(18.1)" text-anchor="middle" class="t46">60</text>
<text transform="translate(317 971.63) rotate(23.8)" text-anchor="middle" class="t46">0</text>
<text transform="translate(320.3 973.17) rotate(26.4)" text-anchor="middle" class="t46">0</text>
<text transform="translate(332.25 980.47) rotate(36.4)" text-anchor="middle" class="t46">30</text>
<text transform="translate(339.47 986.47) rotate(43.1)" text-anchor="middle" class="t46">0</text>
<text transform="translate(348.81 996.89) rotate(53.1)" text-anchor="middle" class="t46">30</text>
<text transform="translate(356.21 1008.77) rotate(63.1)" text-anchor="middle" class="t46">60</text>
<text transform="translate(361.43 1021.76) rotate(73.1)" text-anchor="middle" class="t46">90</text>
<text transform="translate(364.32 1035.45) rotate(83.1)" text-anchor="middle" class="t46">120</text>
<text transform="translate(368.3 1045.68) rotate(270.4)" text-anchor="middle" class="t46">0</text>
<text transform="translate(366.98 1059.92) rotate(280.2)" text-anchor="middle" class="t46">30</text>
<text transform="translate(363.25 1073.73) rotate(290)" text-anchor="middle" class="t46">60</text>
<text transform="translate(357.23 1086.7) rotate(299.8)" text-anchor="middle" class="t46">90</text>
<text transform="translate(349.09 1098.45) rotate(309.6)" text-anchor="middle" class="t46">120</text>
<text transform="translate(339.07 1108.65) rotate(319.4)" text-anchor="middle" class="t46">150</text>
<text transform="translate(328.08 1116.62) rotate(328.7)" text-anchor="middle" class="t46">0</text>
<text transform="translate(314.6 1123.24) rotate(339)" text-anchor="middle" class="t46">0</text>
<text transform="translate(300.57 1127.26) rotate(349)" text-anchor="middle" class="t46">30</text>
<text transform="translate(286.06 1128.79) rotate(359)" text-anchor="middle" class="t46">60</text>
<text transform="translate(271.51 1127.77) rotate(369)" text-anchor="middle" class="t46">90</text>
<text transform="translate(257.35 1124.24) rotate(379)" text-anchor="middle" class="t46">120</text>
<text transform="translate(246.73 1119.74) rotate(386.9)" text-anchor="middle" class="t46">0</text>
<text transform="translate(234.34 1112.03) rotate(396.9)" text-anchor="middle" class="t46">30</text>
<text transform="translate(223.49 1102.29) rotate(406.9)" text-anchor="middle" class="t46">60</text>
<text transform="translate(214.48 1090.81) rotate(416.9)" text-anchor="middle" class="t46">90</text>
<text transform="translate(207.61 1077.94) rotate(426.9)" text-anchor="middle" class="t46">120</text>
<text transform="translate(203.08 1064.07) rotate(436.9)" text-anchor="middle" class="t46">150</text>
<text transform="translate(202.73 1062.5) rotate(438)" text-anchor="middle" class="t46">0</text>
<text transform="translate(200.95 1048.02) rotate(448)" text-anchor="middle" class="t46">30</text>
<text transform="translate(205.08 1033.92) rotate(278)" text-anchor="middle" class="t46">60</text>
<text transform="translate(208.14 1020.55) rotate(287.8)" text-anchor="middle" class="t46">0</text>
<text transform="translate(213.57 1007.65) rotate(297.8)" text-anchor="middle" class="t46">30</text>
<text transform="translate(221.15 995.88) rotate(307.8)" text-anchor="middle" class="t46">60</text>
<text transform="translate(229.53 986.66) rotate(316.7)" text-anchor="middle" class="t46">0</text>
<text transform="translate(240.51 977.98) rotate(326.7)" text-anchor="middle" class="t46">30</text>
<text transform="translate(252.71 971.4) rotate(336.6)" text-anchor="middle" class="t46">0</text>
<text transform="translate(263.14 967.72) rotate(344.5)" text-anchor="middle" class="t46">0</text>
<text transform="translate(276.9 965.17) rotate(354.5)" text-anchor="middle" class="t46">30</text>
<path d="M282.09 969.54L282.05 968.34M286.49 969.52L286.51 968.82M290.88 969.76L290.94 969.06M295.25 970.25L295.42 969.07M299.59 971L299.72 970.31M303.87 972L304.05 971.32M308.09 973.24L308.46 972.1M312.23 974.73L312.48 974.08M315.11 975.93L315.59 974.83M318.21 977.38L318.75 976.31M322.09 979.45L322.44 978.85M325.85 981.74L326.23 981.16M329.46 984.25L330.17 983.28M332.92 986.96L333.37 986.42M336.26 989.9L337.08 989.02M339.38 993L339.88 992.51M342.31 996.27L342.85 995.82M345.06 999.71L346.02 998.99M347.59 1003.3L348.18 1002.91M349.92 1007.03L350.52 1006.68M352.02 1010.9L353.09 1010.35M353.89 1014.87L354.54 1014.59M355.53 1018.95L356.19 1018.71M356.94 1023.12L358.08 1022.77M358.09 1027.37L358.77 1027.2M359 1031.67L359.69 1031.54M359.65 1036.02L360.84 1035.87M360.05 1040.4L360.75 1040.35M360.2 1045.63L361.4 1045.64M360.05 1049.93L360.74 1049.98M359.65 1054.23L360.34 1054.31M359.01 1058.49L360.19 1058.7M358.12 1062.71L358.8 1062.87M357 1066.87L357.67 1067.07M355.64 1070.96L356.77 1071.37M354.05 1074.96L354.7 1075.24M352.24 1078.87L352.86 1079.18M350.2 1082.67L351.24 1083.27M347.96 1086.35L348.54 1086.73M345.5 1089.89L346.07 1090.31M342.85 1093.29L343.78 1094.05M340.01 1096.53L340.52 1097.01M336.99 1099.6L337.47 1100.11M333.8 1102.5L334.58 1103.41M330.45 1105.21L330.87 1105.77M326.95 1107.73L327.34 1108.31M323.88 1109.7L324.5 1110.72M320.05 1111.87L320.38 1112.49M316.11 1113.82L316.4 1114.46M311.69 1115.68L312.12 1116.8M307.54 1117.13L307.76 1117.8M303.32 1118.35L303.49 1119.02M299.03 1119.31L299.25 1120.49M294.69 1120.02L294.78 1120.72M290.31 1120.48L290.37 1121.18M285.92 1120.69L285.94 1121.89M281.52 1120.64L281.49 1121.34M277.14 1120.33L277.07 1121.03M272.77 1119.77L272.59 1120.95M268.45 1118.96L268.3 1119.64M264.18 1117.89L264 1118.57M259.99 1116.58L259.6 1117.72M255.87 1115.03L255.61 1115.68M251.86 1113.24L251.55 1113.87M250.4 1112.52L249.85 1113.59M246.53 1110.42L246.18 1111.02M242.8 1108.09L242.41 1108.68M239.21 1105.56L238.49 1106.52M235.77 1102.81L235.32 1103.35M232.5 1099.88L232.01 1100.38M229.4 1096.76L228.52 1097.58M226.49 1093.46L225.95 1093.91M223.78 1090L223.21 1090.41M221.27 1086.39L220.26 1087.04M218.98 1082.63L218.37 1082.98M216.9 1078.75L216.28 1079.07M215.06 1074.76L213.96 1075.23M213.45 1070.67L212.8 1070.9M212.09 1066.49L211.42 1066.69M210.97 1062.23L209.8 1062.51M210.65 1060.82L209.48 1061.07M209.86 1056.49L209.17 1056.6M209.33 1052.13L208.63 1052.19M209.05 1047.74L207.85 1047.78M209.02 1043.34L208.32 1043.32M209.25 1038.95L208.55 1038.89M209.74 1034.58L208.55 1034.41M210.47 1030.24L209.79 1030.11M211.46 1025.96L210.79 1025.78M212.62 1021.99L211.48 1021.62M214.08 1017.84L213.43 1017.59M215.79 1013.79L215.15 1013.5M217.73 1009.84L216.66 1009.28M219.89 1006.01L219.29 1005.65M222.27 1002.32L221.69 1001.92M224.86 998.76L223.92 998.03M227.66 995.37L227.13 994.91M230.65 992.14L230.15 991.65M232.75 990.08L231.93 989.21M236.04 987.16L235.59 986.62M239.49 984.43L239.07 983.87M243.09 981.91L242.44 980.91M246.84 979.61L246.49 979M250.71 977.52L250.4 976.9M254.58 975.72L254.1 974.62M258.66 974.09L258.42 973.43M262.83 972.7L262.63 972.03M264.4 972.25L264.08 971.09M268.67 971.2L268.52 970.51M272.99 970.4L272.88 969.7M277.35 969.85L277.24 968.65" stroke="#777" stroke-width="0.3" fill="none"/>
<rect x="390.1" y="984.7" width="6" height="6" fill="#f9a11b" stroke="#8a8a8a" stroke-width="0.4"/>
<text x="400.2" y="991" class="t75">Mem_c1_IL7R</text>
<rect x="390.1" y="993.82" width="6" height="6" fill="#c9842b" stroke="#8a8a8a" stroke-width="0.4"/>
<text x="400.2" y="1000.12" class="t75">Mem_c2_CAPG</text>
<rect x="390.1" y="1002.94" width="6" height="6" fill="#f4776e" stroke="#8a8a8a" stroke-width="0.4"/>
<text x="400.2" y="1009.24" class="t75">Trans_ KLRG1</text>
<rect x="390.1" y="1012.06" width="6" height="6" fill="#e41f26" stroke="#8a8a8a" stroke-width="0.4"/>
<text x="400.2" y="1018.36" class="t75">Dys_c1 _TOX</text>
<rect x="390.1" y="1021.18" width="6" height="6" fill="#8a1c1c" stroke="#8a8a8a" stroke-width="0.4"/>
<text x="400.2" y="1027.48" class="t75">Dys_c2_HLA-DRB1</text>
<rect x="390.1" y="1030.3" width="6" height="6" fill="#5cb848" stroke="#8a8a8a" stroke-width="0.4"/>
<text x="400.2" y="1036.6" class="t75">Cycl_c1</text>
<rect x="390.1" y="1039.42" width="6" height="6" fill="#1b5e2b" stroke="#8a8a8a" stroke-width="0.4"/>
<text x="400.2" y="1045.72" class="t75">Cycl_c2</text>
<rect x="390.1" y="1048.54" width="6" height="6" fill="#3cb54a" stroke="#8a8a8a" stroke-width="0.4"/>
<text x="400.2" y="1054.84" class="t75">Cycl_c3</text>
<rect x="390.1" y="1057.66" width="6" height="6" fill="#7b3fa8" stroke="#8a8a8a" stroke-width="0.4"/>
<text x="400.2" y="1063.96" class="t75">Eff_FCGR3A</text>
<rect x="390.1" y="1066.78" width="6" height="6" fill="#d9a6d6" stroke="#8a8a8a" stroke-width="0.4"/>
<text x="400.2" y="1073.08" class="t75">NK-like_KLRC1</text>
<rect x="390.1" y="1075.9" width="6" height="6" fill="#c050a8" stroke="#8a8a8a" stroke-width="0.4"/>
<text x="400.2" y="1082.2" class="t75">IFN_ISG15</text>
<rect x="390.1" y="1085.02" width="6" height="6" fill="#b8b8b8" stroke="#8a8a8a" stroke-width="0.4"/>
<text x="400.2" y="1091.32" class="t75">Naive_c1_BNIP</text>
<rect x="390.1" y="1094.14" width="6" height="6" fill="#787878" stroke="#8a8a8a" stroke-width="0.4"/>
<text x="400.2" y="1100.44" class="t75">Naive_c2_RP</text>
<text x="8.7" y="1145" class="pl">G</text>
<g fill="none" stroke-linecap="round" stroke-width="1.6"><path d="M54.87 1245.16h0M78.61 1234.41h0M94.33 1219.24h0M73.79 1238.48h0M73.18 1228.7h0M91.9 1234.4h0M86.71 1237.07h0M95.34 1221.12h0M107.97 1237.12h0M85.1 1240.38h0M82.89 1233.83h0M104.36 1217.96h0M113.58 1211.41h0M71.73 1241.16h0M105.9 1200.77h0M95.37 1215.88h0M73.63 1244.43h0M86.74 1223.75h0M94.19 1213.9h0M80.88 1231.67h0M110.1 1206.73h0M81.66 1219.81h0M73.51 1229.2h0M76.56 1242.11h0M102.93 1236.87h0M96.13 1224.28h0M79.65 1234.76h0M78.44 1220.45h0M85.28 1245.73h0M73.28 1239.35h0M79.22 1219.16h0M68.67 1242.62h0M76.88 1222.9h0M70.53 1235.92h0M103.12 1241.04h0" stroke="#c4c4c4"/><path d="M62.32 1246.06h0M93.73 1233.09h0M105.24 1200.64h0M96.61 1224.02h0M83.84 1236.98h0M121.64 1210.84h0M83.98 1230.96h0M81 1230.57h0M102.93 1208.33h0M73.01 1245.81h0M105.97 1236.29h0M105.11 1211.23h0M124.97 1173.67h0M92.65 1226.11h0M85.1 1233.78h0M76.61 1236.92h0M133.11 1167.2h0M53.82 1230.03h0M77.72 1236.4h0M94.24 1221.1h0M105.3 1193.61h0M90.18 1248.17h0M108.09 1221.05h0M93.27 1220.89h0M90.74 1240.68h0M94.12 1215.93h0M89.95 1226.73h0M86.47 1226.01h0M73.61 1235.53h0M83.35 1240.1h0M84.19 1235.85h0M64.95 1242.85h0M121.07 1226.93h0M111.26 1197.32h0M71.31 1238.52h0M93.16 1227.16h0M107.07 1232.53h0M83.34 1232.45h0M93.54 1233.63h0M73.41 1247.2h0M107.99 1223.76h0M87.1 1229.38h0M69.75 1252.96h0M97.72 1234h0M76.94 1234.45h0M82.83 1233.71h0M82.84 1228.56h0M97.4 1214.62h0M103.69 1223.46h0M75.3 1250.26h0M68.94 1246.86h0M87.56 1214.17h0M100.64 1239.1h0M116.03 1213.54h0M72.18 1233.59h0M97.76 1234.52h0M97.2 1217.81h0M79.63 1231.46h0M91.04 1216.83h0M96.14 1223.5h0M69.21 1238.32h0M91.69 1224.94h0M100.1 1236.54h0M85.09 1239.88h0M124.26 1202.61h0M68.55 1241.39h0M93 1236.2h0M49.61 1244.94h0M56.94 1238.37h0M84.23 1228.58h0M77.86 1226.98h0M81.29 1233.6h0M135.62 1197.28h0M92.3 1221.9h0M73.26 1244.9h0M79.27 1231.7h0M67.64 1238.17h0M72.5 1226.6h0M74.46 1230.98h0M74.7 1228.71h0M86.85 1227.2h0M108.57 1213.89h0M133.15 1198.97h0M104.16 1208.87h0M73.67 1239.02h0M78.39 1231.62h0M79.01 1228.92h0M67.54 1238.34h0M117.2 1182.33h0M124.09 1204.49h0M71.44 1227.06h0M97.47 1233.22h0M66.43 1238.45h0M98.6 1222.23h0M82.47 1225.68h0M111.62 1207.68h0M126.93 1201.21h0M105.14 1208.88h0M84.54 1224.81h0M110.02 1219.21h0M88.06 1232.91h0M79.16 1235.7h0M113.53 1186.38h0M77.46 1235.51h0M65.49 1232.78h0M74.81 1221.32h0M121.11 1205.78h0M78.3 1244h0M121.63 1198.44h0M76.27 1234.74h0M120.28 1218.61h0M77.92 1240.22h0M66.6 1240.47h0M93.61 1227.28h0M103.19 1229.39h0M142.19 1179.24h0M89.77 1210.2h0M95.05 1218.08h0M79.12 1248.68h0M117.18 1208.07h0M112.53 1208h0M96.36 1208.66h0M84.93 1234.51h0M84.18 1239.82h0M80.88 1231.82h0M71.02 1230.26h0M72.22 1239.87h0M127.67 1203.55h0M95.6 1208.41h0M80.94 1237.42h0M86.61 1230.33h0M82.13 1225.63h0M90.12 1228.96h0M85.31 1231.68h0M98.95 1225.81h0M106.14 1194.69h0M102.63 1209.07h0M78.9 1215.19h0M80.74 1234.49h0M91.37 1215.47h0M70.66 1219.24h0M85.46 1206.04h0M100.61 1210.76h0M88.11 1211.7h0M74.04 1242.86h0M94.61 1222.34h0M103.74 1196.23h0M98.57 1221.79h0M143.4 1191.99h0M69.2 1235.15h0M78.06 1246.12h0M86.9 1219.33h0M101.36 1227.59h0M119 1189.61h0M99.6 1210.32h0M55.43 1236.79h0M117.93 1198.77h0M95.43 1234.35h0M76.5 1238.01h0M79.86 1217.61h0M81.99 1242.36h0M79.49 1228.8h0M93.87 1224.42h0M74.74 1222.78h0M80.96 1236.97h0M74.69 1234.72h0M65.16 1237.18h0M122.41 1235.85h0M135.59 1189.57h0M85.5 1245.52h0M82.94 1237.95h0M106 1201.21h0M79.83 1235.26h0M66.83 1238.33h0M89.16 1222.37h0M74.12 1249.23h0M86.33 1243.45h0M131.54 1182.7h0M108.28 1209.79h0M73.4 1233.91h0M98.04 1209.09h0M91.39 1199.23h0M104.63 1183.58h0M78.42 1232h0M92.74 1226.88h0M72.6 1235.84h0M74.74 1241.6h0M91.91 1227.25h0M78.35 1240.47h0M89.44 1227.72h0M88.54 1232.35h0" stroke="#1a1a78"/><path d="M126.74 1185.49h0M97.72 1207.99h0M140.82 1202.68h0M103.49 1208.84h0M95.08 1206.21h0M155.91 1193.3h0M150.46 1189.57h0M106.68 1206.68h0M100.67 1221.46h0M125.4 1190.23h0M121.55 1201.84h0M125.92 1193.48h0M124.98 1190.82h0M145.89 1186.31h0M105.78 1216.73h0M138.45 1195.13h0M115.16 1216.07h0" stroke="#7a4a3a"/><path d="M109.8 1223.89h0M111.15 1214.81h0M141.98 1187.83h0M139.69 1170.67h0M99.09 1219.42h0M137.39 1193.9h0M152.64 1200.1h0M115.23 1191.18h0M115.68 1199.61h0M125.6 1200.98h0M130.41 1197.41h0" stroke="#f7941d"/><path d="M145.14 1203.77h0M117.39 1205.29h0M110.49 1212.51h0M105.6 1207.43h0M147.16 1188.95h0M104.62 1208.01h0M120.57 1216.54h0M95.4 1203.81h0M95.35 1207.64h0M120.2 1212.1h0M128.06 1181.91h0M102.69 1215.46h0M102.24 1200.1h0M107.82 1212.15h0M102.49 1222.13h0M134.67 1201.3h0M139.82 1188.05h0M134.79 1204.6h0M120.38 1171.06h0M74.04 1235.26h0M120.9 1202.24h0M120.22 1199h0M139.39 1181.15h0M116.12 1206.55h0M115.73 1212.05h0" stroke="#fcc419"/><path d="M128.6 1192.29h0M115.98 1207.04h0M97.52 1224.88h0M109.41 1216.75h0M107.61 1224.08h0M119.36 1186.71h0M112.24 1204.12h0M126.54 1179.66h0M127.32 1207.4h0M142.23 1184.67h0M132.79 1180.18h0M131.04 1172.98h0M134.96 1176.86h0M105.56 1217.61h0M106.42 1205.2h0M139.65 1203.7h0M105.91 1217.6h0M106.66 1214.42h0M119.27 1209.95h0M95.9 1195.71h0M106.37 1181.87h0M101.2 1218.49h0M99.7 1213.21h0M131.03 1182.19h0M103.48 1206.58h0M93.52 1198.08h0M91.37 1208.37h0M118.42 1205.58h0M111.82 1194.54h0M77.44 1210.78h0M106.42 1195.17h0M122.16 1196.2h0M97.64 1220.7h0M99.34 1225.06h0M102.15 1193.75h0M81.37 1213.89h0M102.29 1206.33h0M110.72 1218.48h0M141.36 1173.92h0M129.16 1193.81h0M111.65 1201.75h0M121.47 1194.92h0M141.56 1187.48h0M111.81 1195.32h0" stroke="#f2e21c"/><path d="M78.51 1225.16h0M91.99 1224.73h0M98.05 1209.41h0M75.54 1246.86h0M84.4 1233.52h0M61.51 1236.57h0M82.7 1228.49h0M111.26 1218.28h0M95.3 1224.72h0M104.49 1215.33h0M114.11 1197.58h0M89.49 1215.3h0M71.17 1240.76h0M101.24 1220.82h0M79.64 1237.6h0M70.07 1230.96h0M82.32 1237.8h0M49.76 1235.97h0M89.12 1208.16h0M81.91 1208.4h0M62.23 1237.8h0M78.49 1231.37h0M98.56 1217.11h0M90.77 1220.16h0M84 1226.35h0M80.32 1229.21h0M110.5 1197.46h0M86.94 1223.01h0M82.65 1219.37h0M92.79 1212.81h0M99.59 1213.47h0M78.91 1229.03h0M79.05 1219.83h0M92.4 1228.17h0M119.34 1214.67h0M66.5 1241.7h0M70.95 1233.31h0M81.94 1233.89h0M125.1 1197.18h0M88.16 1237.92h0M114.25 1206.18h0M65.99 1248.81h0M85.63 1228.47h0M79.52 1237.53h0M100.78 1228.65h0M84.85 1220.46h0M89.12 1221.72h0M96.58 1225.4h0" stroke="#c4c4c4"/><path d="M96.57 1214.07h0M98.21 1232.82h0M84.07 1223.12h0M85.36 1225.08h0M121.72 1200.86h0M142.07 1199.97h0M112.94 1216.56h0M69.62 1243.19h0M86.25 1229.44h0M116.06 1180.82h0M83.33 1227.23h0M98.24 1221.84h0M117.85 1211.99h0M144.66 1198.72h0M70.69 1241.04h0M114.29 1222.6h0M71.94 1241.13h0M99.59 1215.9h0M56.13 1225.09h0M57.22 1224.2h0M70.76 1249.05h0M79.76 1228.66h0M77.26 1251.8h0M92.67 1222.34h0M90.1 1218.8h0M95.7 1215.39h0M72.49 1229.62h0M96.27 1224.41h0M69.64 1241.45h0M73.73 1239.01h0M141.89 1211.03h0M81.84 1232.81h0M92.28 1220.79h0M80.29 1230.38h0M113.13 1201.17h0M100.21 1227.03h0M85.9 1228.57h0M73.25 1240.74h0M106 1211.35h0M119.02 1214.63h0M88.31 1242.16h0M87.56 1234.8h0M84.56 1242.85h0M75.64 1220.55h0M71.38 1236.54h0M63.71 1229.19h0M129.95 1211.6h0M83.09 1241.29h0M111.8 1215.68h0M90.9 1220.18h0M103.51 1223.73h0M114.49 1213.53h0M109.15 1215.09h0M92.21 1220.63h0M87.18 1230.26h0M86 1231.98h0M101.94 1214.4h0M124.78 1192.69h0M105.46 1204.12h0M100.9 1213.52h0M99.35 1224.14h0M125.17 1204.96h0M77.69 1245.71h0M82.74 1225.83h0M78.53 1220.76h0M142.25 1179.96h0M96 1225.1h0M104.75 1212.48h0M125.72 1175.07h0M119.42 1192.74h0M72.96 1231.65h0M126.38 1215.14h0M81.98 1234.88h0M72.25 1233.99h0M82.87 1214.79h0M99.89 1206.06h0M81.82 1237.8h0M75.04 1246.05h0M80.47 1227.16h0M65.67 1251h0M99.57 1213.81h0M100.81 1214.48h0M74.44 1225.65h0M57.89 1239.03h0M88.63 1232.28h0M102.97 1213.49h0M111.34 1212.32h0M84.53 1220.01h0M88.61 1231.09h0M104.47 1216.16h0M131.2 1186.68h0M103.7 1225.17h0M66.32 1241.37h0M96.95 1237.86h0M131.89 1183.05h0M119.85 1201.58h0M89.95 1222.37h0M97.7 1212.51h0M95.48 1235.08h0M84.68 1236.31h0M62.37 1236.5h0M115.97 1187.14h0M134.8 1205.22h0M93.13 1211.46h0M93.72 1235.42h0M74.32 1239.31h0M82.21 1215.11h0M114.45 1206.07h0M86.33 1232.1h0M82.97 1237.39h0M116.66 1187.83h0M74.16 1240.52h0M107.27 1208.94h0M74.75 1223.99h0M80.57 1231.67h0M93.73 1232.18h0M94.98 1221.03h0M74.74 1230.59h0M77.7 1226.32h0M114.38 1209.15h0M67.98 1243.78h0M98.47 1231.67h0M83.63 1237.68h0M77.71 1240.98h0M86.25 1228.34h0M101.03 1223.29h0M120.48 1208.61h0M93.32 1221.45h0M80.57 1228.18h0M82.91 1217.22h0M70.02 1229.19h0M85.36 1220.68h0M81.95 1235.54h0M112.21 1216.7h0M68.46 1238.26h0M71.98 1246.94h0M99.41 1199.6h0M99.82 1217.81h0M97.63 1226.55h0M111.97 1202.94h0M92.32 1213.76h0M78.03 1221.25h0M88.36 1233.05h0M64.68 1239.38h0M85.63 1225.46h0M109.38 1200.43h0M59.52 1225.25h0M72.76 1248.37h0M101.31 1210.79h0M91.83 1220.69h0M73.24 1238.26h0M87.71 1225.81h0M113.68 1204.34h0M103.25 1243.08h0M108.95 1222.18h0M76.35 1240.88h0M106.09 1219.57h0M96.08 1233.35h0M75.07 1232.79h0M89.89 1224.91h0M85.44 1227.14h0M92.76 1212.59h0M96.14 1216.83h0M99.69 1223.41h0M98.22 1222.01h0M102.54 1203.98h0M103.48 1230.14h0M134.68 1167.13h0M87.74 1204.21h0M114 1204.17h0M103.48 1231.07h0M108.86 1233.41h0M83.32 1230.96h0M76 1243.75h0M77 1227.16h0M86.97 1228.43h0M65.5 1247.81h0M87.55 1231.46h0M114.66 1190.39h0M76.67 1233.25h0M74.91 1236.02h0M84.92 1236.6h0M68.74 1245.7h0M107.83 1215.47h0M130.73 1197.67h0M94.48 1225.57h0M103.28 1197.98h0M114.29 1218.61h0M104.6 1202.8h0M98.79 1217.16h0M89.32 1219.27h0M85.44 1231.61h0M88.93 1232.16h0M110.31 1204.32h0M116.41 1189.26h0M92.13 1215.27h0" stroke="#1a1a78"/><path d="M93.8 1216.96h0M96.82 1214.6h0M94.08 1235.39h0M108.81 1213.66h0M114.18 1203.49h0M114.37 1215.49h0M130.85 1208.75h0M106.22 1204.66h0M79.35 1199.74h0M116.07 1210.44h0M145.22 1191.36h0M113.95 1202.87h0M102.08 1210.06h0" stroke="#7a4a3a"/><path d="M101.71 1219.27h0M137.94 1197.08h0M144.56 1191.67h0M128.27 1183.71h0M106.48 1228.77h0M108.32 1208.27h0M125.23 1206.13h0M110.56 1190.98h0M105.16 1212.71h0M115.53 1200.8h0M85.69 1223.49h0M117.75 1216.79h0M130.31 1189.29h0M126.78 1191.21h0M119.26 1203.81h0M132.45 1197.76h0M96.84 1207.6h0M133.41 1181.77h0M99.7 1207.56h0" stroke="#f7941d"/><path d="M133.88 1217.83h0M94.79 1237.52h0M134.44 1207.03h0M129.51 1164.65h0M118.38 1192.47h0M115.17 1193.83h0M135.33 1201.03h0M154.21 1190.6h0M129.08 1161.75h0M116.58 1197.12h0M133.85 1183.21h0M101.35 1222.35h0" stroke="#fcc419"/><path d="M74.4 1237.24h0M138.69 1185.17h0M118.53 1198.94h0M135.59 1187.61h0M119.94 1208.03h0M111.97 1205.79h0M125.95 1200.26h0M103.46 1213.65h0M83.51 1221.2h0M100.27 1213.72h0M104.77 1202.03h0M135.6 1205.74h0M140.04 1183.75h0M114.25 1208.38h0M125.38 1188.46h0M126.3 1183.78h0M136.6 1187.66h0M132.75 1189.2h0M124.88 1212.26h0M80.33 1245.35h0M89 1211.05h0M121.76 1194.2h0M79.23 1210.45h0M121.85 1188.78h0M70.88 1233.36h0M87.38 1222.8h0M98.92 1217.06h0M127.57 1193.79h0M124.49 1211.11h0M113.42 1198.46h0M98.32 1235.67h0M102.84 1213.55h0M123.22 1188.88h0M92.01 1228.08h0M120.29 1200.2h0" stroke="#f2e21c"/><path d="M94.93 1230.99h0M87.56 1231.44h0M70.47 1234.17h0M61.86 1246.12h0M83.61 1232.87h0M75.3 1234.3h0M75.22 1248.76h0M74.56 1236.32h0M82.06 1234.7h0M77.96 1223.54h0M102.12 1224.82h0M83 1226.57h0M87.2 1216.01h0M95.75 1202.92h0M107.91 1222.84h0M104.31 1227.72h0M96.22 1217.7h0M88.47 1228.02h0M87.02 1229.73h0M99.28 1223.22h0M77.67 1236h0M77.44 1228.51h0M67.96 1239.7h0M67.83 1242.72h0M66.7 1229.79h0M84.25 1234.79h0M70.08 1228.54h0M96.89 1230.92h0M96.63 1244.09h0M99.37 1220.97h0M68.09 1245.48h0M85.79 1225.11h0M97.64 1222.79h0M72.92 1227.87h0M86.8 1228.99h0" stroke="#c4c4c4"/><path d="M88.75 1230.55h0M82.72 1230.37h0M88.48 1230.64h0M70.9 1234.46h0M86.15 1227.92h0M67.65 1228.1h0M82.54 1234.52h0M122.34 1215.31h0M69.89 1224.18h0M83.24 1236.17h0M54.49 1238.8h0M126.53 1203.47h0M84.97 1220.63h0M102.88 1226.22h0M94.41 1235.82h0M82.34 1228.73h0M103.73 1221.07h0M85.48 1225.83h0M76.82 1223.99h0M92.34 1204.87h0M83.2 1234.74h0M81.23 1221.94h0M80.66 1243.67h0M93.62 1217.53h0M65.25 1239.26h0M84.02 1223.64h0M92.24 1222.07h0M74.39 1237.33h0M99.84 1215.06h0M100.37 1232.46h0M123.17 1201.51h0M66.64 1235.81h0M88.75 1221.92h0M104.82 1210.07h0M123.6 1193.59h0M98.83 1196.42h0M128.53 1186.37h0M132.9 1191.32h0M83.63 1233.32h0M121.32 1200.01h0M75.34 1250.73h0M113.2 1197.06h0M89.97 1222.34h0M144.78 1182.5h0M95.78 1234.21h0M88.45 1240.63h0M134.42 1184.07h0M79.06 1229.98h0M90.74 1228.35h0M106.05 1219.74h0M94.62 1222.92h0M103.56 1228.63h0M73.52 1234.9h0M88.48 1236.56h0M102.35 1210.09h0M59.17 1225.87h0M92.32 1233.27h0M129.87 1184.59h0M97.55 1213.01h0M74.64 1221.08h0M126.71 1189.22h0M89.53 1231.15h0M97.72 1214.54h0M123.86 1220.53h0M73.45 1231.29h0M95.85 1208.35h0M136.28 1211.68h0M68.64 1239.89h0M76.68 1233.46h0M139.61 1187.55h0M108.73 1207.8h0M91.79 1237.04h0M68.07 1236.99h0M73.53 1253h0M74.15 1233.86h0M81.11 1237.42h0M95.37 1226.29h0M116.17 1200.77h0M80.73 1235.2h0M118.84 1178.17h0M93.24 1226.17h0M92.26 1223.27h0M88.81 1232.13h0M72.98 1227.78h0M92.99 1238.65h0M60.26 1243.6h0M71.82 1234.53h0M104.18 1210.8h0M81.69 1228.49h0M109 1197.22h0M104.67 1229.31h0M80.69 1232.5h0M85.16 1219.49h0M86.07 1227.17h0M89.62 1229.12h0M92.23 1223.16h0M70.18 1236.8h0M63.42 1238.36h0M119.64 1205.61h0M84.49 1227.26h0M76.2 1236.24h0M100.21 1206.54h0M86.37 1226.26h0M105.5 1211.48h0M143.61 1190.31h0M92.79 1225.76h0M124.81 1199.77h0M132.76 1173.42h0M82.86 1224.96h0M121.23 1204.85h0M90.22 1227.94h0M86.09 1220.31h0M89.27 1233.09h0M79.89 1229.1h0M106.82 1202.43h0M62.37 1246.29h0M97.1 1209.65h0M74.42 1240.84h0M107.25 1217.37h0M72.33 1243.96h0M71.7 1250.07h0M81.34 1242.36h0M93.79 1206.35h0M88.75 1213.25h0M79.16 1241.62h0M96.18 1209.4h0M70.77 1249.29h0M81.43 1204.51h0M114.31 1175.46h0M75.21 1227.92h0M93.67 1215.02h0M62.53 1231.32h0M93.78 1226.64h0M71.44 1230.36h0M75 1235.1h0M121.49 1207.88h0M64.91 1247.66h0M129.79 1194.39h0M106.73 1210.32h0M123 1208.13h0M112.63 1214.91h0M76.67 1235.55h0M94.57 1228.78h0M83.8 1219.92h0M77.61 1237.3h0M89.09 1232h0M87.89 1237h0M99.47 1239.21h0M106.94 1201.96h0M110.47 1207.85h0M69.92 1239.26h0M65.48 1237.9h0M123.49 1216.66h0M82.45 1215.5h0M143.65 1177.88h0M104.97 1204.63h0M79.91 1231.08h0M75.14 1237.19h0M100.39 1200.33h0M78.85 1239.81h0M93.99 1213.76h0M97.74 1215.06h0M81.2 1238.76h0M99.41 1214.79h0M66.95 1229.72h0M98.46 1237.39h0M78.67 1241.87h0M94.69 1234.88h0M93.38 1229.75h0M108.72 1219.22h0M85.61 1217.47h0M80.51 1234.69h0M76.73 1219.63h0M95.06 1222.39h0M141.35 1195.17h0M107.27 1225.13h0M85.95 1225.79h0M73.25 1226.14h0M128.07 1197.05h0M82.66 1241.88h0M81.66 1235.44h0" stroke="#1a1a78"/><path d="M139.29 1178.91h0M147.93 1181.26h0M98.7 1225.6h0M115.76 1204.25h0M124.68 1187.69h0M143.3 1193.46h0M91.38 1212.02h0M96.32 1215.12h0M148.18 1186.4h0M107.52 1203.99h0M131.31 1187.11h0M103.32 1213.95h0M112.89 1223.92h0M114.12 1198.54h0M149.94 1189.1h0M104.6 1205.11h0M139.63 1185.42h0" stroke="#7a4a3a"/><path d="M133.5 1202.3h0M104.37 1195.01h0M111.72 1215.8h0M99.59 1211.34h0M93.86 1215.42h0M117.09 1183.68h0M109.87 1205.75h0M119.73 1212.85h0M120.56 1200.08h0M117.87 1196.46h0M122.02 1193.98h0M135.93 1203h0M109.94 1212.11h0M123.7 1202.14h0" stroke="#f7941d"/><path d="M134.78 1192.7h0M138.09 1192.11h0M148.97 1183.81h0M125.09 1191.15h0M98.91 1214.63h0M111.1 1169.18h0M81.35 1244.37h0M95.39 1204.85h0M137.68 1193.88h0M135.88 1169.21h0M137.23 1192.35h0M121.03 1181.4h0M99.92 1225.57h0M115.88 1224.57h0M110.97 1217.31h0M93.26 1197.42h0M116.81 1197.12h0M106.79 1211.06h0M120.49 1195.32h0M137.87 1179.26h0M108.97 1202.54h0M135.53 1179.48h0" stroke="#fcc419"/><path d="M139.75 1190.92h0M147.83 1181.83h0M106.97 1212.97h0M80.68 1212.04h0M89.67 1213.72h0M100.26 1230.03h0M130.75 1195.55h0M101.09 1205.14h0M125.25 1203.78h0M115.69 1216.35h0M114.24 1205.53h0M94.21 1219.43h0M120.05 1175.58h0M106.68 1222.89h0M121.84 1200.21h0M122.87 1179.1h0M138.43 1196.69h0M142.97 1191.52h0M109.07 1220.82h0M120.93 1192.46h0M130.43 1195.6h0M107.09 1202.63h0M131.95 1194.68h0M133.97 1190.33h0M137.57 1191.24h0M133.02 1187.46h0M111.35 1196.74h0M106.56 1201.74h0M112.19 1193.79h0M144.96 1201.04h0M113.81 1210.97h0M115.99 1206.46h0M146.23 1184.83h0M131.77 1176.24h0M126.12 1179.24h0M115.65 1192.97h0M128.22 1185.61h0M132.63 1191.14h0M129.04 1205.05h0M114.8 1219.42h0M105.64 1225.94h0M112.98 1204.6h0M119.43 1194.5h0M104.51 1213.31h0M87.46 1224.1h0M136.71 1208.24h0M119.11 1197.67h0M124.97 1183.4h0M111.34 1195.34h0M104.13 1207.44h0M109.8 1200.6h0M108.4 1206.51h0M135.16 1204.44h0M85.58 1225.46h0" stroke="#f2e21c"/><path d="M105.81 1226.36h0M151.93 1203.56h0M72.14 1232.47h0M85.03 1231.14h0M77.18 1228.94h0M85.46 1229.16h0M105.73 1226.47h0M72.6 1236.69h0M68.9 1240.31h0M71.2 1231.66h0M135.46 1199.08h0M80.19 1252.42h0M82.45 1217.58h0M77.38 1237.06h0M115.89 1193.54h0M109.34 1213.11h0M90.87 1220.81h0M79.16 1230.69h0M105.37 1227.78h0M123.79 1213.53h0M76.24 1224.42h0M58.84 1232.96h0M90.86 1228.75h0M84.58 1237.7h0M61.77 1235.94h0M76.22 1231.91h0M76.79 1230.23h0M117.73 1199.99h0M92.4 1230.07h0M75 1238.19h0M90.86 1211.66h0M91.93 1217.14h0M70.13 1234.4h0M94.08 1214.86h0M69.61 1248.48h0M82.97 1237.59h0M80.46 1229.95h0M80.5 1238.67h0M92 1240.96h0M87.79 1236.88h0M98.11 1196.22h0M99.86 1212.06h0" stroke="#c4c4c4"/><path d="M79.41 1223.02h0M85.9 1235.73h0M103.31 1204.23h0M91.63 1218.36h0M96.6 1230.23h0M90.36 1238.41h0M87.61 1222.82h0M60.91 1231.26h0M86.87 1228.24h0M102.03 1223.97h0M91.32 1224.96h0M127.03 1169.18h0M103.6 1220.57h0M71.68 1235.9h0M83.53 1222.85h0M91.56 1228.39h0M98.71 1210.44h0M61.31 1235.85h0M92.38 1234.73h0M106 1225.89h0M139.78 1201.78h0M76.66 1224.38h0M81.96 1237.79h0M121.26 1196.18h0M74 1237.41h0M96.98 1211.35h0M98.31 1223.61h0M99.48 1246.51h0M133.55 1169.52h0M96 1227.51h0M63.26 1239.85h0M96.18 1219.4h0M96.4 1224.73h0M75.72 1232.75h0M88.16 1201.5h0M83.3 1220.77h0M125.49 1195.03h0M56.87 1235.25h0M86.25 1236.85h0M91.84 1230.17h0M105.81 1216.45h0M95.6 1220.89h0M61.53 1250.88h0M79.24 1252.25h0M98.71 1228.42h0M89.59 1232.62h0M102.27 1225.24h0M90.79 1225.63h0M107.41 1221.41h0M115.3 1203.12h0M70.47 1243.06h0M93.7 1205.38h0M98.38 1221.24h0M87.25 1224.11h0M95.95 1216.42h0M80.52 1245.66h0M100.85 1212.18h0M117.53 1210.08h0M103.3 1229.05h0M93.15 1210.7h0M82.81 1221.44h0M69.45 1220.47h0M80.59 1238.04h0M74.45 1219.14h0M86.91 1233.58h0M91.29 1237.09h0M91.42 1232.63h0M69.76 1225.56h0M80.89 1241.22h0M110.62 1203.31h0M144.96 1208.71h0M85.29 1196.38h0M105.9 1196.46h0M95.2 1237.38h0M147.2 1190.17h0M99.95 1202.92h0M76.73 1235.52h0M85.36 1222.73h0M134.7 1183.79h0M75.13 1244.98h0M68.21 1243.87h0M127.66 1204.85h0M107.32 1204.87h0M136.85 1209.27h0M67.43 1252.58h0M87.58 1226.68h0M86.62 1231.46h0M83.66 1226.82h0M114.83 1195.51h0M92.24 1228.99h0M86.91 1237.33h0M75.79 1242.03h0M128.03 1198.82h0M84.79 1233.37h0M66.41 1241.61h0M80.62 1231.44h0M79.18 1200.28h0M83.59 1237.82h0M58.89 1243.2h0M127.07 1176.3h0M102.4 1201.48h0M67.74 1234.29h0M98.19 1228.42h0M82.7 1231.94h0M104.44 1214.6h0M90.51 1218.07h0M106.65 1215.11h0M113.72 1190.2h0M126.92 1219.97h0M144.04 1193.3h0M112.39 1205.28h0M129.6 1180.11h0M124.23 1203.97h0M71.55 1250.82h0M102.23 1208.77h0M83.1 1229.39h0M74.18 1239.49h0M86.1 1223.46h0M132.59 1192.87h0M86.46 1234.03h0M90.05 1212.98h0M76.69 1228.28h0M89.15 1227.04h0M70.69 1232.28h0M89.28 1241.19h0M124.8 1184.52h0M123.59 1197.66h0M119.42 1185.83h0M98.99 1222.84h0M69.93 1247.08h0M97.91 1226.69h0M71.18 1242.14h0M91.99 1225.21h0M52.95 1242.17h0M103.82 1221.19h0M94.27 1227.45h0M58.05 1229.32h0M106.8 1202.9h0M87.34 1216.89h0M55.63 1251.17h0M79.53 1217.7h0M75.59 1230.67h0M76.02 1231.04h0M80.08 1230.87h0M103.92 1205.31h0M110.37 1228.79h0M82.83 1234.01h0M94.29 1208.95h0M109.65 1201.51h0M118.36 1181.23h0M97.09 1214.11h0M81.31 1217.51h0M109.19 1208.66h0M70.96 1231.05h0M101.01 1207.67h0M65.25 1242.27h0M67.77 1235h0M98.81 1220.43h0M92.72 1232.63h0M141.99 1184.91h0M87.74 1232.58h0M72.13 1242.74h0M78.83 1230.4h0M93.06 1234.26h0M84.47 1237.99h0M89.75 1220.71h0M84.05 1243.17h0M75.89 1238.45h0M90.94 1230.36h0M92.86 1233.44h0M128.35 1194.34h0M68.57 1242.52h0M61.18 1226.2h0M75.91 1232.45h0M90.64 1197.1h0M115.83 1202.52h0" stroke="#1a1a78"/><path d="M136.92 1197.47h0M124.55 1182.77h0M138.24 1186.68h0M135.64 1211.21h0M123.29 1180.65h0M96.49 1217.35h0M112.64 1204.68h0M137.4 1197.18h0M136.66 1200.92h0M140.35 1187.55h0M98.85 1208.44h0M128.88 1180.09h0M117.77 1211.12h0" stroke="#7a4a3a"/><path d="M125.56 1186.86h0M123.34 1204.74h0M112.31 1214.13h0M128.62 1213.57h0M136.42 1194.53h0M139.46 1199.83h0M109.03 1198.83h0M95.88 1213.22h0M115.31 1188.2h0M105.52 1207.04h0M100.05 1201.79h0M101.37 1213.26h0M130.9 1184.28h0M118.32 1190.23h0M134.99 1210.87h0M141.75 1171.54h0M117.06 1211.17h0M105.3 1238.17h0" stroke="#f7941d"/><path d="M110.08 1219.84h0M91.17 1216.6h0M131.93 1184.3h0M136.3 1181.55h0M120.75 1185.74h0M106.4 1207.15h0M116.45 1199.83h0M98.02 1211.3h0M90.46 1222.16h0M102.6 1218.44h0M122.49 1196.55h0M147.75 1190.83h0M114.34 1204.52h0M146.68 1200.84h0M142.79 1199.02h0M103.49 1209.17h0" stroke="#fcc419"/><path d="M116.43 1221.04h0M101.12 1214.56h0M135.13 1192.6h0M111.94 1186.72h0M147.99 1186.68h0M141.58 1177.94h0M85.76 1232.93h0M143.98 1201.52h0M146.9 1185.53h0M107.85 1182.33h0M114.49 1213.54h0M112.99 1185.79h0M121.05 1198.23h0M93.88 1202.32h0M119.52 1223.6h0M111.18 1214.55h0M133.52 1178.81h0M117.61 1198.54h0M102.21 1186.66h0M95.99 1236.79h0M128.79 1211.65h0M104.6 1219.78h0M143.29 1175.5h0M100.04 1211.87h0M106.01 1218.57h0M76.9 1229.7h0M134.38 1204.31h0M132.05 1193.51h0M144.78 1187.86h0M125.28 1187.19h0M109.76 1215.21h0M147.1 1184.29h0M120.4 1209.5h0M109.05 1189.21h0M127.13 1200.29h0M84.6 1212.64h0M113.53 1193.62h0M133.67 1202.88h0M110.71 1215.29h0M120.93 1182.52h0M100.12 1220.12h0M94.04 1197.28h0M100.5 1191.5h0M136.38 1170.99h0M107.1 1208.45h0M119.25 1190.94h0M104.28 1205.81h0M105.3 1218.94h0M120.73 1207.39h0M123.82 1189.08h0M122.01 1192.77h0M94.86 1225.64h0M97.15 1197.26h0M122.33 1211.81h0M121.25 1206.63h0M133.02 1181.87h0M115.35 1188.38h0" stroke="#f2e21c"/><path d="M79.33 1231.92h0M86.99 1240.08h0M84.36 1231.98h0M79.68 1225.82h0M96.24 1229.42h0M85.06 1225.62h0M113.89 1199.6h0M73.14 1244.65h0M107.76 1205.27h0M85.13 1231.65h0M77.8 1224.84h0M117.65 1191.99h0M87.5 1216.06h0M90.13 1236.18h0M116.62 1231.98h0M91.19 1232.43h0M59.56 1229.37h0M69.03 1235.44h0M98.71 1223.87h0M77.71 1234.81h0M80.73 1231.94h0M67.03 1239.87h0M90.64 1228.51h0M88.71 1236.94h0M86.06 1232.12h0M137.18 1192.18h0M77.26 1242.05h0M93.96 1227.37h0M85.5 1233.75h0M76.12 1225.41h0M104.02 1209.96h0M81.76 1233.79h0" stroke="#c4c4c4"/><path d="M111.18 1212.66h0M76.92 1240.27h0M112.12 1198.12h0M146.63 1184.45h0M114.46 1223.64h0M122.52 1189.79h0M84.9 1234.49h0M115.25 1204.48h0M79.18 1221.58h0M78.58 1228.55h0M79.02 1226.19h0M83.1 1227.15h0M74.87 1225.61h0M92.09 1228.9h0M86.06 1218.2h0M75.66 1234.77h0M81.96 1237.88h0M66.96 1242.12h0M118.42 1214.6h0M69.79 1225.06h0M48.98 1247.78h0M121.4 1191.31h0M127.42 1195.09h0M90.16 1221.43h0M102.89 1218.68h0M72.38 1225.67h0M109.32 1209.04h0M133.84 1185.64h0M121.5 1186.93h0M76.82 1249.54h0M125.72 1206.66h0M80.94 1239.76h0M61.39 1249.22h0M73.52 1238.56h0M70.66 1230.45h0M96.94 1190.18h0M97.58 1196.12h0M71.09 1226.77h0M99.48 1212.46h0M91.96 1221.16h0M132.64 1165.76h0M67.13 1233.17h0M112.92 1231.62h0M80.09 1221.32h0M117.76 1204.22h0M94.76 1224.37h0M89.92 1224.01h0M84.42 1226.85h0M87.67 1224.08h0M91.46 1220.71h0M80.16 1232.61h0M90.37 1215.59h0M71.52 1242.52h0M110.34 1202.49h0M118.17 1196.89h0M105.02 1230.96h0M98.78 1215.42h0M99.11 1206.06h0M80.98 1228.17h0M97.26 1224.2h0M132.95 1192.47h0M110.61 1194.59h0M92.12 1248.81h0M98.75 1222.62h0M84.72 1223.27h0M87.77 1229.34h0M90.64 1222.83h0M103.5 1227.11h0M84.14 1223.37h0M77.02 1235.67h0M80.35 1235.02h0M92.88 1227.7h0M71.59 1228.91h0M109.01 1210.53h0M89.34 1223.54h0M88.93 1223.36h0M87.51 1223.28h0M84.72 1232.49h0M108.27 1190.26h0M106.13 1224.88h0M99.2 1238.88h0M63.42 1245.29h0M105.87 1212.9h0M98.68 1219.12h0M94.8 1217.14h0M95.64 1228.25h0M82.97 1233.67h0M73.81 1226.23h0M111.71 1217.51h0M65.34 1241.31h0M92.65 1227.29h0M73.47 1220.18h0M104.47 1213.81h0M74.98 1246.29h0M86.16 1223.34h0M99.29 1221.72h0M121.85 1212.14h0M107.78 1215.53h0M83.41 1223.58h0M83.95 1225.84h0M93.5 1237.87h0M74.9 1226.67h0M80.12 1229.51h0M118.42 1201.63h0M77.78 1240.76h0M73.32 1237.33h0M101.75 1220.99h0M88.3 1234.97h0M109.5 1189.03h0M86.8 1231.31h0M53.65 1233.17h0M122.27 1196.31h0M75.54 1244.57h0M84.39 1231.11h0M92.61 1227.16h0M66.49 1224.34h0M83.63 1230.27h0M83.44 1226.4h0M86.86 1226.22h0M107.12 1219.56h0M87.89 1232.84h0M95.21 1226.23h0M102.02 1210.2h0M86.14 1222.05h0M95.4 1233.56h0M117.53 1220.52h0M107.82 1204.88h0M91.56 1239.4h0M140.57 1167.22h0M62.72 1241.57h0M91.86 1211.62h0M120.26 1215.06h0M73.4 1241.74h0M135.41 1198h0M80.95 1219.21h0M86.97 1216.26h0M76.97 1224.97h0M89.81 1223.56h0M78.52 1233.92h0M108.58 1207.79h0M90.84 1238.73h0M116.5 1208.53h0M93.52 1229.08h0M159.51 1204.86h0M73.08 1223.94h0M66.8 1226.35h0M106.44 1185.95h0M114.35 1214.44h0M112.65 1215.85h0M76.72 1232.68h0M98.24 1219.06h0M77.43 1231.82h0M88.25 1236.64h0M88.24 1226.75h0M69.35 1235.15h0M119.54 1183.66h0M77.56 1246.82h0M92.69 1231.44h0M85.28 1238.82h0M75.97 1225.32h0M98.97 1226.36h0M80.51 1218.85h0M112.36 1221.77h0M80.31 1229.25h0M103.29 1223.03h0M93.64 1218.81h0M126.86 1186.38h0M100.56 1226.9h0M87.32 1222.3h0M68.13 1227.18h0M84.09 1232.04h0M82.94 1225.96h0M84.66 1220.23h0M108.98 1237.75h0M60.18 1247.48h0M69.22 1238.59h0M129.69 1193.2h0M88.7 1231.18h0M83.65 1222.27h0M78.97 1243.21h0M89.1 1231.72h0M108.56 1221.12h0M79.22 1245.41h0M93.68 1226.33h0M84.44 1237.21h0M80.65 1233.76h0M68.62 1244.34h0M78.03 1227.36h0" stroke="#1a1a78"/><path d="M105.38 1215.81h0M109.36 1227.15h0M115.91 1194.3h0M128.01 1173.25h0M108.72 1204.1h0M150.11 1190.92h0M80.35 1223.88h0M117.64 1220.15h0M150.02 1176.8h0M127.1 1224.87h0M95.97 1219.82h0M132.06 1165.87h0M130.95 1181.57h0M74.71 1232.53h0" stroke="#7a4a3a"/><path d="M89.03 1231.75h0M141.06 1193.21h0M133.47 1193.53h0M94.74 1226.49h0M138.31 1196.57h0M130.45 1189.89h0M87.85 1229.51h0M95.95 1217.23h0M124.17 1196.69h0M109.13 1200.73h0M134.96 1197.94h0" stroke="#f7941d"/><path d="M148.49 1181.6h0M130.41 1176.66h0M153.68 1191.25h0M111.27 1200.85h0M149.43 1190.61h0M116.98 1202.29h0M131.58 1216.53h0M91.93 1240.01h0M115.99 1192.41h0M133.66 1188h0M139.41 1188.39h0M138.57 1191.26h0M100.32 1213.24h0M99.44 1214.5h0M96.77 1212.44h0M106.09 1211.61h0M138 1191.07h0M138.31 1193.67h0M129.42 1193.67h0M122.94 1205.84h0M116.23 1206.36h0M116.51 1204.38h0M141.04 1203.06h0M99.02 1201.04h0M99.36 1218.87h0" stroke="#fcc419"/><path d="M118.75 1187.87h0M134.46 1196.59h0M115.06 1198.22h0M130.21 1181.67h0M125.96 1222.01h0M69.44 1250.4h0M126.24 1187.03h0M114.87 1188.6h0M159.47 1193.6h0M118.52 1185.18h0M101.85 1211.56h0M130.43 1173.26h0M149.17 1182.56h0M97.27 1233.75h0M85.19 1206.93h0M103.17 1222.23h0M125.34 1214.59h0M124.13 1217.99h0M112.82 1213.87h0M127.77 1188.65h0M112.59 1197.83h0M138.66 1178.63h0M138.03 1206.19h0M108.63 1200.39h0M119.79 1219.5h0M104.02 1220.18h0M122.11 1216.68h0M83.99 1220.43h0M139.97 1178.9h0M125.69 1217.56h0M90.23 1221.74h0M135.77 1178.46h0M140.64 1188.96h0M143.35 1190.27h0M127.32 1192.39h0M158.62 1193.22h0M102.92 1219.19h0M119.78 1225.15h0M100.39 1196.32h0M108.05 1217.55h0M96.95 1236.08h0M117.91 1187.78h0M139.76 1183.96h0M126.88 1185.16h0M100.2 1213.44h0M92.95 1224.51h0M89.75 1222.84h0M137.73 1199.6h0M89.39 1211.45h0M145.98 1188h0M130.42 1186.94h0M120.17 1194.33h0" stroke="#f2e21c"/><path d="M111.59 1210.71h0M86.5 1221.84h0M96.51 1232.37h0M77.18 1246.85h0M97.08 1227.91h0M82.92 1228.58h0M87.27 1229.55h0M86.96 1232.3h0M87.93 1232.94h0M67.24 1220.48h0M73.17 1237.94h0M90.11 1215.01h0M71.96 1244.55h0M106.13 1214.59h0M70.45 1244.06h0M79.86 1247.3h0M80.73 1235.21h0M86.19 1229.84h0M88.54 1229.07h0M87.59 1231.86h0M73.55 1236.58h0M92.29 1235.38h0M66.01 1242.3h0M91.95 1235.45h0M81 1224.38h0M89.15 1215.36h0M83.67 1246.61h0M71.32 1230.58h0M74.45 1247.29h0M75.95 1236.43h0M95.71 1232h0M95.59 1225.49h0M96.07 1217.26h0M57.06 1252.05h0M78.92 1224.58h0M117.33 1199.7h0M81.12 1230.98h0" stroke="#c4c4c4"/><path d="M130.5 1204.74h0M92.43 1214.05h0M87.71 1226.83h0M85.24 1222.79h0M77.14 1232.53h0M69.4 1229.79h0M72.99 1234.52h0M104.02 1220.91h0M87.21 1231.86h0M101.07 1207.84h0M118.33 1211.53h0M117.1 1222.03h0M83.32 1233.37h0M88.92 1235.98h0M104.24 1207.15h0M99.44 1228.62h0M104.11 1220.46h0M111.5 1215.45h0M137.83 1179.62h0M80.65 1221.48h0M100.69 1219.4h0M86.74 1213.09h0M61.67 1250.39h0M95.66 1227.63h0M83.1 1224.38h0M131.11 1189.45h0M99.81 1212.19h0M94.32 1236.69h0M77.3 1231.37h0M121.97 1212.18h0M70.45 1229.36h0M102.67 1220.81h0M70.8 1216.88h0M101.88 1204.91h0M118.22 1184.74h0M105.73 1221.49h0M68.12 1242.51h0M82.1 1233.05h0M94.77 1236.47h0M88.53 1224.49h0M85.84 1213.64h0M93.73 1219.51h0M133.17 1177.52h0M90.24 1217.91h0M101.68 1228.43h0M74.22 1229.2h0M63.94 1241.32h0M81.37 1231.62h0M68.06 1243.9h0M114.71 1202.55h0M148.45 1196.13h0M114.51 1217.88h0M109.59 1192.1h0M100.03 1227.28h0M57.48 1242.04h0M128.05 1184.9h0M90.15 1231.07h0M82.41 1238.18h0M102.47 1216.82h0M80.82 1236.6h0M90.26 1230.05h0M91.06 1215.7h0M70.42 1236.56h0M58.22 1234.18h0M86.73 1236.99h0M93.66 1220.17h0M86.94 1228.97h0M87.37 1224.27h0M111.25 1199.78h0M115.39 1223.68h0M84.94 1216.83h0M73.69 1247.52h0M73.3 1245.56h0M68.89 1234.68h0M104.04 1218.47h0M90.79 1239.39h0M75.42 1233.93h0M72.26 1230.79h0M86.26 1218.3h0M91.16 1229.55h0M86.91 1214.93h0M76.22 1211.34h0M64.51 1245.58h0M89.74 1233.47h0M96.31 1238.17h0M85.17 1225.15h0M84.58 1227.67h0M77.31 1243.98h0M117.7 1196.46h0M78.22 1228.93h0M73.99 1222.53h0M127.44 1206.11h0M127.82 1197.3h0M114.16 1193.15h0M93.76 1229.44h0M140.39 1195.51h0M113.95 1205.93h0M72.56 1250.09h0M64.95 1242.35h0M78.26 1232.31h0M108.9 1204.73h0M83.68 1233.14h0M61.7 1241.05h0M90.98 1226.28h0M90.41 1218.51h0M93.58 1222.88h0M69.6 1234.82h0M85.54 1216.64h0M105.95 1227.3h0M70.92 1237.22h0M80.7 1226.98h0M95.32 1223.14h0M77.25 1231.35h0M87.19 1229.08h0M101 1218.35h0M72.64 1222.61h0M90.59 1231.11h0M110.75 1224.21h0M82.98 1236.41h0M77.44 1226.63h0M87.15 1229.98h0M72.31 1230.49h0M86.2 1222.62h0M69.93 1242.68h0M93.75 1229.16h0M110.75 1217.43h0M91.17 1233.97h0M139.14 1186.95h0M69.49 1239.26h0M91.86 1223.14h0M89.41 1236.01h0M73.88 1246.68h0M97.74 1220.73h0M130.49 1202.95h0M94 1232.83h0M58.63 1228.68h0M101.51 1215.14h0M87.55 1231.98h0M131.18 1196.13h0M76.5 1233.2h0M58.14 1245.42h0M61.49 1240.53h0M84.29 1226.56h0M67.85 1234.04h0M76.65 1239.56h0M97.81 1200.87h0M103.65 1232.1h0M82.29 1234.69h0M80.7 1235.51h0M91.53 1221.56h0M93.86 1218.13h0M68.4 1230.36h0M108.13 1201.34h0M76.22 1230.4h0M88.88 1221.61h0M82.78 1233.62h0M115.84 1219.9h0M71.75 1236.42h0M108.31 1185.2h0M87.91 1212.35h0M61.23 1236.68h0M79.13 1229.75h0M100.19 1226.23h0M102.21 1233.28h0M85.88 1223.8h0M106.22 1216.91h0M77.5 1240.67h0M97.01 1205.84h0M53.05 1251.1h0M112.06 1214.86h0M121.8 1223.17h0M152.32 1202.15h0M78.72 1240.28h0M69 1224.35h0M102.88 1223.89h0M85.27 1221.44h0" stroke="#1a1a78"/><path d="M128.3 1190.11h0M139.47 1196.37h0M85.92 1216.6h0M121.43 1187.43h0M116.81 1207.86h0M121.96 1199.97h0M129.87 1190.88h0M106.33 1226.1h0M102.86 1214.39h0M118.69 1198.62h0M95.7 1219.29h0M89.99 1213.34h0" stroke="#7a4a3a"/><path d="M105.38 1197.7h0M154.37 1189.97h0M135.03 1195.06h0M100.33 1208.49h0M96.31 1216.86h0M87.83 1224.33h0M118.78 1197.11h0M102.71 1193.33h0M109.27 1191.86h0M122.14 1198.89h0M98.31 1215.38h0M105.1 1207.13h0M124.62 1178.34h0M114.98 1215.81h0M92.54 1220.97h0M91.65 1199.54h0M113.08 1209.67h0M138.57 1210.15h0M118.59 1196.69h0M84.82 1230.14h0M117.47 1186.51h0M111.44 1208.96h0" stroke="#f7941d"/><path d="M138.71 1194.54h0M105.38 1220.35h0M105.69 1222.35h0M146.1 1182.88h0M135.81 1191.9h0M92.82 1209.54h0M131.24 1189.04h0M130.86 1191.17h0M103.8 1228.9h0M123.23 1184.73h0M87.29 1226.87h0M121.59 1189.94h0M87.81 1209.9h0M131.26 1192.93h0M133.1 1206.21h0M117.54 1206.86h0M99.11 1224.58h0M106.46 1204.47h0M129.52 1174.19h0M124.52 1203.5h0M136.61 1182.67h0M108.97 1192.62h0M137.54 1191.52h0" stroke="#fcc419"/><path d="M100.28 1218.23h0M107.51 1222.51h0M135.84 1205.84h0M143.62 1182.74h0M120.21 1214.47h0M110.87 1214.17h0M119.54 1204.17h0M145.98 1204.4h0M124.44 1209.46h0M119.69 1193.91h0M108.36 1199.2h0M121.92 1178.14h0M88.41 1204.8h0M120.39 1204.51h0M99.25 1217.23h0M124.26 1188.92h0M97.63 1209.93h0M129.15 1178.9h0M140.42 1183.71h0M111.71 1183.41h0M128.52 1187.58h0M119.8 1203.26h0M138.59 1198.34h0M73.89 1240.42h0M125.66 1172.69h0M124.85 1201.54h0M107.64 1223.38h0M100.21 1222.16h0M144.34 1189.77h0M145.06 1183.81h0M98.75 1217.99h0M119.77 1196.13h0M134.23 1178.3h0M123.21 1207.07h0M110.14 1218.89h0M103.02 1182.7h0M120.39 1169.08h0M133.75 1197.35h0M124.3 1201.99h0M103.81 1202.53h0M125.3 1205.77h0M97.89 1215.09h0M127.45 1205.03h0M129.04 1186.18h0M123.76 1188.48h0M108.18 1212.99h0M143.27 1175.98h0M113.68 1206.55h0M115.53 1200.8h0M127.03 1184.12h0M92.19 1226.96h0M124.33 1173.04h0" stroke="#f2e21c"/><path d="M93.42 1231.74h0M116.22 1218.63h0M102.74 1214.72h0M89.85 1230.06h0M75.41 1239.33h0M99.53 1229.59h0M69.43 1236.28h0M100.23 1213.25h0M138.31 1197.22h0M86.83 1232.28h0M74.83 1227.23h0M87.83 1237.47h0M98.25 1211.82h0M91.89 1228.81h0M86.86 1227.41h0M79.56 1235.2h0M87.04 1234.08h0M64.25 1240.53h0M101.58 1240.65h0M91.83 1221.43h0M76.97 1230.96h0M75.74 1233.23h0M96.07 1228.91h0M75.8 1227.9h0M78.32 1236.41h0M99.59 1221.74h0M87.91 1236.15h0M53.66 1232.21h0M96.51 1225.04h0M88.48 1247.88h0M98.32 1195.5h0M89.17 1225.8h0M86.24 1229.58h0M89.42 1225.98h0M102.85 1216.58h0M103.73 1216.4h0M92.77 1245.36h0M86.21 1236.92h0M73.97 1211.34h0M80.96 1223.67h0M92 1230.03h0M109.05 1220.07h0M87.57 1235.75h0M65.77 1247.4h0M84.26 1234.83h0M90.83 1230.52h0M104.69 1205.2h0M110.53 1210.47h0M148.76 1193.2h0M86.58 1240.17h0M80.8 1236.89h0M84.02 1233.15h0M84.54 1230.42h0M88.9 1232.91h0M67.79 1242.93h0M96.41 1221.3h0M77.27 1234.7h0M88.92 1217.45h0" stroke="#c4c4c4"/><path d="M92.24 1236.27h0M76.64 1235.66h0M70.63 1247.74h0M71.21 1240.16h0M89.64 1230.32h0M83.45 1233.22h0M86.21 1220.97h0M103.06 1219.9h0M93.8 1239.82h0M71.73 1250.5h0M105.54 1205.45h0M87.72 1232.28h0M82.35 1228.72h0M119.1 1209.86h0M85.48 1234.55h0M71.57 1240.06h0M122.35 1214.01h0M88.79 1222.84h0M125.95 1179.83h0M116.48 1205.62h0M85.93 1228.3h0M130.91 1203.01h0M92.66 1227.17h0M98.85 1212.28h0M133.32 1197.71h0M100.01 1195.07h0M87.7 1212.99h0M126.54 1214.47h0M120.06 1197.89h0M109.63 1203.55h0M89.4 1219.81h0M77.24 1230.58h0M94.81 1221.87h0M74.98 1236.59h0M83.24 1232.54h0M105.09 1226.67h0M111.17 1214.53h0M99.31 1233.6h0M86.77 1245.29h0M75.48 1235.19h0M96.39 1219.73h0M84.24 1233.72h0M70.71 1240.71h0M85.31 1233.82h0M92.71 1208.66h0M84.09 1237.26h0M89.33 1211.1h0M76.11 1229.13h0M107.64 1212.62h0M103.35 1236.88h0M89.59 1237.81h0M87.19 1229.02h0M60.76 1231.21h0M109.92 1199.68h0M90.58 1220.05h0M75.62 1226h0M78.36 1227.05h0M76.21 1228.62h0M89.86 1232.95h0M120.18 1192.97h0M98.43 1218.63h0M102.78 1219.55h0M67.72 1245.22h0M84.1 1244.13h0M66.26 1249.3h0M101.79 1218.46h0M77.37 1229.43h0M115.4 1208.56h0M87.83 1237.78h0M115.36 1214.09h0M90.77 1214.35h0M98.43 1222.47h0M80.28 1223.06h0M82.72 1231.4h0M97.1 1232.9h0M80.33 1234.58h0M72.04 1225.34h0M78.93 1220.56h0M91.84 1232.9h0M89.29 1236.78h0M51.09 1240.5h0M83 1231.45h0M81.71 1241.64h0M134.85 1199.69h0M71.89 1239.13h0M95.48 1229.49h0M92.48 1224.23h0M66.12 1240.2h0M96.25 1223.28h0M121.16 1210.86h0M83.31 1233.98h0M69.9 1244.92h0M99.36 1215.54h0M72.52 1238.45h0M58.47 1245.35h0M88.71 1223.97h0M80.09 1234.23h0M97.82 1222.34h0M79.52 1226.77h0M79.14 1234.28h0M102.71 1213.73h0M104.48 1231.14h0M101.49 1206.67h0M121.03 1213.09h0M92.59 1230.67h0M77.08 1232.34h0M110.89 1227.7h0M107.58 1200.77h0M124.69 1211.14h0M106.25 1211.81h0M146.73 1187.7h0M69.7 1235.5h0M90.11 1235.59h0M89.36 1216.44h0M90.79 1229.8h0M85.29 1238.22h0M105.62 1225.7h0M65.94 1227.54h0M97.93 1226.24h0M102.33 1210.69h0M80.6 1220.04h0M84.72 1237.41h0M96.55 1226.08h0M126.76 1178.45h0M106.8 1206.39h0M79.37 1251.82h0M72.11 1235.67h0M119.64 1202.26h0M105.43 1225.76h0M101.81 1218.98h0M107.47 1218.99h0M96.53 1230.42h0M100.47 1222.98h0M99.39 1224.56h0M60.92 1241.94h0M64.08 1240.87h0M84.31 1233.28h0M78.81 1218.68h0M73.28 1229.89h0M95.47 1228.23h0M103.08 1198.49h0M94.2 1214.74h0M76.15 1229.15h0M77.77 1236.95h0M144.91 1186.73h0M89.31 1225.89h0M79.72 1239.53h0M109.56 1207.26h0M94.05 1218.19h0M95.45 1235.91h0M89.91 1217.36h0M73.08 1234.17h0M124.75 1212.75h0M110.93 1204.23h0M119.62 1191.07h0M92.58 1215.72h0M75.09 1229.29h0M81.14 1222.88h0M94.33 1222.53h0M78.04 1232.67h0M80.31 1237.66h0M110.01 1214.66h0M119.7 1216.1h0M85.41 1237.87h0M81.56 1215.61h0M77.01 1246.26h0M89.97 1217.97h0M100.89 1222.99h0M92.42 1226.77h0" stroke="#1a1a78"/><path d="M73.8 1236.24h0M117.48 1215.43h0M122.13 1179.48h0M120.31 1212.8h0M133.93 1191.13h0M98.13 1207h0M91.67 1219.95h0M124.66 1206.47h0M93.68 1212.79h0M96.37 1229.5h0M111.4 1221.1h0M137.48 1181.5h0M122.5 1190.27h0M123.02 1177.8h0" stroke="#7a4a3a"/><path d="M146.03 1191.3h0M127.95 1196.43h0M113.56 1207.96h0M146.24 1186h0M128.18 1200.6h0M138.47 1198.38h0M119.63 1203.41h0M125.13 1202.44h0M95.93 1209.79h0M111.37 1195.59h0M106.1 1213.09h0M114.69 1209.2h0M97.42 1219.33h0M114.05 1190.24h0" stroke="#f7941d"/><path d="M115.8 1194.73h0M131.1 1203.32h0M112.97 1195.48h0M85.16 1214.3h0M127.76 1183.09h0M131.11 1186.97h0M132.96 1204.85h0M110.18 1221.14h0M101.15 1203.72h0M130.17 1197.96h0M125.66 1178.27h0M121.41 1205.43h0M73.17 1238.62h0M128.31 1189.4h0M112.36 1204.03h0M122.19 1187.79h0M106.9 1183.41h0M107.78 1212.85h0M81.05 1239.5h0" stroke="#fcc419"/><path d="M91.53 1232.11h0M89.72 1229.44h0M131.18 1180.45h0M123.9 1218.21h0M136.55 1207.4h0M106.92 1194.04h0M115.36 1198.55h0M106.6 1234.56h0M132.31 1178.04h0M128.07 1192.76h0M131.1 1180.58h0M124.6 1201.41h0M95.76 1219.79h0M130.15 1178.94h0M120.34 1198.35h0M121.77 1170.72h0M130.89 1190.16h0M114.3 1198.36h0M115.02 1210.48h0M96.53 1209.56h0M149.07 1188.06h0M149.88 1186.22h0M126.45 1181.72h0M121.43 1208.92h0M73.49 1223.95h0M124.03 1193.97h0M108.9 1203.7h0M138.18 1192.2h0M138.81 1188.39h0M116.69 1190.44h0M96.4 1219.96h0M132.75 1204.01h0M111.96 1217.35h0M125.81 1196.93h0M116.39 1195.87h0M110.33 1219.58h0M120.83 1193.17h0M94.61 1234.43h0M135.49 1188.23h0M122.07 1199h0M119.14 1185.32h0M116.45 1206h0M137.78 1202.45h0M142.75 1187.3h0M82.02 1215.02h0M131.06 1213.94h0M99.45 1205.64h0M115.16 1189.52h0" stroke="#f2e21c"/><path d="M64.76 1244.07h0M99.46 1230.1h0M94.37 1238.62h0M80.16 1225.04h0M98.98 1203.88h0M103.68 1213.58h0M94.43 1213.46h0M76.18 1233.57h0M64.65 1252.49h0M87.24 1211.68h0M83.27 1226.74h0M72.32 1235.36h0M86.8 1231.37h0M90.89 1234.67h0M75.59 1229.99h0M62.88 1237.57h0M93.53 1207.45h0M92.91 1228.86h0M82.35 1228.97h0M74.78 1237.28h0M100.33 1199.45h0M85.24 1238.47h0M78.84 1235.67h0M112.98 1225.34h0M80.05 1223.48h0M87.75 1237.5h0M104.63 1230.95h0M103.47 1217.13h0M79.62 1230.24h0M120.2 1199.66h0M93.84 1225.42h0M102.35 1223.47h0M70.66 1239.03h0M89.49 1229.11h0M97.73 1236.2h0M81.14 1223.47h0M93.34 1223.1h0M70.46 1250.7h0M70.57 1216.76h0M68.46 1230.3h0M107.62 1194.49h0M66.46 1252.94h0M148.19 1183.82h0M77.23 1233.62h0M103.32 1214.07h0M118.03 1185.3h0M91.94 1223.43h0M84.65 1238.93h0M100.13 1219.39h0M49.97 1249.13h0" stroke="#c4c4c4"/><path d="M88.11 1228.04h0M127.41 1196.12h0M96.27 1221.9h0M82.96 1235.32h0M100.29 1201.35h0M73.58 1249.47h0M122.51 1203h0M72.86 1242.48h0M85.62 1241.46h0M99.95 1226.42h0M114.37 1203.55h0M107.36 1209.76h0M121.96 1166.07h0M88.25 1231.51h0M85.96 1234h0M81.67 1221.69h0M83.08 1232.11h0M83.79 1238.98h0M87.12 1234.96h0M91.93 1235.22h0M96.97 1215.66h0M104.63 1194.84h0M57.38 1245.33h0M85.2 1220.44h0M92.67 1230.16h0M81.07 1239.38h0M82.31 1220.36h0M69.31 1239.52h0M80.11 1228.4h0M115.28 1195.78h0M96.22 1217.36h0M80.79 1231.18h0M89.46 1215.16h0M119.69 1191.66h0M107.71 1198.96h0M82.38 1216.03h0M79.84 1224.32h0M101.12 1217.46h0M88.58 1226.2h0M85.81 1233.72h0M98.95 1215.71h0M94.63 1220.95h0M87.22 1243.1h0M129.19 1186.1h0M64.34 1233.98h0M119.53 1193.01h0M118.35 1215.9h0M109.03 1175.84h0M86.41 1229.41h0M83.32 1233.84h0M79.16 1236.52h0M93.3 1221.69h0M73.88 1240.34h0M125.45 1211.78h0M108.95 1206.99h0M85.78 1226.96h0M97.27 1223.01h0M98.9 1230.86h0M69.43 1226.28h0M110.14 1211.07h0M84.5 1223.11h0M72.78 1238.22h0M89.86 1218.37h0M91.02 1245.46h0M85.37 1217.67h0M108.53 1233.99h0M113.99 1194.52h0M73.97 1235.32h0M80 1232.9h0M81.15 1242.02h0M89.15 1237.23h0M82.28 1231.75h0M130.97 1190.25h0M84.73 1227.97h0M130.66 1192.16h0M88.65 1234.5h0M109.52 1220.35h0M115.29 1198.65h0M79.19 1228.85h0M85.31 1237.86h0M126.12 1191.96h0M72.83 1235.83h0M95.05 1232.77h0M112.75 1209.35h0M65.94 1249.66h0M78.19 1225.14h0M82.66 1240.99h0M72.22 1237.14h0M125.33 1191.3h0M101.9 1219.31h0M77.34 1227.01h0M87.34 1231.28h0M109.82 1222.85h0M93.32 1233.65h0M82.68 1233.01h0M92.01 1226.19h0M79.08 1244.21h0M83.96 1228.8h0M87.8 1226.79h0M97.67 1215.31h0M87.89 1233.7h0M78.92 1226.88h0M96.95 1227.79h0M85.87 1239.9h0M110.71 1217.27h0M125.96 1195.89h0M92.24 1233.47h0M111.34 1217.57h0M101.84 1199.98h0M89.42 1223.75h0M96.68 1220.73h0M91.2 1226.89h0M97.76 1218.36h0M90.22 1229h0M90.34 1216.82h0M139.62 1174.98h0M75.78 1248.66h0M71.98 1231.23h0M128.33 1191.3h0M84.46 1238.31h0M102.64 1220.24h0M106.06 1190.06h0M111.77 1204.9h0M92.05 1227h0M87.17 1232.39h0M75.43 1221.9h0M88.68 1216.38h0M135.9 1188.63h0M95.82 1218.58h0M71.32 1228.44h0M92.26 1238.31h0M116.11 1206.9h0M68.58 1239.79h0M120.03 1231.36h0M114.52 1214.87h0M64.65 1236.06h0M76.14 1225.67h0M102.11 1221.54h0M73.38 1233.52h0M55.45 1241.1h0M132.37 1207.13h0M96.48 1228.72h0M69.22 1223.09h0M101.3 1214h0M90.17 1226.11h0M54.11 1236.8h0M73.83 1236.57h0M76.36 1232.08h0M77.83 1233.42h0M92.25 1246.3h0M113.69 1212.22h0M92.55 1234.44h0M84.2 1225.31h0M88.73 1243.14h0M124.66 1197.59h0M78.18 1238.8h0M74.07 1229.38h0M78.65 1237.42h0M103.13 1242.69h0M114.05 1210.95h0M111.75 1213.77h0M91.17 1221.83h0M60.93 1230.82h0M138.06 1202.67h0M74.5 1216.73h0M102.51 1222h0M88.37 1229.42h0M97.49 1223.07h0M94.67 1223.12h0M124.4 1205.5h0M102.11 1220.51h0M139.95 1186.98h0M68.76 1236.09h0M68.03 1235.91h0M113.72 1201.27h0M82.88 1233.1h0M99.47 1195.2h0" stroke="#1a1a78"/><path d="M92.26 1225.07h0M84.13 1203.36h0M132.28 1204.46h0M134.28 1180.49h0M115.95 1213.11h0M128.56 1206.78h0M125.84 1181.27h0M102.07 1207.13h0M126.1 1191.35h0M111.96 1209.51h0M140.1 1184.1h0M113.84 1192.09h0M123.24 1209.28h0M121.58 1185.29h0" stroke="#7a4a3a"/><path d="M131.64 1204.55h0M116.1 1206.25h0M135.58 1194.96h0M125.94 1207.77h0M116.18 1205.21h0M140.93 1185.65h0M118.03 1201.03h0M135.59 1176.53h0M107.93 1198.56h0M106.96 1203.13h0" stroke="#f7941d"/><path d="M99.37 1218.14h0M77.22 1212.67h0M100.47 1226.62h0M123.01 1194.72h0M115.36 1183h0M120.42 1195.4h0M86.4 1224.92h0M145.01 1185.1h0M114.68 1224.06h0M103.77 1213.59h0M120.84 1212.64h0M113.19 1207.73h0M85.63 1227.78h0M82.73 1218.51h0M88.52 1224.66h0M119.65 1181.19h0M128.85 1211.3h0M85.95 1220.42h0M137.48 1196.23h0M84.25 1232.94h0M124.91 1206.47h0M108.37 1209.86h0M105.18 1211.81h0M122.88 1200.38h0" stroke="#fcc419"/><path d="M116.17 1209.87h0M105.62 1203.71h0M114.1 1201.63h0M139.31 1184.8h0M104.8 1218.18h0M128.6 1221.13h0M120 1205.21h0M139.26 1180.37h0M119.96 1190.42h0M145.98 1189.66h0M119.08 1209.57h0M137.59 1204.42h0M93.13 1218.32h0M121.56 1196.64h0M128.63 1202.08h0M109.53 1210.13h0M127.79 1193.56h0M126.96 1178.74h0M108.62 1204.71h0M118.89 1197.88h0M124.45 1210.09h0M103.48 1182.66h0M127.38 1185.11h0M154.6 1199.19h0M116.04 1206.94h0M114.28 1190.68h0M104.34 1194.86h0M118.8 1192.82h0M129.81 1190.75h0M113.42 1191.56h0M98.95 1216.72h0M110.73 1207.16h0M138.2 1184.95h0M90.05 1205.01h0M105.14 1212.27h0M99.69 1219.94h0M137 1182.06h0M131.63 1175.69h0M135.18 1187.84h0M141.13 1185.32h0M110.56 1220.89h0M91.69 1230.87h0M116.82 1195.38h0M146.68 1183.33h0M144.42 1184.03h0M136.31 1187.72h0M97.83 1227.13h0" stroke="#f2e21c"/></g>
<path d="M91.7 1182.8L137.4 1228M74.9 1200.6L119.3 1244.8" stroke="#000" stroke-width="1" stroke-dasharray="2.6 2" fill="none"/>
<text x="41.2" y="1154.8" text-anchor="end" class="t75">0.6</text>
<text x="41.2" y="1176.1" text-anchor="end" class="t75">0.4</text>
<text x="41.2" y="1197.4" text-anchor="end" class="t75">0.2</text>
<text x="41.2" y="1218.7" text-anchor="end" class="t75">0.0</text>
<text x="41.2" y="1240" text-anchor="end" class="t75">−0.2</text>
<text x="43.3" y="1265.3" text-anchor="middle" class="t75">−0.25</text>
<text x="83.4" y="1265.3" text-anchor="middle" class="t75">0.00</text>
<text x="123.5" y="1265.3" text-anchor="middle" class="t75">0.25</text>
<path d="M45.1 1148.7V1255.3H161.8M45.1 1152.1h-2.6M45.1 1173.4h-2.6M45.1 1194.7h-2.6M45.1 1216h-2.6M45.1 1237.3h-2.6M43.3 1255.3v2.6M83.4 1255.3v2.6M123.5 1255.3v2.6" fill="none" stroke="#444" stroke-width="0.7"/>
<text transform="translate(22.2 1204) rotate(-90)" text-anchor="middle" class="t75">Neoantigen-specific signature</text>
<text x="103" y="1276.8" text-anchor="middle" class="t75">neo_TCR8_signature</text>
<text x="50.7" y="1154.7" class="t75"><tspan font-style="italic">r</tspan> = 0.82</text>
<text x="88.9" y="1171.4" class="t75">High</text><text x="53.3" y="1193.3" class="t75">Intermediate</text><text x="49" y="1213.9" class="t75">Low</text>
<circle cx="161.9" cy="1157.3" r="2.3" fill="#f5e616"/>
<text x="167.3" y="1156.1" class="t75">Hyperexpanded</text><text x="167.3" y="1163.9" class="t75">(20 &lt; X ≤ 100)</text>
<circle cx="161.9" cy="1174.05" r="2.3" fill="#fcc419"/>
<text x="167.3" y="1172.85" class="t75">Large</text><text x="167.3" y="1180.65" class="t75">(10 &lt; X ≤ 20)</text>
<circle cx="161.9" cy="1190.8" r="2.3" fill="#f7941d"/>
<text x="167.3" y="1189.6" class="t75">Medium</text><text x="167.3" y="1197.4" class="t75">(5 &lt; X ≤ 10)</text>
<circle cx="161.9" cy="1207.55" r="2.3" fill="#7a4a3a"/>
<text x="167.3" y="1206.35" class="t75">Small</text><text x="167.3" y="1214.15" class="t75">(1 &lt; X ≤ 5)</text>
<circle cx="161.9" cy="1224.3" r="2.3" fill="#1a1a78"/>
<text x="167.3" y="1223.1" class="t75">Single</text><text x="167.3" y="1230.9" class="t75">(0 &lt; X ≤ 1)</text>
<circle cx="161.9" cy="1241" r="2.3" fill="#c8c8c8"/><text x="167.3" y="1243.7" class="t75">NA</text>
<text x="242" y="1143.6" class="pl">I</text>
<text x="318.2" y="1147.9" text-anchor="middle" font-style="italic" style="font-size:7.6px">Tumor reactivity score high cells</text>
<rect x="262" y="1151.2" width="113.9" height="92" fill="none" stroke="#333" stroke-width="0.7"/>
<text x="256.9" y="1241" text-anchor="end" class="t75">0</text>
<text x="256.9" y="1221.8" text-anchor="end" class="t75">1</text>
<text x="256.9" y="1202.6" text-anchor="end" class="t75">2</text>
<text x="256.9" y="1183.4" text-anchor="end" class="t75">3</text>
<text x="256.9" y="1164.2" text-anchor="end" class="t75">4</text>
<path d="M283.4 1171V1192.1M283.4 1208V1228.7" stroke="#444" stroke-width="0.6"/>
<rect x="269.7" y="1192.1" width="27.4" height="15.9" fill="#dcdcdc" stroke="#444" stroke-width="0.6"/>
<path d="M269.7 1199H297.1" stroke="#444" stroke-width="0.8"/>
<path d="M318.6 1175.4V1194.1M318.6 1219.2V1238.3" stroke="#444" stroke-width="0.6"/>
<rect x="305.2" y="1194.1" width="26.8" height="25.1" fill="#62b4b4" stroke="#444" stroke-width="0.6"/>
<path d="M305.2 1204.8H332" stroke="#444" stroke-width="0.8"/>
<path d="M354.25 1182.6V1205.4M354.25 1219.8V1238.3" stroke="#444" stroke-width="0.6"/>
<rect x="340.4" y="1205.4" width="27.7" height="14.4" fill="#f0623c" stroke="#444" stroke-width="0.6"/>
<path d="M340.4 1211.4H368.1" stroke="#444" stroke-width="0.8"/>
<path d="M262 1238.3h-2.6M262 1219.1h-2.6M262 1199.9h-2.6M262 1180.7h-2.6M262 1161.5h-2.6M283.4 1243.2v2.6M318.6 1243.2v2.6M354.25 1243.2v2.6" stroke="#333" stroke-width="0.7"/>
<g fill="#b0b0b0" fill-opacity="0.5" stroke="#333" stroke-width="0.35"><circle cx="281.47" cy="1206.64" r="0.85"/><circle cx="283.43" cy="1211.65" r="0.85"/><circle cx="283.34" cy="1201.32" r="0.85"/><circle cx="282.94" cy="1194.9" r="0.85"/><circle cx="281.83" cy="1188.03" r="0.85"/><circle cx="282.81" cy="1197.89" r="0.85"/><circle cx="281.76" cy="1204.25" r="0.85"/><circle cx="281.37" cy="1206.47" r="0.85"/><circle cx="283.74" cy="1191.75" r="0.85"/><circle cx="281.74" cy="1183.25" r="0.85"/><circle cx="285.16" cy="1196.32" r="0.85"/><circle cx="284.47" cy="1210.78" r="0.85"/><circle cx="280.4" cy="1208.14" r="0.85"/><circle cx="283.81" cy="1183.58" r="0.85"/><circle cx="281.75" cy="1196.99" r="0.85"/><circle cx="283.45" cy="1215.26" r="0.85"/><circle cx="283.47" cy="1199.74" r="0.85"/><circle cx="280.42" cy="1210.11" r="0.85"/><circle cx="283.05" cy="1204.98" r="0.85"/><circle cx="283.02" cy="1203.62" r="0.85"/><circle cx="284.84" cy="1205.79" r="0.85"/><circle cx="281.63" cy="1193.63" r="0.85"/><circle cx="284.51" cy="1199.55" r="0.85"/><circle cx="281.75" cy="1204.6" r="0.85"/><circle cx="282.9" cy="1195.01" r="0.85"/><circle cx="282.14" cy="1190.97" r="0.85"/><circle cx="285.57" cy="1214.71" r="0.85"/><circle cx="284.25" cy="1201.4" r="0.85"/><circle cx="287.05" cy="1208.36" r="0.85"/><circle cx="284.36" cy="1200.6" r="0.85"/><circle cx="317.01" cy="1208.81" r="0.85"/><circle cx="317.06" cy="1202.63" r="0.85"/><circle cx="318.58" cy="1186.26" r="0.85"/><circle cx="319.25" cy="1206.39" r="0.85"/><circle cx="317.8" cy="1199.65" r="0.85"/><circle cx="318.68" cy="1202.06" r="0.85"/><circle cx="319.68" cy="1194.8" r="0.85"/><circle cx="319.04" cy="1206.02" r="0.85"/><circle cx="319.9" cy="1203.58" r="0.85"/><circle cx="319.29" cy="1199.03" r="0.85"/><circle cx="319.33" cy="1200.63" r="0.85"/><circle cx="321.34" cy="1211.78" r="0.85"/><circle cx="319.53" cy="1191.5" r="0.85"/><circle cx="318.79" cy="1216.78" r="0.85"/><circle cx="319.66" cy="1215.66" r="0.85"/><circle cx="317.22" cy="1216.59" r="0.85"/><circle cx="318.09" cy="1190.68" r="0.85"/><circle cx="319.79" cy="1205.97" r="0.85"/><circle cx="319.55" cy="1213.01" r="0.85"/><circle cx="320.92" cy="1214.91" r="0.85"/><circle cx="318.62" cy="1196.97" r="0.85"/><circle cx="316.41" cy="1213.97" r="0.85"/><circle cx="321.52" cy="1216.47" r="0.85"/><circle cx="320.24" cy="1194.75" r="0.85"/><circle cx="317.01" cy="1215.61" r="0.85"/><circle cx="320.66" cy="1205.53" r="0.85"/><circle cx="318.65" cy="1201.9" r="0.85"/><circle cx="315.88" cy="1206.95" r="0.85"/><circle cx="317.97" cy="1202.44" r="0.85"/><circle cx="317.84" cy="1186.4" r="0.85"/><circle cx="320.99" cy="1207.77" r="0.85"/><circle cx="317.41" cy="1216.33" r="0.85"/><circle cx="318.22" cy="1221.98" r="0.85"/><circle cx="318.18" cy="1204.18" r="0.85"/><circle cx="318.03" cy="1205.88" r="0.85"/><circle cx="317.23" cy="1198.77" r="0.85"/><circle cx="318.93" cy="1207.17" r="0.85"/><circle cx="320.22" cy="1207.33" r="0.85"/><circle cx="319.54" cy="1210.13" r="0.85"/><circle cx="317.21" cy="1207.81" r="0.85"/><circle cx="316.88" cy="1199.97" r="0.85"/><circle cx="318.78" cy="1206.2" r="0.85"/><circle cx="317.54" cy="1200.66" r="0.85"/><circle cx="317.65" cy="1179.92" r="0.85"/><circle cx="316.08" cy="1196.3" r="0.85"/><circle cx="321.53" cy="1219.98" r="0.85"/><circle cx="319.97" cy="1181.85" r="0.85"/><circle cx="317.14" cy="1197.81" r="0.85"/><circle cx="319.96" cy="1212.67" r="0.85"/><circle cx="320.61" cy="1191.37" r="0.85"/><circle cx="315.02" cy="1201.62" r="0.85"/><circle cx="317.78" cy="1208.91" r="0.85"/><circle cx="318.02" cy="1209.12" r="0.85"/><circle cx="319.57" cy="1213.26" r="0.85"/><circle cx="318.42" cy="1201.27" r="0.85"/><circle cx="318.25" cy="1189.51" r="0.85"/><circle cx="318.51" cy="1205.56" r="0.85"/><circle cx="321.38" cy="1196.97" r="0.85"/><circle cx="321.84" cy="1180.21" r="0.85"/><circle cx="317.81" cy="1215.81" r="0.85"/><circle cx="317.21" cy="1198.85" r="0.85"/><circle cx="322.64" cy="1205.35" r="0.85"/><circle cx="351.87" cy="1219.49" r="0.85"/><circle cx="354.47" cy="1197.93" r="0.85"/><circle cx="353.79" cy="1215.13" r="0.85"/><circle cx="353.77" cy="1227.74" r="0.85"/><circle cx="353.81" cy="1215.48" r="0.85"/><circle cx="354.73" cy="1210.46" r="0.85"/><circle cx="354.74" cy="1200.19" r="0.85"/><circle cx="355.74" cy="1219.23" r="0.85"/><circle cx="355.69" cy="1204.7" r="0.85"/><circle cx="356.3" cy="1203.59" r="0.85"/><circle cx="355.51" cy="1216.5" r="0.85"/><circle cx="353.8" cy="1212.08" r="0.85"/><circle cx="354.22" cy="1195.17" r="0.85"/><circle cx="355.04" cy="1195.6" r="0.85"/><circle cx="353.83" cy="1203.07" r="0.85"/><circle cx="355.12" cy="1207.59" r="0.85"/><circle cx="356.03" cy="1200.63" r="0.85"/><circle cx="353.1" cy="1211.68" r="0.85"/><circle cx="351.64" cy="1211.28" r="0.85"/><circle cx="356.09" cy="1217.89" r="0.85"/><circle cx="354.33" cy="1210.41" r="0.85"/><circle cx="355.36" cy="1211.17" r="0.85"/><circle cx="352.3" cy="1186.5" r="0.85"/><circle cx="356.9" cy="1212.13" r="0.85"/><circle cx="355.41" cy="1199.48" r="0.85"/><circle cx="354.11" cy="1199.05" r="0.85"/><circle cx="353.77" cy="1212.07" r="0.85"/><circle cx="354.47" cy="1200.36" r="0.85"/><circle cx="354.05" cy="1227.74" r="0.85"/><circle cx="353.88" cy="1209.64" r="0.85"/><circle cx="352.62" cy="1203.05" r="0.85"/><circle cx="356.19" cy="1227.74" r="0.85"/><circle cx="354.24" cy="1220.48" r="0.85"/><circle cx="354.41" cy="1201.34" r="0.85"/><circle cx="354.44" cy="1212.68" r="0.85"/><circle cx="350.76" cy="1219.95" r="0.85"/><circle cx="355.09" cy="1213.69" r="0.85"/><circle cx="353.81" cy="1215.15" r="0.85"/><circle cx="353.87" cy="1204.2" r="0.85"/><circle cx="354.4" cy="1206.54" r="0.85"/><circle cx="352.84" cy="1212.88" r="0.85"/><circle cx="355.57" cy="1216.21" r="0.85"/><circle cx="353.26" cy="1210.93" r="0.85"/><circle cx="352.94" cy="1199.01" r="0.85"/><circle cx="353.01" cy="1207.44" r="0.85"/><circle cx="354.54" cy="1204.94" r="0.85"/><circle cx="355.42" cy="1211.76" r="0.85"/><circle cx="353.41" cy="1221.62" r="0.85"/><circle cx="352.03" cy="1216.6" r="0.85"/><circle cx="355.89" cy="1204.83" r="0.85"/><circle cx="352.7" cy="1209.57" r="0.85"/><circle cx="356.09" cy="1218.27" r="0.85"/><circle cx="285.6" cy="1229.66" r="0.85"/></g>
<g fill="#111"><circle cx="284.14" cy="1238.3" r="1"/><circle cx="283.26" cy="1238.3" r="1"/><circle cx="316.14" cy="1238.3" r="1"/><circle cx="320.02" cy="1238.3" r="1"/><circle cx="318.61" cy="1238.3" r="1"/><circle cx="318.99" cy="1238.3" r="1"/><circle cx="318.23" cy="1238.3" r="1"/><circle cx="316.79" cy="1238.3" r="1"/><circle cx="318.51" cy="1238.3" r="1"/><circle cx="321.98" cy="1238.3" r="1"/><circle cx="316.21" cy="1238.3" r="1"/><circle cx="320.46" cy="1238.3" r="1"/><circle cx="316.61" cy="1238.3" r="1"/><circle cx="316.15" cy="1238.3" r="1"/><circle cx="351.14" cy="1238.3" r="1"/><circle cx="351.47" cy="1238.3" r="1"/><circle cx="351.49" cy="1238.3" r="1"/><circle cx="357.06" cy="1238.3" r="1"/><circle cx="356.33" cy="1238.3" r="1"/></g>
<path d="M283.4 1165.2V1163.2H318.6V1165.2M318.6 1160V1158H354.3V1160M283.4 1173V1171H354.3V1173" fill="none" stroke="#333" stroke-width="0.6"/>
<text x="300.9" y="1162.2" text-anchor="middle" class="t65">0.042</text><text x="335.5" y="1157.1" text-anchor="middle" class="t65">0.0013</text><text x="318.8" y="1170.3" text-anchor="middle" class="t65">2.5e−08</text>
<text transform="translate(248.5 1197) rotate(-90)" text-anchor="middle" class="t75"><tspan font-style="italic">TOX</tspan> expression level</text>
<text transform="translate(286.5 1251.8) rotate(-45)" text-anchor="end" style="font-size:7.7px">Untreated</text>
<text transform="translate(321.7 1251.8) rotate(-45)" text-anchor="end" style="font-size:7.7px">αPD1</text>
<text transform="translate(357.4 1251.8) rotate(-45)" text-anchor="end" style="font-size:7.7px">CD8–IL2</text>
<text x="10.4" y="1293.6" class="pl">H</text>
<text transform="translate(30.3 1354.5) rotate(-90)" text-anchor="middle" class="t75">% of signature expressing CD8<tspan dy="-2.6" style="font-size:5px">+</tspan><tspan dy="2.6"> T cells</tspan></text>
<text x="104.9" y="1295.6" text-anchor="middle" class="t75">High (0–20%)</text>
<text x="45.5" y="1404.6" text-anchor="end" class="t75">0</text>
<text x="45.5" y="1384.76" text-anchor="end" class="t75">20</text>
<text x="45.5" y="1364.92" text-anchor="end" class="t75">40</text>
<text x="45.5" y="1345.08" text-anchor="end" class="t75">60</text>
<text x="45.5" y="1325.24" text-anchor="end" class="t75">80</text>
<text x="45.5" y="1305.4" text-anchor="end" class="t75">100</text>
<path d="M52.9 1302.7V1401.9M52.9 1401.9h-3M52.9 1382.06h-3M52.9 1362.22h-3M52.9 1342.38h-3M52.9 1322.54h-3M52.9 1302.7h-3" fill="none" stroke="#555" stroke-width="0.8"/>
<rect x="64.3" y="1401.4" width="22.5" height="0.5" fill="#3cb54a" stroke="#3a3a3a" stroke-opacity="0.55" stroke-width="0.35"/>
<rect x="64.3" y="1396.15" width="22.5" height="5.26" fill="#8a1c1c" stroke="#3a3a3a" stroke-opacity="0.55" stroke-width="0.35"/>
<rect x="64.3" y="1307.96" width="22.5" height="88.19" fill="#e41f26" stroke="#3a3a3a" stroke-opacity="0.55" stroke-width="0.35"/>
<rect x="64.3" y="1302.7" width="22.5" height="5.26" fill="#f4776e" stroke="#3a3a3a" stroke-opacity="0.55" stroke-width="0.35"/>
<rect x="64.3" y="1302.7" width="22.5" height="99.2" fill="none" stroke="#555" stroke-width="0.5"/>
<path d="M75.55 1402.5v2.6" stroke="#555" stroke-width="0.7"/>
<text transform="translate(78.45 1412.1) rotate(-45)" text-anchor="end" style="font-size:7.7px">Untreated</text>
<rect x="91.9" y="1401.21" width="22.5" height="0.69" fill="#7b3fa8" stroke="#3a3a3a" stroke-opacity="0.55" stroke-width="0.35"/>
<rect x="91.9" y="1396.94" width="22.5" height="4.27" fill="#3cb54a" stroke="#3a3a3a" stroke-opacity="0.55" stroke-width="0.35"/>
<rect x="91.9" y="1377.89" width="22.5" height="19.05" fill="#8a1c1c" stroke="#3a3a3a" stroke-opacity="0.55" stroke-width="0.35"/>
<rect x="91.9" y="1303.69" width="22.5" height="74.2" fill="#e41f26" stroke="#3a3a3a" stroke-opacity="0.55" stroke-width="0.35"/>
<rect x="91.9" y="1302.7" width="22.5" height="0.99" fill="#f4776e" stroke="#3a3a3a" stroke-opacity="0.55" stroke-width="0.35"/>
<rect x="91.9" y="1302.7" width="22.5" height="99.2" fill="none" stroke="#555" stroke-width="0.5"/>
<path d="M103.15 1402.5v2.6" stroke="#555" stroke-width="0.7"/>
<text transform="translate(106.05 1412.1) rotate(-45)" text-anchor="end" style="font-size:7.7px">αPD1</text>
<rect x="119.2" y="1399.92" width="22.5" height="1.98" fill="#7b3fa8" stroke="#3a3a3a" stroke-opacity="0.55" stroke-width="0.35"/>
<rect x="119.2" y="1392.38" width="22.5" height="7.54" fill="#3cb54a" stroke="#3a3a3a" stroke-opacity="0.55" stroke-width="0.35"/>
<rect x="119.2" y="1389.5" width="22.5" height="2.88" fill="#1b5e2b" stroke="#3a3a3a" stroke-opacity="0.55" stroke-width="0.35"/>
<rect x="119.2" y="1360.63" width="22.5" height="28.87" fill="#5cb848" stroke="#3a3a3a" stroke-opacity="0.55" stroke-width="0.35"/>
<rect x="119.2" y="1321.55" width="22.5" height="39.08" fill="#8a1c1c" stroke="#3a3a3a" stroke-opacity="0.55" stroke-width="0.35"/>
<rect x="119.2" y="1310.04" width="22.5" height="11.51" fill="#e41f26" stroke="#3a3a3a" stroke-opacity="0.55" stroke-width="0.35"/>
<rect x="119.2" y="1302.7" width="22.5" height="7.34" fill="#f4776e" stroke="#3a3a3a" stroke-opacity="0.55" stroke-width="0.35"/>
<rect x="119.2" y="1302.7" width="22.5" height="99.2" fill="none" stroke="#555" stroke-width="0.5"/>
<path d="M130.45 1402.5v2.6" stroke="#555" stroke-width="0.7"/>
<text transform="translate(133.35 1412.1) rotate(-45)" text-anchor="end" style="font-size:7.7px">CD8–IL2</text>
<text x="220.8" y="1295.6" text-anchor="middle" class="t75">Intermediate (21–40%)</text>
<text x="163.8" y="1404.6" text-anchor="end" class="t75">0</text>
<text x="163.8" y="1384.76" text-anchor="end" class="t75">20</text>
<text x="163.8" y="1364.92" text-anchor="end" class="t75">40</text>
<text x="163.8" y="1345.08" text-anchor="end" class="t75">60</text>
<text x="163.8" y="1325.24" text-anchor="end" class="t75">80</text>
<text x="163.8" y="1305.4" text-anchor="end" class="t75">100</text>
<path d="M170.3 1302.7V1401.9M170.3 1401.9h-3M170.3 1382.06h-3M170.3 1362.22h-3M170.3 1342.38h-3M170.3 1322.54h-3M170.3 1302.7h-3" fill="none" stroke="#555" stroke-width="0.8"/>
<rect x="182" y="1387.91" width="22.7" height="13.99" fill="#f9a11b" stroke="#3a3a3a" stroke-opacity="0.55" stroke-width="0.35"/>
<rect x="182" y="1365.59" width="22.7" height="22.32" fill="#f4776e" stroke="#3a3a3a" stroke-opacity="0.55" stroke-width="0.35"/>
<rect x="182" y="1330.48" width="22.7" height="35.12" fill="#e41f26" stroke="#3a3a3a" stroke-opacity="0.55" stroke-width="0.35"/>
<rect x="182" y="1328.49" width="22.7" height="1.98" fill="#8a1c1c" stroke="#3a3a3a" stroke-opacity="0.55" stroke-width="0.35"/>
<rect x="182" y="1314.41" width="22.7" height="14.09" fill="#7b3fa8" stroke="#3a3a3a" stroke-opacity="0.55" stroke-width="0.35"/>
<rect x="182" y="1308.65" width="22.7" height="5.75" fill="#d9a6d6" stroke="#3a3a3a" stroke-opacity="0.55" stroke-width="0.35"/>
<rect x="182" y="1307.66" width="22.7" height="0.99" fill="#c050a8" stroke="#3a3a3a" stroke-opacity="0.55" stroke-width="0.35"/>
<rect x="182" y="1304.68" width="22.7" height="2.98" fill="#d4d4d4" stroke="#3a3a3a" stroke-opacity="0.55" stroke-width="0.35"/>
<rect x="182" y="1302.7" width="22.7" height="1.98" fill="#d0d0d0" stroke="#3a3a3a" stroke-opacity="0.55" stroke-width="0.35"/>
<rect x="182" y="1302.7" width="22.7" height="99.2" fill="none" stroke="#555" stroke-width="0.5"/>
<path d="M193.35 1402.5v2.6" stroke="#555" stroke-width="0.7"/>
<text transform="translate(196.25 1412.1) rotate(-45)" text-anchor="end" style="font-size:7.7px">Untreated</text>
<rect x="209.7" y="1389" width="22.7" height="12.9" fill="#f9a11b" stroke="#3a3a3a" stroke-opacity="0.55" stroke-width="0.35"/>
<rect x="209.7" y="1388.01" width="22.7" height="0.99" fill="#c9842b" stroke="#3a3a3a" stroke-opacity="0.55" stroke-width="0.35"/>
<rect x="209.7" y="1355.57" width="22.7" height="32.44" fill="#f4776e" stroke="#3a3a3a" stroke-opacity="0.55" stroke-width="0.35"/>
<rect x="209.7" y="1326.11" width="22.7" height="29.46" fill="#e41f26" stroke="#3a3a3a" stroke-opacity="0.55" stroke-width="0.35"/>
<rect x="209.7" y="1322.14" width="22.7" height="3.97" fill="#8a1c1c" stroke="#3a3a3a" stroke-opacity="0.55" stroke-width="0.35"/>
<rect x="209.7" y="1314.11" width="22.7" height="8.04" fill="#7b3fa8" stroke="#3a3a3a" stroke-opacity="0.55" stroke-width="0.35"/>
<rect x="209.7" y="1308.85" width="22.7" height="5.26" fill="#d9a6d6" stroke="#3a3a3a" stroke-opacity="0.55" stroke-width="0.35"/>
<rect x="209.7" y="1302.7" width="22.7" height="6.15" fill="#d4d4d4" stroke="#3a3a3a" stroke-opacity="0.55" stroke-width="0.35"/>
<rect x="209.7" y="1302.7" width="22.7" height="99.2" fill="none" stroke="#555" stroke-width="0.5"/>
<path d="M221.05 1402.5v2.6" stroke="#555" stroke-width="0.7"/>
<text transform="translate(223.95 1412.1) rotate(-45)" text-anchor="end" style="font-size:7.7px">αPD1</text>
<rect x="237.5" y="1395.95" width="22.7" height="5.95" fill="#f9a11b" stroke="#3a3a3a" stroke-opacity="0.55" stroke-width="0.35"/>
<rect x="237.5" y="1389.9" width="22.7" height="6.05" fill="#c9842b" stroke="#3a3a3a" stroke-opacity="0.55" stroke-width="0.35"/>
<rect x="237.5" y="1368.77" width="22.7" height="21.13" fill="#f4776e" stroke="#3a3a3a" stroke-opacity="0.55" stroke-width="0.35"/>
<rect x="237.5" y="1359.24" width="22.7" height="9.52" fill="#e41f26" stroke="#3a3a3a" stroke-opacity="0.55" stroke-width="0.35"/>
<rect x="237.5" y="1341.39" width="22.7" height="17.86" fill="#8a1c1c" stroke="#3a3a3a" stroke-opacity="0.55" stroke-width="0.35"/>
<rect x="237.5" y="1329.88" width="22.7" height="11.51" fill="#5cb848" stroke="#3a3a3a" stroke-opacity="0.55" stroke-width="0.35"/>
<rect x="237.5" y="1323.04" width="22.7" height="6.84" fill="#1b5e2b" stroke="#3a3a3a" stroke-opacity="0.55" stroke-width="0.35"/>
<rect x="237.5" y="1322.04" width="22.7" height="0.99" fill="#3cb54a" stroke="#3a3a3a" stroke-opacity="0.55" stroke-width="0.35"/>
<rect x="237.5" y="1309.64" width="22.7" height="12.4" fill="#7b3fa8" stroke="#3a3a3a" stroke-opacity="0.55" stroke-width="0.35"/>
<rect x="237.5" y="1306.17" width="22.7" height="3.47" fill="#d9a6d6" stroke="#3a3a3a" stroke-opacity="0.55" stroke-width="0.35"/>
<rect x="237.5" y="1304.19" width="22.7" height="1.98" fill="#d4d4d4" stroke="#3a3a3a" stroke-opacity="0.55" stroke-width="0.35"/>
<rect x="237.5" y="1302.7" width="22.7" height="1.49" fill="#808080" stroke="#3a3a3a" stroke-opacity="0.55" stroke-width="0.35"/>
<rect x="237.5" y="1302.7" width="22.7" height="99.2" fill="none" stroke="#555" stroke-width="0.5"/>
<path d="M248.85 1402.5v2.6" stroke="#555" stroke-width="0.7"/>
<text transform="translate(251.75 1412.1) rotate(-45)" text-anchor="end" style="font-size:7.7px">CD8–IL2</text>
<text x="332.8" y="1295.6" text-anchor="middle" class="t75">Low (41–100%)</text>
<text x="276.5" y="1404.6" text-anchor="end" class="t75">0</text>
<text x="276.5" y="1384.76" text-anchor="end" class="t75">20</text>
<text x="276.5" y="1364.92" text-anchor="end" class="t75">40</text>
<text x="276.5" y="1345.08" text-anchor="end" class="t75">60</text>
<text x="276.5" y="1325.24" text-anchor="end" class="t75">80</text>
<text x="276.5" y="1305.4" text-anchor="end" class="t75">100</text>
<path d="M282.6 1302.7V1401.9M282.6 1401.9h-3M282.6 1382.06h-3M282.6 1362.22h-3M282.6 1342.38h-3M282.6 1322.54h-3M282.6 1302.7h-3" fill="none" stroke="#555" stroke-width="0.8"/>
<rect x="294.3" y="1363.71" width="22.7" height="38.19" fill="#f9a11b" stroke="#3a3a3a" stroke-opacity="0.55" stroke-width="0.35"/>
<rect x="294.3" y="1347.84" width="22.7" height="15.87" fill="#f4776e" stroke="#3a3a3a" stroke-opacity="0.55" stroke-width="0.35"/>
<rect x="294.3" y="1345.55" width="22.7" height="2.28" fill="#e41f26" stroke="#3a3a3a" stroke-opacity="0.55" stroke-width="0.35"/>
<rect x="294.3" y="1339.4" width="22.7" height="6.15" fill="#7b3fa8" stroke="#3a3a3a" stroke-opacity="0.55" stroke-width="0.35"/>
<rect x="294.3" y="1329.98" width="22.7" height="9.42" fill="#d9a6d6" stroke="#3a3a3a" stroke-opacity="0.55" stroke-width="0.35"/>
<rect x="294.3" y="1324.33" width="22.7" height="5.65" fill="#808080" stroke="#3a3a3a" stroke-opacity="0.55" stroke-width="0.35"/>
<rect x="294.3" y="1302.7" width="22.7" height="21.63" fill="#d4d4d4" stroke="#3a3a3a" stroke-opacity="0.55" stroke-width="0.35"/>
<rect x="294.3" y="1302.7" width="22.7" height="99.2" fill="none" stroke="#555" stroke-width="0.5"/>
<path d="M305.65 1402.5v2.6" stroke="#555" stroke-width="0.7"/>
<text transform="translate(308.55 1412.1) rotate(-45)" text-anchor="end" style="font-size:7.7px">Untreated</text>
<rect x="321.3" y="1363.71" width="22.7" height="38.19" fill="#f9a11b" stroke="#3a3a3a" stroke-opacity="0.55" stroke-width="0.35"/>
<rect x="321.3" y="1361.62" width="22.7" height="2.08" fill="#c9842b" stroke="#3a3a3a" stroke-opacity="0.55" stroke-width="0.35"/>
<rect x="321.3" y="1350.42" width="22.7" height="11.21" fill="#f4776e" stroke="#3a3a3a" stroke-opacity="0.55" stroke-width="0.35"/>
<rect x="321.3" y="1348.33" width="22.7" height="2.08" fill="#e41f26" stroke="#3a3a3a" stroke-opacity="0.55" stroke-width="0.35"/>
<rect x="321.3" y="1344.96" width="22.7" height="3.37" fill="#7b3fa8" stroke="#3a3a3a" stroke-opacity="0.55" stroke-width="0.35"/>
<rect x="321.3" y="1337.42" width="22.7" height="7.54" fill="#d9a6d6" stroke="#3a3a3a" stroke-opacity="0.55" stroke-width="0.35"/>
<rect x="321.3" y="1322.54" width="22.7" height="14.88" fill="#808080" stroke="#3a3a3a" stroke-opacity="0.55" stroke-width="0.35"/>
<rect x="321.3" y="1302.7" width="22.7" height="19.84" fill="#d4d4d4" stroke="#3a3a3a" stroke-opacity="0.55" stroke-width="0.35"/>
<rect x="321.3" y="1302.7" width="22.7" height="99.2" fill="none" stroke="#555" stroke-width="0.5"/>
<path d="M332.65 1402.5v2.6" stroke="#555" stroke-width="0.7"/>
<text transform="translate(335.55 1412.1) rotate(-45)" text-anchor="end" style="font-size:7.7px">αPD1</text>
<rect x="348.8" y="1388.41" width="22.7" height="13.49" fill="#f9a11b" stroke="#3a3a3a" stroke-opacity="0.55" stroke-width="0.35"/>
<rect x="348.8" y="1378.59" width="22.7" height="9.82" fill="#c9842b" stroke="#3a3a3a" stroke-opacity="0.55" stroke-width="0.35"/>
<rect x="348.8" y="1370.26" width="22.7" height="8.33" fill="#f4776e" stroke="#3a3a3a" stroke-opacity="0.55" stroke-width="0.35"/>
<rect x="348.8" y="1367.68" width="22.7" height="2.58" fill="#e41f26" stroke="#3a3a3a" stroke-opacity="0.55" stroke-width="0.35"/>
<rect x="348.8" y="1366.19" width="22.7" height="1.49" fill="#8a1c1c" stroke="#3a3a3a" stroke-opacity="0.55" stroke-width="0.35"/>
<rect x="348.8" y="1363.91" width="22.7" height="2.28" fill="#5cb848" stroke="#3a3a3a" stroke-opacity="0.55" stroke-width="0.35"/>
<rect x="348.8" y="1351.31" width="22.7" height="12.6" fill="#1b5e2b" stroke="#3a3a3a" stroke-opacity="0.55" stroke-width="0.35"/>
<rect x="348.8" y="1345.26" width="22.7" height="6.05" fill="#7b3fa8" stroke="#3a3a3a" stroke-opacity="0.55" stroke-width="0.35"/>
<rect x="348.8" y="1335.44" width="22.7" height="9.82" fill="#d9a6d6" stroke="#3a3a3a" stroke-opacity="0.55" stroke-width="0.35"/>
<rect x="348.8" y="1320.56" width="22.7" height="14.88" fill="#808080" stroke="#3a3a3a" stroke-opacity="0.55" stroke-width="0.35"/>
<rect x="348.8" y="1302.7" width="22.7" height="17.86" fill="#d4d4d4" stroke="#3a3a3a" stroke-opacity="0.55" stroke-width="0.35"/>
<rect x="348.8" y="1302.7" width="22.7" height="99.2" fill="none" stroke="#555" stroke-width="0.5"/>
<path d="M360.15 1402.5v2.6" stroke="#555" stroke-width="0.7"/>
<text transform="translate(363.05 1412.1) rotate(-45)" text-anchor="end" style="font-size:7.7px">CD8–IL2</text>
</svg>
</body></html>
